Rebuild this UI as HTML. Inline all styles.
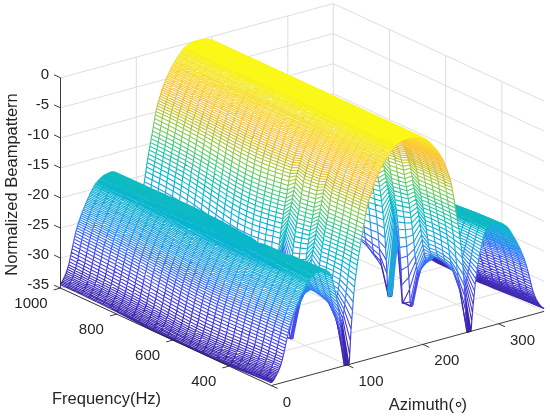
<!DOCTYPE html><html><head><meta charset="utf-8"><style>html,body{margin:0;padding:0;background:#fff;width:550px;height:417px;overflow:hidden}svg{display:block}text{font-family:"Liberation Sans",Arial,Helvetica,sans-serif;fill:#262626}</style></head><body><svg width="550" height="417" viewBox="0 0 550 417"><rect width="550" height="417" fill="#fff"/><path d="M136.3 181.7L136.3 57.1M212.1 40L212.1 36.5M287.8 75.2L287.8 15.9M60.5 288.1L65.1 286.9M544.1 311.4L498 290.1M60.5 258.1L70.6 255.3M544.1 281.4L528.9 274.3M60.5 228L78.1 223.2M544.1 251.3L514.1 237.4M60.5 198L92.4 189.3M130.3 179L145.2 174.9M544.1 221.3L449.7 177.6M60.5 167.9L150.1 143.5M329.9 94.6L333.3 93.7M544.1 191.2L333.3 93.7M60.5 137.9L155.9 111.9M288.9 75.7L333.3 63.7M544.1 161.2L333.3 63.7M60.5 107.8L166 79.1M248.3 56.7L333.3 33.6M544.1 131.1L333.3 33.6M60.5 77.8L195.2 41.1M199.3 40L333.3 3.6M544.1 101.1L333.3 3.6M501.9 223.4L501.9 81.6M284.4 351.1L339.5 336.1M351.1 332.9L461.9 302.8M473.9 299.5L501.9 291.9M445.7 166.1L445.7 55.6M299.7 305.6L324.3 298.9M354.5 290.7L384.9 282.4M393.6 280.1L400.1 278.3M419.9 272.9L444.3 266.3M389.5 122.1L389.5 29.6M116.7 314.1L119.6 313.3M360.1 247.9L367.1 246M333.3 96.1L333.3 3.6M60.5 288.1L65.1 286.9M271.3 385.6L224.8 364.1M224.3 363.9L223.2 363.4M152.4 330.6L151.3 330.1M150.8 329.9L60.5 288.1M343.9 363.5L291 339.1M422.9 344.4L352.3 311.7M324.4 298.8L308 291.3M498.6 323.8L472.5 311.7M462.6 307.1L416.9 286M400.2 278.2L394 275.4M382.5 270L358.4 258.9" stroke="#dadada" stroke-width="0.9" fill="none"/><g fill="none" stroke-width="1.1" stroke-linejoin="round" stroke-linecap="butt"><path stroke="#3e27aa" d="M271.3 382.7l.7 -.6M344.3 365.8l4.8 -1.3 .7 -9.7M467 332.4l4.1 -1.1 .7 -10.2M264.3 379.7l1.4 -1.5M536.4 305.2l.7 .3M257.2 376.8l1.4 -1.5M529.4 302.3l.7 .3M250.2 373.9l2 -2.4M521.7 299l1.4 .8M243.2 371.1l2 -2.5M514.6 296.2l1.4 .8M236.2 368.4l1.4 -1.5 1.3 -2.1M506.9 292.8l1.4 1.1 .6 .3M229.1 365.7l1.4 -1.6 2 -3.2M499.2 289.4l1.4 1.3 1.3 .8M222.1 362.9l.7 -.5 .7 -.9 2 -3.3M492.2 286.7l2 1.9 .7 .1M215.1 359.6l.7 -.2 .7 -.7 2.7 -4.5M290.1 338.2l.7 .8 2 -.5 .4 -3.7M410.8 306.4l1.4 -.4 .6 -1.2 .4 -3.1M413.3 300.9l0 0M484.5 283.1l2 2.2 1 .2M208.1 356.4l1.4 -.4 2.7 -4.6M402.4 303.5l2 -.6M477.5 280.3l2 2.2 .7 -.1M201 353.1l1.4 -.4 .6 -.7 2.1 -3.6M194 349.9l1.4 -.4 .6 -.5 2.1 -3.7M388.4 297l3.4 -.9 .7 -4.8M187 346.6l1.4 -.4 .6 -.4 2.1 -3.8M180 343.4l1.4 -.4 .6 -.6 2.1 -3.7M449.3 267.6l1.4 1.7 .6 .2M172.9 340.1l1.4 -.4 .6 -.8 2.1 -3.9M442.3 264l1.4 1.7 .6 .5 .5 -.1M165.9 336.9l1.4 -.6 2.7 -4.9M435.3 260.3l2 2.5 1 -.1M158.9 333.6l.7 -.2 .7 -.9 2 -3.6M431 259.6l.2 -.1M151.8 330.4l.7 -.6 2 -3.4M144.8 326.7l1.4 -1.9 1.3 -2.4M137.8 322.9l2 -3.1M130.8 319.1l2 -3.1M123.7 315.4l1.4 -2M116.7 311.8l1.4 -2M109.7 308.2l.7 -.9M102.7 304.7l.7 -1M95.6 301.3l.7 -1M88.6 297.9l.7 -1M271.3 382.7l-21.1 -8.8 -28.1 -11.1 -70.3 -32.5 -35.1 -18.5 -14 -7.1 -21.1 -10.2M265 379.1l-14.1 -5.8 -28.1 -10.9 -7 -2.9 -56.2 -26 -28.1 -15.2 -21.1 -11M251.6 372.4l-42.2 -16.5 -35.1 -16.2 -7 -3.4 -42.2 -22.9M238.2 365.9l-28.1 -11 -14.1 -5.9 -7 -3.2 -7 -3.4 -14.1 -7.2 -28.1 -15.4M231.9 362.1l-21.1 -8.3 -14 -6 -7.1 -3.2 -14 -6.9 -21.1 -11.4M218.5 355.4l-14.1 -5.8 -14 -6.3 -14.1 -6.9 -14 -7.5M344.3 365.8l-6.7 -40.9M337.5 324.1l-0 -.2M345 365.6l-1.7 -10.3M343 353.8l0 0M342.7 352.3l0 0M342.5 350.8l0 0M342.2 349.4l0 0M342 347.9l0 0M341.7 346.4l0 0M341.5 344.9l0 0M341.2 343.5l0 0M341 342l-.1 -.5M340.7 340.5l-0 -.2M340.5 339.1l-0 -.2M340.2 337.6l-0 -.2M340 336.1l0 0M345.6 365.4l-2.8 -16.2M346.3 365.2l-4.1 -22.6M342.1 341.8l-.1 -.5M290.1 338.2l-3 -1M347 365l-5.5 -30M341.4 334.3l-.1 -.7M341 332.1l0 0M290.8 339l-3.6 -1.7M347.7 364.8l-7 -38.9M291.5 338.8l-.7 -.3M290.3 338.3l0 0M289.9 338.1l0 0M289.4 337.9l-.5 -.2M288.1 337.3l0 0M287.6 337l0 0M348.4 364.6l-7 -40.1M292.2 338.6l-.7 -.3M349 364.5l-7 -42.4M292.8 338.5l-.7 -.3M280.1 251.8l0 0M402.4 303.5l-5.6 -66.8M396.7 235.7l-.1 -1M388.4 297l-7 -31.5M403.1 303.3l-.3 -3.5M402.7 298.8l-0 -.5M399.7 263.5l-0 -.2M399.5 260.5l0 0M389.1 296.8l-.5 -2.2M385.5 281.5l0 0M385.2 280.5l0 0M384.9 279.3l0 0M384.7 278.4l0 0M384.5 277.4l0 0M384.2 276.2l0 0M384 275.2l0 0M383.7 274.2l0 0M383.6 273.8l0 0M383.5 273l-.1 -.2M383.2 272.1l-.1 -.2M382.9 270.8l-.1 -.2M382.7 269.9l-.1 -.2M382.5 268.9l-.1 -.2M382.2 267.7l-.1 -.2M467 332.4l-7 -41.2M410.8 306.4l-7 -3.2 -.1 -.8M389.7 296.6l-.4 -1.9M467.7 332.2l-1.7 -9.4M465.9 322.1l-.1 -.7M461 294.8l0 0M411.5 306.2l-7 -3.2M390.4 296.4l-.5 -2.2M468.4 332l-2.6 -14.5M412.2 306l-.7 -.3M391.1 296.2l-.5 -2.7M469.1 331.8l-3.6 -19.9M412.9 304.8l-.5 -.1M391.8 296.1l-.5 -2.7M469.8 331.6l-4.5 -25.6M465.1 304.8l-0 -.2M470.4 331.4l-5.7 -33.4M471.1 331.2l-6.9 -42.1M484.5 283.1l-8.8 -3.6M450.9 268.4l-18.7 -9.7M499.2 289.4l-23.6 -9.3M452.2 269.6l0 0M451.8 269.3l-8.8 -4.4 -11.2 -5.9M506.9 292.8l-31.3 -12.3M452.9 270.4l-9.2 -4.6 -12.3 -6.5M521.7 299l-35.1 -13.7 -7.1 -2.8 -3.8 -1.7M453 270.3l-15.6 -7.4 -6.2 -3.3M536.4 305.2l-21.1 -8.6 -21.1 -8.1 -7 -2.9 -5.4 -2.6M481.3 282.9l-.2 -.1M480.6 282.5l0 0M480.2 282.3l0 0M479.7 282.1l-.2 -.1M477.9 281.3l0 0M477.5 281.1l0 0M476.8 280.8l0 0M446 266.5l0 0M445.5 266.3l0 0M444.4 265.8l0 0M443.9 265.6l0 0M443.5 265.4l0 0M441.6 264.5l0 0M441.2 264.3l0 0M440.7 264.1l0 0M440.1 263.8l0 0M439.6 263.6l0 0M439.2 263.4l-1.1 -.5M437.6 262.6l-6.6 -3M544.1 308.5l-14.1 -5.9 -28.1 -11.1 -10.4 -4.4M491.1 286.9l-.7 -.3M489.9 286.3l0 0M489.5 286.1l-.2 -.1M488.1 285.5l0 0"/><path stroke="#3e28ae" d="M272 382.1l1.4 -1.7 2 -3.3M466.4 327.7l.7 4.6M540.7 305.9l2 1.9 1.4 .7M265.6 378.3l2.7 -4.2M533.7 302.9l1.4 1.4 1.3 1M258.6 375.3l2.7 -4.3M526.6 299.9l1.4 1.4 1.3 1M252.3 371.5l2 -3.4M519.6 296.9l2 2M245.2 368.7l2.7 -4.7M511.9 293.3l1.4 1.6 1.3 1.3M238.9 364.8l2 -3.7M504.9 290.5l2 2.4M232.6 360.9l2 -3.9M497.2 286.8l2 2.6M225.5 358.2l2 -3.9M490.1 284l2 2.7M219.2 354.2l1.4 -2.7M410.1 302l.7 4.4M483.1 281.2l1.4 1.9M212.2 351.3l2 -4.2M475.8 278l1.6 2.3M205.1 348.4l2 -4.2M198.1 345.3l2 -4.3M387.7 291.9l.7 5M392.5 291.3l.7 -9.1M191.1 342l2 -4.3M184 338.6l2 -4.4M448 265.6l1.4 2M177 335l2 -4.4M440.3 261l2 3.1M170 331.3l1.4 -2.9M433.9 258.3l1.4 2M162.3 328.9l2 -4.3M154.6 326.3l2 -4.1M147.5 322.4l2 -4.2M139.8 319.8l2 -4M132.8 316l2 -4.1M125.1 313.4l2 -3.9M118.1 309.8l2 -3.9M110.4 307.3l2.7 -5.1M103.3 303.7l2 -3.7M96.3 300.3l2 -3.8M89.3 296.9l2 -3.8M81.6 294.6l2.7 -4.9M74.6 291.2l2.7 -5M67.5 288l2.7 -5M60.5 284.7l2.7 -5.1M81.6 294.6l-21.1 -9.9M272 382.1l-7 -3M110.4 307.3l-21.1 -10.4 -28.1 -13.3M272.7 381.3l-21.1 -8.9M125.1 313.4l-14.1 -7.3 -14 -7 -35.1 -16.8M273.3 380.4l-14.1 -6 -21 -8.5M139.8 319.8l-21.1 -11.3 -14 -7.1 -21.1 -10.4 -21.1 -10M274 379.4l-21.1 -8.9 -21.1 -8.4M154.6 326.3l-28.1 -15.4 -21.1 -10.9M274.7 378.3l-21.1 -9 -35.1 -13.8M162.3 328.9l-35.1 -19.3M247.3 365.2l-35.1 -13.9 -14.1 -6 -7 -3.3 -7 -3.4 -14.1 -7.3 -28.1 -15.5M233.9 358.4l-21.1 -8.4 -14 -6 -7.1 -3.3 -14 -7 -21.1 -11.5M213.5 348.6l-14.1 -6.1 -7 -3.2 -7 -3.5 -14.1 -7.3M387.7 291.9l-7 -30.5M466.4 327.7l-7 -40.1M410.1 302l-7 1.3M392.5 291.3l-.2 -1.2M446.4 264.1l-13 -6.8M497.2 286.8l-21.3 -8.5M448 265.6l-15.1 -7.9M511.9 293.3l-36 -14.3M450 267.3l0 0M449.5 267.1l-17.1 -8.9M540.7 305.9l-21.1 -9 -35.1 -13.8M541.4 306.6l-21.1 -8.9 -21.1 -8.4M542.1 307.3l-14.1 -6 -21 -8.5M542.7 307.8l-21.1 -8.9M543.4 308.2l-7 -3"/><path stroke="#3f2bb4" d="M275.4 377.1l2 -3.9M349.7 354.8l.7 -13.7M538.6 303.3l2 2.6M268.4 374l2 -3.9M531.6 300.2l2 2.6M261.3 371l2 -4M524.6 297.2l2 2.7M254.3 368.1l2 -4M517.6 294.2l2 2.7M248 363.9l2 -4.2M509.9 290.3l2 2.9M240.9 361.1l2 -4.3M502.8 287.5l2 3M234.6 357l1.4 -3M495.8 284.7l1.4 2.1M227.6 354.2l2 -4.6M488.1 280.8l2 3.2M220.5 351.4l2 -4.7M289.4 332l.7 6.2M481.1 277.9l2 3.3M214.2 347.1l1.4 -3.3M207.2 344.1l1.4 -3.3M200.1 341l1.4 -3.3M193.1 337.7l1.4 -3.4M186.1 334.3l1.4 -3.4M179.1 330.6l1.4 -3.5M439.1 258.9l1.1 2M171.4 328.4l2 -5.1M433.4 257.4l.6 .9M164.3 324.6l1.4 -3.3M156.6 322.2l2 -4.8M149.6 318.3l1.4 -3.1M141.9 315.8l2 -4.6M134.9 311.9l1.4 -3M127.2 309.6l2 -4.5M120.1 305.8l1.4 -2.9M113.1 302.2l1.4 -3M105.4 300l2 -4.4M98.4 296.5l2 -4.5M91.3 293.1l1.4 -3M84.3 289.7l1.4 -3M77.3 286.3l1.4 -3M70.3 282.9l1.4 -3M63.2 279.6l1.4 -3.1M105.4 300l-21.1 -10.4 -21.1 -10.1M127.2 309.6l-14.1 -7.4 -14 -7.1 -35.1 -17M275.4 377.1l-14.1 -6.1 -14 -5.8M141.9 315.8l-21.1 -11.4 -28.1 -14.3M276.1 375.8l-21.1 -9 -21.1 -8.5M156.6 322.2l-21.1 -11.7 -14 -7.6M276.8 374.5l-21.1 -9.1 -42.1 -16.9M171.4 328.4l-35.1 -19.5M249.3 361.2l-35.1 -14.1 -14.1 -6.1 -7 -3.3 -7 -3.4 -14.1 -7.4 -21.1 -11.8M228.9 351.2l-21.1 -8.7 -14 -6.5 -14.1 -7.1 -14 -7.6M289.4 332l-1.3 .8M349.7 354.8l-7 -36.1M488.1 280.8l-12 -4.9M509.9 290.3l-33.8 -13.5M444 262l0 0M443.1 261.6l-9.4 -5M538.6 303.3l-21.1 -9.1 -41.7 -16.7M539.3 304.2l-21.1 -9 -21.1 -8.5M540 305.1l-14.1 -6.1 -14 -5.8"/><path stroke="#402dbb" d="M277.4 373.2l1.4 -3M343.6 356l.7 9.8M471.8 321.1l.7 -8.8M537.3 301.3l1.4 2.1M270.4 370.1l1.4 -3M530.3 298.1l1.4 2.1M263.4 367l2 -4.7M522.5 293.9l2 3.3M256.4 364.1l2 -4.8M515.5 290.9l2 3.4M250 359.7l1.4 -3.3M508.5 288l1.4 2.4M243 356.9l1.4 -3.4M501.5 285.1l1.4 2.4M236 354l1.4 -3.4M494.4 282.3l1.4 2.4M229.6 349.6l1.4 -3.7M486.7 278l1.4 2.7M222.6 346.7l1.4 -3.8M479.7 275.2l1.4 2.7M215.6 343.8l1.4 -3.8M208.5 340.8l1.4 -3.9M201.5 337.6l1.4 -3.9M194.5 334.3l1.4 -4M187.5 330.8l1.4 -4M180.4 327.2l1.4 -4M173.4 323.4l.7 -2M165.7 321.3l1.4 -3.8M158.7 317.4l1.4 -3.9M151 315.1l1.4 -3.6M143.9 311.2l1.4 -3.7M136.2 308.9l1.4 -3.4M129.2 305.1l1.4 -3.5M121.5 302.9l2 -5.1M114.5 299.2l1.4 -3.3M107.4 295.6l1.4 -3.3M100.4 292.1l1.4 -3.4M92.7 290.1l2 -5M85.7 286.7l2 -5M78.6 283.3l2 -5.1M71.6 279.9l1.4 -3.3M64.6 276.5l1.4 -3.4M92.7 290.1l-28.1 -13.6M121.5 302.9l-21.1 -10.8 -35.1 -17.2M136.2 308.9l-14.1 -7.6 -14 -7.3 -35.1 -17.4M277.4 373.2l-14.1 -6.1 -14 -5.9M151 315.1l-21.1 -11.7 -14 -7.5M278.1 371.7l-21.1 -9.1 -28.1 -11.4M165.7 321.3l-28.1 -15.8M264.7 364l-14.1 -5.9 -35.1 -14.3 -14 -6.2 -7.1 -3.3 -14 -7.1 -28.1 -15.7M230.3 347.8l-14.1 -5.8 -14 -6.2 -14.1 -6.9 -14 -7.5M343.6 356l-7 -35M471.8 321.1l-7 -35M486.7 278l-10.4 -4.3M522.5 293.9l-14.1 -5.9 -32.1 -13.1M537.3 301.3l-21.1 -9.1 -28.1 -11.4M538 302.3l-14.1 -6.1 -14 -5.9"/><path stroke="#4130c3" d="M278.8 370.2l1.4 -3.5M535.9 298.8l1.4 2.5M271.8 367.1l2 -5.5M528.2 294.2l2 3.9M265.4 362.3l1.4 -3.8M521.2 291.1l1.4 2.8M258.4 359.3l1.4 -3.9M514.2 288.1l1.4 2.8M251.4 356.4l1.4 -3.9M507.1 285.1l1.4 2.9M244.4 353.5l1.4 -4M500.1 282.2l1.4 2.9M237.3 350.6l1.4 -4M493.1 279.3l1.4 3M231 345.8l.7 -2.1M486 276.5l.7 1.6M224 343l1.4 -4.7M289 328.6l.4 3.4M478.3 271.8l1.4 3.4M216.9 340l1.4 -4.8M209.9 336.9l1.4 -4.8M202.9 333.7l1.4 -4.9M393.3 280.7l.1 -1M393.5 277.7l0 -.5M195.8 330.4l1.4 -5M188.8 326.8l1.4 -5.1M181.8 323.1l.7 -2.4M174.1 321.4l1.4 -4.6M167.1 317.5l1.4 -4.7M160 313.5l.7 -2.2M152.3 311.5l1.4 -4.3M145.3 307.5l1.4 -4.4M137.6 305.5l1.4 -4M130.6 301.6l1.4 -4.1M123.5 297.8l1.4 -4.1M115.8 295.9l1.4 -3.8M108.8 292.3l1.4 -3.9M101.8 288.7l1.4 -3.9M94.7 285.1l1.4 -4M87.7 281.6l1.4 -4M80.7 278.2l.7 -2M73 276.6l1.4 -3.8M66 273.1l1.4 -3.9M73 276.6l-7 -3.4M115.8 295.9l-21.1 -10.8 -28.1 -13.8M137.6 305.5l-14.1 -7.7 -14 -7.4 -28.1 -14.2M278.8 370.2l-14.1 -6.2M152.3 311.5l-21.1 -11.8 -14 -7.6M279.5 368.5l-21.1 -9.2 -28.1 -11.6M174.1 321.4l-35.1 -19.9M273.1 363.6l-21.1 -9.1 -35.1 -14.5 -14.1 -6.2 -7 -3.4 -14 -7.2 -21.1 -11.9M224.6 340.8l-14.1 -6.1 -7 -3.2 -7 -3.5 -14.1 -7.3M478.3 271.8l-1.6 -.7M528.2 294.2l-21.1 -9.1 -30.6 -12.6M535.9 298.8l-21.1 -9.2 -28.1 -11.6M536.6 300.1l-14.1 -6.2"/><path stroke="#4233cb" d="M280.2 366.7l1.4 -4.1M342.9 347.6l.7 8.4M472.5 312.3l.7 -7.7M534.6 295.8l1.4 3M273.8 361.6l.7 -2.2M527.5 292.6l.7 1.6M266.8 358.5l.7 -2.3M520.5 289.5l.7 1.6M259.8 355.4l.7 -2.3M513.5 286.4l.7 1.6M252.7 352.4l1.4 -5M505.8 281.5l1.4 3.6M245.7 349.5l1.4 -5.1M498.7 278.5l1.4 3.7M238.7 346.6l1.4 -5.1M491.7 275.6l1.4 3.8M231.7 343.7l1.4 -5.2M484.7 272.6l1.4 3.9M225.3 338.3l.7 -2.8M409.5 289.5l.7 12.5M477.7 269.7l.7 2.1M218.3 335.3l.7 -2.8M401.7 285l.7 18.5M211.3 332.1l.7 -2.9M204.2 328.8l.7 -2.9M197.2 325.4l.7 -2.9M190.2 321.8l.7 -2.9M182.5 320.7l1.4 -5.7M175.4 316.8l.7 -2.8M168.4 312.8l.7 -2.8M160.7 311.3l1.4 -5.4M153.7 307.2l.7 -2.6M146.7 303.2l.7 -2.6M139 301.5l1.4 -5M131.9 297.5l.7 -2.4M124.9 293.7l.7 -2.4M117.2 292.1l1.4 -4.6M110.2 288.4l1.4 -4.7M103.1 284.7l1.4 -4.8M96.1 281.2l.7 -2.3M89.1 277.6l.7 -2.3M81.4 276.2l1.4 -4.5M74.3 272.7l1.4 -4.5M67.3 269.3l1.4 -4.6M81.4 276.2l-14.1 -6.9M117.2 292.1l-21.1 -10.9 -28.1 -14.1M139 301.5l-21.1 -11.6 -21.1 -11M280.2 366.7l-7 -3.2M160.7 311.3l-28.1 -16.1M280.8 364.8l-21.1 -9.4 -35.1 -14.6M182.5 320.7l-14.1 -7.9 -14 -8.2M253.4 350.1l-28.1 -11.8 -14.1 -6.2 -14 -6.7 -7 -3.6 -14.1 -7.8M342.9 347.6l-7 -28.6M281 252.9l-.2 -2M401.7 285l-6.1 -57.9M395.5 225.9l-0 -.2M409.5 289.5l-7 14M472.5 312.3l-7 -28.6M505.8 281.5l-28.6 -12M534.6 295.8l-21.1 -9.4 -35.1 -14.6M535.2 297.4l-7 -3.2"/><path stroke="#4336d4" d="M281.5 362.6l1.4 -5.3M465.7 310.5l.7 17.2M533.2 291.9l1.4 3.9M274.5 359.4l1.4 -5.3M526.2 288.6l1.4 4M267.5 356.2l1.4 -5.4M519.1 285.4l1.4 4.1M260.5 353.1l1.4 -5.5M512.1 282.3l1.4 4.2M254.1 347.4l.7 -2.9M505.1 279.2l.7 2.3M247.1 344.4l.7 -2.9M498.1 276.2l.7 2.3M240.1 341.5l.7 -2.9M491 273.2l.7 2.3M233 338.5l.7 -3M484 270.2l.7 2.4M226 335.5l.7 -3M477.2 267.9l.5 1.8M219 332.4l.7 -3M211.9 329.3l.7 -3M204.9 325.9l.7 -3.1M197.9 322.5l.7 -3.1M190.9 318.8l.7 -3.1M183.8 315l.7 -3.1M176.1 314l1.4 -6.2M169.1 310l.7 -3M162.1 305.9l.7 -3.1M154.4 304.6l1.4 -6M147.3 300.5l.7 -2.9M140.3 296.4l.7 -3M132.6 295.2l1.4 -5.7M125.6 291.3l.7 -2.8M118.6 287.4l.7 -2.8M111.5 283.6l.7 -2.9M104.5 279.9l.7 -2.9M96.8 278.9l1.4 -5.6M89.8 275.3l1.4 -5.6M82.7 271.7l.7 -2.7M75.7 268.2l.7 -2.8M68.7 264.6l.7 -2.8M96.8 278.9l-28.1 -14.2M132.6 295.2l-21.1 -11.5 -28.1 -14.6M154.4 304.6l-28.1 -16.1M281.5 362.6l-14.1 -6.4 -14 -6.1M176.1 314l-28.1 -16.4M282.2 360.1l-21.1 -9.6 -42.1 -18.1 -14.1 -6.5 -14 -7.1 -21.1 -11.9M465.7 310.5l-7 -27.6M533.2 291.9l-21.1 -9.6 -34.7 -14.8M533.9 294l-14.1 -6.4 -14 -6.1"/><path stroke="#443add" d="M282.9 357.4l.7 -3M342.2 340.2l.7 7.3M350.4 341l.7 -11.5M473.2 304.6l.7 -7M532.5 289.5l.7 2.4M275.9 354.1l.7 -3M525.5 286.2l.7 2.4M268.8 350.8l.7 -3M518.5 282.9l.7 2.5M261.8 347.7l.7 -3M511.4 279.8l.7 2.5M254.8 344.6l.7 -3M504.4 276.7l.7 2.5M247.8 341.5l.7 -3.1M497.4 273.6l.7 2.5M240.7 338.5l.7 -3.1M490.3 270.6l.7 2.6M233.7 335.5l.7 -3.1M483.3 267.6l.7 2.6M226.7 332.5l.7 -3.1M219.7 329.4l.7 -3.1M212.6 326.2l.7 -3.2M205.6 322.9l.7 -3.2M387 274.1l.7 17.8M198.6 319.4l.7 -3.2M191.5 315.7l.7 -3.2M184.5 311.9l.7 -3.2M177.5 307.9l.7 -3.2M169.8 307l.7 -3.2M162.8 302.8l.7 -3.2M155.7 298.6l.7 -3.2M148 297.6l.7 -3.1M141 293.5l.7 -3.1M134 289.4l.7 -3.2M126.3 288.5l1.4 -6.2M119.2 284.6l.7 -3.1M112.2 280.8l.7 -3.1M105.2 277l.7 -3.1M98.2 273.3l.7 -3.1M91.1 269.7l.7 -3.2M83.4 269l1.4 -6.2M76.4 265.4l.7 -3M69.4 261.8l.7 -3.1M83.4 269l-14.1 -7.2M126.3 288.5l-21.1 -11.4 -28.1 -14.7M148 297.6l-28.1 -16M169.8 307l-21.1 -12.5M282.9 357.4l-21.1 -9.7 -42.1 -18.2 -14.1 -6.6 -14 -7.2 -21.1 -11.9M342.2 340.2l-7 -23.4M350.4 341l-7 -26.6M387 274.1l-7 -18.7M473.2 304.6l-7 -23.4M532.5 289.5l-21.1 -9.7 -33.8 -14.6"/><path stroke="#453ee3" d="M283.6 354.4l.7 -3.1M531.8 286.9l.7 2.6M276.5 351.1l.7 -3.1M524.8 283.5l.7 2.6M269.5 347.8l.7 -3.1M517.8 280.3l.7 2.6M262.5 344.6l.7 -3.1M510.7 277.1l.7 2.7M255.5 341.5l.7 -3.1M503.7 274l.7 2.7M248.4 338.5l.7 -3.2M496.7 270.9l.7 2.7M241.4 335.4l.7 -3.2M489.7 267.9l.7 2.7M234.4 332.4l.7 -3.2M482.6 264.9l.7 2.7M227.4 329.4l.7 -3.2M220.3 326.3l.7 -3.2M213.3 323.1l.7 -3.2M206.3 319.7l.7 -3.2M199.3 316.2l.7 -3.2M381.4 265.5l.6 1.3M192.2 312.5l.7 -3.2M185.2 308.6l.7 -3.2M178.2 304.6l.7 -3.3M170.5 303.8l.7 -3.2M163.4 299.6l.7 -3.3M156.4 295.4l.7 -3.3M148.7 294.5l1.4 -6.5M141.7 290.4l.7 -3.2M134.7 286.3l.7 -3.3M127.6 282.3l.7 -3.3M119.9 281.6l1.4 -6.5M112.9 277.7l.7 -3.2M105.9 273.9l.7 -3.2M98.8 270.2l.7 -3.3M91.8 266.5l.7 -3.3M84.8 262.8l.7 -3.3M77.1 262.4l1.4 -6.5M70 258.8l.7 -3.2M77.1 262.4l-7 -3.6M119.9 281.6l-21.1 -11.4 -28.1 -14.6M148.7 294.5l-21.1 -12.2 -14 -7.8M170.5 303.8l-28.1 -16.7M283.6 354.4l-21.1 -9.8 -42.1 -18.3 -14.1 -6.6 -14 -7.2 -21.1 -11.9M282.1 254l-.6 -4.5M381.4 265.5l-7 -9.8M381.9 266.8l-6.8 -10.7M531.8 286.9l-21.1 -9.8 -32.6 -14.1"/><path stroke="#4642e7" d="M284.3 351.3l.7 -3.2M531.1 284.1l.7 2.7M277.2 348l.7 -3.2M524.1 280.8l.7 2.7M270.2 344.7l.7 -3.2M517.1 277.5l.7 2.8M263.2 341.5l.7 -3.2M510.1 274.3l.7 2.8M256.2 338.4l.7 -3.2M503 271.2l.7 2.8M249.1 335.3l.7 -3.2M496 268.1l.7 2.8M242.1 332.3l.7 -3.2M489 265.1l.7 2.8M235.1 329.2l.7 -3.2M482 262.1l.7 2.8M228 326.2l.7 -3.2M408.8 277.3l.7 12.2M221 323.1l1.4 -6.4M214 319.8l1.4 -6.4M207 316.5l.7 -3.2M199.9 313l.7 -3.2M380.7 261.4l.7 4.1M192.9 309.3l.7 -3.2M185.9 305.4l.7 -3.2M178.9 301.4l.7 -3.2M171.1 300.5l1.4 -6.5M164.1 296.4l.7 -3.3M157.1 292.2l.7 -3.3M150.1 288l.7 -3.3M142.4 287.1l.7 -3.3M135.3 283l.7 -3.3M128.3 279l.7 -3.3M121.3 275.1l.7 -3.3M113.6 274.5l.7 -3.3M106.5 270.7l.7 -3.3M99.5 266.9l.7 -3.3M92.5 263.2l.7 -3.3M85.5 259.5l.7 -3.3M78.4 255.8l.7 -3.3M70.7 255.5l.7 -3.3M113.6 274.5l-42.2 -22.3M142.4 287.1l-14.1 -8.1 -14 -7.8M171.1 300.5l-28.1 -16.7M284.3 351.3l-21.1 -9.8 -42.1 -18.4 -14.1 -6.6 -7 -3.5 -14.1 -7.6 -21.1 -12.3M221.7 319.9l-14.1 -6.6M408.8 277.3l-7 7.7M380.7 261.4l-7 -7.9M531.1 284.1l-21.1 -9.8 -31.7 -13.8"/><path stroke="#4647eb" d="M284.9 348.1l.7 -3.2M341.5 333.6l.7 6.7M351.1 329.5l.7 -10M465 297l.7 13.6M473.9 297.6l.7 -6.6M530.5 281.4l.7 2.8M277.9 344.8l.7 -3.2M340.7 325.9l.7 -1.4M523.4 278l.7 2.8M270.9 341.5l.7 -3.2M516.4 274.7l.7 2.8M263.9 338.3l.7 -3.2M509.4 271.5l.7 2.8M256.8 335.2l.7 -3.2M502.4 268.4l.7 2.8M249.8 332.1l.7 -3.2M495.3 265.3l.7 2.8M242.8 329.1l.7 -3.2M488.3 262.3l.7 2.8M235.8 326l1.4 -6.3M480.6 256.4l1.4 5.7M228.7 323l1.4 -6.3M222.4 316.7l.7 -3.1M401.1 270.4l.7 14.6M215.4 313.4l.7 -3.1M207.6 313.3l1.4 -6.3M200.6 309.7l.7 -3.2M193.6 306l.7 -3.2M374.3 255.7l.5 .1M186.6 302.2l.7 -3.2M179.5 298.2l.7 -3.2M172.5 294.1l.7 -3.2M164.8 293.1l.7 -3.2M157.8 288.9l.7 -3.2M150.8 284.7l.7 -3.2M143 283.8l.7 -3.3M136 279.7l.7 -3.3M129 275.7l.7 -3.3M122 271.8l.7 -3.3M114.3 271.2l.7 -3.3M107.2 267.4l.7 -3.3M100.2 263.6l.7 -3.3M93.2 259.9l.7 -3.3M86.1 256.2l.7 -3.3M79.1 252.5l.7 -3.3M71.4 252.2l1.4 -6.7M114.3 271.2l-42.2 -22.4M143 283.8l-14.1 -8.1 -14 -7.8M164.8 293.1l-21.1 -12.5M284.9 348.1l-21.1 -9.8 -42.1 -18.5M207.6 313.3l-7 -3.5 -14.1 -7.6 -21.1 -12.3M236.4 322.8l-21.1 -9.4 -14 -6.9M341.5 333.6l-7 -19.2M340.7 325.9l-.4 -1.2M351.1 329.5l-7 -19.9M401.1 270.4l-6.8 -51.3M394.2 218.5l-.1 -.7M465 297l-7 -19.7M374.3 255.7l-7 -9.6M374.9 255.6l-.1 -.2M374.4 255l0 0M374.2 254.6l0 0M373.7 254l-.3 -.4M372.5 252.1l0 0M371.2 250.3l0 0M460.5 292.3l-.1 -.2M460.2 291.6l-3.4 -10.4M456.7 280.7l-1.1 -3.3M455.4 277l-.1 -.2M455.2 276.3l-.5 -1.7M454.4 273.9l0 0M453.7 271.8l0 0M473.9 297.6l-7 -19.2M480.6 256.4l-1.4 -.6M530.5 281.4l-21.1 -9.8 -30.6 -13.4"/><path stroke="#474cef" d="M285.6 345l.7 -3.2M340.9 327.4l.7 6.2M474.5 291l.7 -6.2M529.8 278.5l.7 2.8M278.6 341.6l.7 -3.2M341.3 324.5l1.4 -5.8M460 291.1l.2 .6M460.4 292.2l.1 .2M522.8 275.2l.7 2.8M271.6 338.3l.7 -3.2M515.7 271.9l.7 2.8M264.5 335.1l.7 -3.2M508.7 268.7l.7 2.8M257.5 332l.7 -3.1M501.7 265.6l.7 2.8M250.5 328.9l.7 -3.1M494.6 262.5l.7 2.8M243.5 325.9l1.4 -6.2M486.9 256.7l1.4 5.6M237.1 319.7l.7 -3M297.3 304.6l.5 .6 .7 .4 .7 -.4 .7 -1.4 .5 -2M300.5 301.3l0 0M417.8 272.3l.7 .6 .7 -.6 1.4 -2.9M421 268.5l0 0M479.9 253.7l.7 2.8M230.1 316.7l.7 -3M223.1 313.5l.7 -3M216 310.3l.7 -3M209 307l.7 -3M386.3 260.1l.7 14M201.3 306.5l1.4 -6.1M380 255.4l.7 6M194.3 302.9l.7 -3.1M373.6 253.5l.7 2.2M187.2 299l.7 -3.1M180.2 295l.7 -3.1M173.2 290.9l.7 -3.1M165.5 289.9l.7 -3.2M158.5 285.7l.7 -3.1M151.4 281.5l.7 -3.1M143.7 280.6l.7 -3.2M136.7 276.5l.7 -3.2M129.7 272.4l.7 -3.2M122.6 268.5l.7 -3.2M114.9 267.9l.7 -3.3M107.9 264.1l.7 -3.3M100.9 260.3l.7 -3.3M93.9 256.6l.7 -3.3M86.8 252.9l.7 -3.3M79.8 249.2l.7 -3.3M72.8 245.5l.7 -3.2M114.9 267.9l-42.2 -22.4M143.7 280.6l-14.1 -8.1 -14 -7.8M165.5 289.9l-21.1 -12.5M285.6 345l-21.1 -9.8 -28.1 -12.3M201.3 306.5l-14.1 -7.6 -21 -12.2M244.1 322.7l-14.1 -6.1 -14 -6.3 -14.1 -6.9 -7 -3.7M340.9 327.4l-7 -15.7M336.4 319.8l0 0M336.2 319.1l0 0M335.9 318.4l0 0M335.4 317l0 0M294.6 311l-.1 .2M294.4 311.8l-.1 .5M294.1 312.7l-4.7 19.3M297.1 304.7l-7 33.5M297.8 305.2l-7 33.8M298.5 305.6l-7 33.2M341.3 324.5l-1.6 -4.7M339.6 319.4l-.1 -.2M299.2 305.2l-7 33.5M342 322.1l-3.3 -9.1M299.9 303.8l-7 34.7M386.3 260.1l-7 -11.9M380 255.4l-7 -6M373.6 253.5l-7 -8.4M460 291.1l-7 -20.3M417.8 272.3l-7 34.1M418.5 272.9l-7 33.3M419.2 272.2l-7 33.8M419.9 271.1l-7 33.7M420.6 269.6l-3.8 15.4M416.7 285.5l-.2 .7M416.4 286.7l-.1 .5M416.1 287.9l-.1 .2M415.8 289.1l0 0M415.6 290.1l0 0M415.3 291.3l0 0M474.5 291l-7 -15.7M486.9 256.7l-7.3 -3.1M529.8 278.5l-21.1 -9.8 -28.1 -12.3"/><path stroke="#4751f3" d="M286.3 341.8l1.4 -6.1M528.4 273l1.4 5.5M279.3 338.4l.7 -3.1M336.6 320.9l.2 .4M336.9 321.8l.1 .2M342.7 318.7l.7 -4.2M459.3 287.7l.7 3.5M464.3 287.7l1.2 -3.9M522.1 272.4l.7 2.8M272.3 335.2l.7 -3.1M515 269.1l.7 2.8M265.2 332l1.4 -6.1M507.3 263.2l1.4 5.5M258.2 328.8l1.4 -6M500.3 260.1l1.4 5.5M251.2 325.8l1.4 -6M493.3 257l1.4 5.5M244.8 319.7l.7 -2.9M486.3 254l.7 2.7M237.8 316.7l.7 -2.9M300.5 301.3l0 0M417.2 270l.7 2.3M479.8 253.2l.1 .4M230.8 313.6l.7 -2.9M408.1 266.1l.7 11.1M223.7 310.5l.7 -2.9M216.7 307.3l.7 -2.9M209.7 304l.7 -2.9M202.7 300.5l.7 -2.9M195 299.8l1.4 -5.8M373 249.4l.7 4.1M187.9 295.9l.7 -3M366.6 245.1l.7 1 .3 -.3M180.9 291.9l.7 -3M173.9 287.8l.7 -2.9M166.2 286.7l1.4 -6M159.1 282.5l.7 -3M152.1 278.4l.7 -3M144.4 277.3l1.4 -6.1M137.4 273.3l.7 -3.1M130.4 269.2l.7 -3.1M123.3 265.3l.7 -3.1M115.6 264.6l1.4 -6.3M108.6 260.8l.7 -3.2M101.6 257l.7 -3.2M94.5 253.3l.7 -3.2M87.5 249.6l.7 -3.2M80.5 245.9l.7 -3.2M73.5 242.3l.7 -3.1M115.6 264.6l-21.1 -11.3 -21.1 -11.1M144.4 277.3l-14.1 -8.1 -21 -11.6M166.2 286.7l-28.1 -16.6M286.3 341.8l-21.1 -9.8 -21.1 -9.3M195 299.8l-14.1 -7.8 -21 -12.5M287 338.7l-7 -3.3M265.9 328.9l-35.1 -15.3 -14.1 -6.3 -14 -6.8 -14.1 -7.5M336.6 320.9l-4.7 -11.8M331.7 308.7l0 0M331.5 308.2l0 0M337 321.9l0 0M336.7 321.2l-2.3 -6.3M334.2 314.5l0 0M334 313.8l-.1 -.2M333.7 313.1l0 0M342.7 318.7l-4.9 -12.4M300.5 301.3l0 0M300.4 301.8l-2.6 11.2M297.7 313.5l-.1 .5M297.4 314.7l-.1 .5M297.1 315.9l-.1 .2M296.8 317.1l0 0M296.5 318.3l0 0M283.2 254.4l-1 -6.6M408.1 266.1l-7 4.2M373 249.4l-7 -7M366.6 245.1l-5.5 -4.5M367.3 246.1l-6.3 -5.6M459.3 287.7l-7 -18.4M417.2 270l-7 32M421 268.6l0 0M420.9 269.1l-2.6 8.8M418.2 278.4l-.1 .5M417.9 279.4l-.1 .2M417.5 280.5l0 0M421 268.6l0 0M420.9 269l-1.3 3.7M419.3 273.5l0 0M464.8 286.1l-.7 -1.9M528.4 273l-7 -3.3M507.3 263.2l-27.2 -11.8M529.1 275.8l-21.1 -9.8 -21.1 -9.3"/><path stroke="#4557f5" d="M287.7 335.7l.7 -2.9M340.2 321.6l.7 5.8M351.8 319.6l.7 -9.2M475.2 284.8l.7 -5.8M527.7 270.4l.7 2.6M280 335.4l1.4 -5.9M335.9 319l.7 1.9M465.5 283.8l.7 -2.5M520.7 267.1l1.4 5.4M272.9 332.1l1.4 -5.9M513.7 263.8l1.4 5.3M266.6 325.9l.7 -2.9M506.7 260.6l.7 2.6M259.6 322.8l.7 -2.8M499.6 257.5l.7 2.6M252.5 319.7l.7 -2.8M492.6 254.4l.7 2.6M245.5 316.7l.7 -2.8M485.6 251.4l.7 2.6M238.5 313.7l.7 -2.8M416.5 266.2l.7 3.8M231.5 310.7l.7 -2.8M224.4 307.6l.7 -2.8M400.4 258.3l.7 12.1M217.4 304.4l.7 -2.8M210.4 301.1l.7 -2.7M203.3 297.6l.7 -2.7M196.3 293.9l.7 -2.7M188.6 292.9l1.4 -5.5M365.9 242.4l.7 2.7M181.6 289l.7 -2.8M174.6 284.9l.7 -2.8M167.5 280.8l.7 -2.8M159.8 279.5l.7 -2.9M152.8 275.3l.7 -2.9M145.8 271.2l.7 -2.9M138.1 270.1l.7 -3M131 266.1l.7 -3M124 262.2l.7 -3M117 258.3l.7 -3M109.3 257.6l1.4 -6M102.2 253.8l.7 -3.1M95.2 250.1l.7 -3.1M88.2 246.4l.7 -3M81.2 242.8l.7 -3M74.1 239.1l.7 -3M109.3 257.6l-35.1 -18.5M138.1 270.1l-14.1 -7.9 -21 -11.5M159.8 279.5l-21.1 -12.4M280 335.4l-14.1 -6.5M188.6 292.9l-28.1 -16.4M287.7 335.7l-21.1 -9.8 -35.1 -15.2 -14.1 -6.3 -14 -6.8 -7 -3.6 -14.1 -7.8M340.2 321.6l-7 -12.9M335.9 319l-6.5 -15.1M351.8 319.6l-7 -15.2M400.4 258.3l-7 -43.5M365.9 242.4l-4.6 -3.3M416.5 266.2l-7 23.3M465.5 283.8l-1.7 -3.9M475.2 284.8l-7 -12.9M527.7 270.4l-21.1 -9.8 -26 -11.3M521.4 269.7l-14.1 -6.5"/><path stroke="#425ef7" d="M288.4 332.8l.7 -2.8M464.3 285.5l.7 11.4M527 267.8l.7 2.5M281.3 329.5l.7 -2.8M334.5 314.4l1.4 4.6M343.4 314.5l.7 -4.8M458.6 282.9l.7 4.8M466.1 281.3l1.4 -6M520 264.5l.7 2.5M274.3 326.2l.7 -2.7M513 261.3l.7 2.5M267.3 323l.7 -2.7M506 258.1l.7 2.5M260.2 319.9l.7 -2.7M498.9 255l.7 2.5M253.2 316.9l.7 -2.7M491.9 252l.7 2.5M246.2 313.9l.7 -2.7M484.9 249l.7 2.4M239.2 310.9l.7 -2.7M415.8 261.1l.7 5M232.1 307.9l.7 -2.6M225.1 304.8l.7 -2.6M218.1 301.7l1.4 -5M211.1 298.3l1.4 -5M204 294.9l.7 -2.6M379.3 248.2l.7 7.2M197 291.2l.7 -2.5M372.3 243.7l.7 5.6M190 287.4l.7 -2.5M182.3 286.2l1.4 -5.2M175.2 282.1l.7 -2.6M168.2 278l.7 -2.6M160.5 276.6l1.4 -5.4M153.5 272.4l.7 -2.7M146.5 268.3l.7 -2.7M138.7 267.1l1.4 -5.6M131.7 263.1l.7 -2.8M124.7 259.2l.7 -2.8M117.7 255.4l.7 -2.8M110.6 251.6l.7 -2.8M102.9 250.8l1.4 -5.7M95.9 247.1l.7 -2.9M88.9 243.4l.7 -2.9M81.8 239.7l.7 -2.9M74.8 236.1l.7 -2.9M102.9 250.8l-28.1 -14.7M138.7 267.1l-21.1 -11.8 -21.1 -11.2M160.5 276.6l-28.1 -16.3M182.3 286.2l-28.1 -16.5M288.4 332.8l-21.1 -9.7 -42.1 -18.2 -14.1 -6.5 -14 -7.1 -21.1 -11.8M218.8 299.1l-14.1 -6.8M334.5 314.4l-7 -13.4M335.2 316.9l-7 -14.9M343.4 314.5l-6.8 -15.3M379.3 248.2l-7 -4.5 -7.1 -5.5M464.3 285.5l-7 -14.5M415.8 261.1l-7 16.1M458.6 282.9l-7 -16M466.1 281.3l-2.6 -5.4M463.4 275.4l-.1 -.2M466.8 278.4l-3.8 -7.3M527 267.8l-21.1 -9.7 -24.9 -10.8"/><path stroke="#3e65f9" d="M289 330l.7 -2.6M339.5 316.2l.7 5.4M475.9 279.1l.7 -5.3M526.4 265.4l.7 2.4M282 326.7l.7 -2.6M333.8 311.7l.7 2.8M344.1 309.6l.7 -5.3M458 277.3l.7 5.6M467.5 275.3l.7 -3.4M519.3 262.1l.7 2.4M275 323.5l.7 -2.6M512.3 258.9l.7 2.4M268 320.3l.7 -2.6M505.3 255.8l.7 2.4M260.9 317.2l.7 -2.6M498.3 252.7l.7 2.3M253.9 314.2l.7 -2.5M491.2 249.7l.7 2.3M246.9 311.2l1.4 -4.9M300.8 295.6l2 -.6 .7 -.5 1.1 -1.4M426.9 260.4l1.4 .5 2 -.5 1.4 -1 1.3 -1.9M483.5 244.5l1.4 4.4M239.8 308.3l1.4 -4.8M232.8 305.3l1.4 -4.8M407.4 256l.7 10.2M225.8 302.2l1.4 -4.7M219.4 296.6l.7 -2.3M212.4 293.3l.7 -2.2M385.6 248.3l.7 11.8M204.7 292.3l1.4 -4.6M197.7 288.7l1.4 -4.6M190.7 284.9l1.4 -4.5M365.3 238.2l.7 4.2M183.6 281l.7 -2.3M175.9 279.5l1.4 -4.8M168.9 275.3l.7 -2.5M161.9 271.2l.7 -2.4M154.2 269.7l1.4 -5M147.1 265.6l.7 -2.6M140.1 261.6l.7 -2.5M132.4 260.3l1.4 -5.2M125.4 256.4l.7 -2.7M118.3 252.6l.7 -2.7M111.3 248.8l.7 -2.6M104.3 245.1l.7 -2.6M96.6 244.2l1.4 -5.4M89.6 240.5l1.4 -5.3M82.5 236.9l.7 -2.7M75.5 233.2l.7 -2.7M96.6 244.2l-21.1 -10.9M132.4 260.3l-21.1 -11.5 -28.1 -14.7M154.2 269.7l-14.1 -8.1 -14 -7.9M175.9 279.5l-28.1 -16.4M289 330l-21.1 -9.7 -35.1 -15 -14.1 -6.2M204.7 292.3l-14.1 -7.4 -21 -12M247.6 308.7l-21.1 -9 -14 -6.4 -14.1 -7 -14 -7.6M339.5 316.2l-7 -10.7M333.8 311.7l-7 -12M300.8 295.6l0 0M301.4 295.5l-.7 .3M302.1 295.3l-1.6 1.2M302.8 295l-3 3M303.5 294.5l-4.6 5.8M304.2 293.8l-6.9 10.5M344.1 309.6l-7 -13.6M284.6 254.8l-1.7 -9.3M385.6 248.3l-7 -7.8M407.4 256l-7 2.3M365.3 238.2l-3.3 -2M458 277.3l-7 -13.5M426.9 260.4l-7 10.7M427.6 260.8l-7 8.8M428.3 260.9l-5.4 5.4M422.3 266.8l-.2 .2M429 260.8l-4 3M424.5 264.1l0 0M429.6 260.7l-2.9 1.3M430.3 260.4l-1.2 .2M431 260l-.5 -.1M431.7 259.4l-.2 -.1M467.5 275.3l-4.6 -7.9M432.4 258.6l-.2 -.2M475.9 279.1l-7 -10.7M483.5 244.5l-1.8 -.8M526.4 265.4l-21.1 -9.7 -24 -10.3"/><path stroke="#3b6cfb" d="M289.7 327.4l1.4 -4.8M352.5 310.4l.7 -8.5M525 261.1l1.4 4.4M282.7 324.1l1.4 -4.7M333.2 308.6l.7 3M468.2 271.9l.7 -3.6M518 257.8l1.4 4.3M275.7 320.9l1.4 -4.7M453 270.8l.2 .2M453.5 271.3l0 0M511 254.6l1.4 4.3M268.6 317.7l1.4 -4.6M503.9 251.5l1.4 4.2M261.6 314.7l1.4 -4.6M496.9 248.5l1.4 4.2M254.6 311.7l1.4 -4.6M489.9 245.5l1.4 4.2M248.2 306.4l.7 -2.2M425.6 258.1l.7 1.7 .7 .6M433.1 257.5l.2 -.4M482.8 242.6l.7 2M241.2 303.4l.7 -2.2M415.1 255.3l.7 5.8M234.2 300.5l1.4 -4.2M227.2 297.5l1.4 -4.2M220.1 294.4l1.4 -4.2M213.1 291.1l1.4 -4.2M206.1 287.7l1.4 -4.1M378.6 240.5l.7 7.7M199 284.1l.7 -2.1M371.6 237.2l.7 6.5M192 280.4l.7 -2.1M364.6 232.8l.7 5.4M184.3 278.7l1.4 -4.2M177.3 274.7l1.4 -4.2M169.6 272.9l1.4 -4.4M162.6 268.8l1.4 -4.4M155.5 264.7l.7 -2.2M147.8 263l1.4 -4.6M140.8 259l.7 -2.4M133.8 255.1l.7 -2.3M126.1 253.7l1.4 -4.8M119 249.9l1.4 -4.8M112 246.2l.7 -2.5M105 242.5l.7 -2.4M97.9 238.8l.7 -2.4M90.9 235.2l.7 -2.4M83.2 234.1l1.4 -4.9M76.2 230.5l1.4 -4.9M83.2 234.1l-7 -3.6M126.1 253.7l-21.1 -11.3 -28.1 -14.4M147.8 263l-14.1 -7.9 -21 -11.4M169.6 272.9l-28.1 -16.2M289.7 327.4l-21.1 -9.6 -21.1 -9.1M184.3 278.7l-28.1 -16.2M290.4 324.9l-21.1 -9.6 -42.1 -17.8 -14.1 -6.4 -7 -3.4 -14.1 -7.3 -21.1 -11.9M234.9 298.4l-21.1 -9.3 -14 -7M333.2 308.6l-7 -10.6M328.4 302.1l-.2 -.2M327.9 301.5l-.2 -.2M327.3 301l-1.3 -1.2M325 298.8l0 0M324.5 298.3l0 0M323.9 297.8l0 0M304.6 293.2l-6.8 12.1M304.6 293.1l-6.1 12.5M352.5 310.4l-7 -11.8M378.6 240.5l-7 -3.4 -7.1 -4.4 -1.9 -1M415.1 255.3l-7 10.8M453 270.8l-7 -6.8M453.5 271.3l0 0M453.1 271l-6.5 -6.4M425.6 258.1l-7 14.8M426.2 259.7l-7 12.5M468.2 271.9l-5.6 -8.5M433.1 257.5l0 0M525 261.1l-21.1 -9.6 -21.7 -9.2M525.7 263.2l-21.1 -9.6 -21.1 -9.1"/><path stroke="#3774fa" d="M291.1 322.6l.7 -2.1M338.8 311.2l.7 5M463.6 275.1l.7 10.4M476.6 273.7l.7 -4.9M524.3 259.2l.7 1.9M284.1 319.4l.7 -2.1M332.5 305.4l.7 3.2M344.7 304.4l.7 -5.7M457.3 271.1l.7 6.2M468.9 268.3l.7 -3.6M517.3 255.9l.7 1.9M277 316.2l.7 -2.1M327.5 301l1 1.3M328.7 302.6l0 0M336.5 298.1l.5 -2.1M452.3 269.3l.7 1.5M510.3 252.7l.7 1.9M270 313.1l.7 -2.1M446 264.1l.7 .5 .2 -0M503.2 249.7l.7 1.9M263 310.1l1.4 -4.2M495.5 244.9l1.4 3.6M255.9 307.1l1.4 -4.1M488.5 241.9l1.4 3.5M248.9 304.2l1.4 -4.1M424.9 255.7l.7 2.3M482.3 241.2l.5 1.4M241.9 301.3l1.4 -4.1M235.5 296.3l.7 -2M228.5 293.3l.7 -2M399.7 247.4l.7 10.8M221.5 290.2l.7 -2M214.5 287l1.4 -4M207.4 283.6l.7 -2M199.7 282l1.4 -4M192.7 278.3l1.4 -4M185.7 274.4l1.4 -4M178.7 270.5l.7 -2M170.9 268.5l1.4 -4.1M163.9 264.4l.7 -2.1M156.2 262.5l1.4 -4.2M149.2 258.4l1.4 -4.1M141.5 256.6l1.4 -4.3M134.4 252.7l1.4 -4.3M127.4 248.9l1.4 -4.2M120.4 245.1l.7 -2.1M112.7 243.7l1.4 -4.4M105.7 240l1.4 -4.4M98.6 236.4l1.4 -4.3M91.6 232.8l.7 -2.2M84.6 229.2l.7 -2.2M77.6 225.7l.7 -2.2M112.7 243.7l-35.1 -18M141.5 256.6l-21.1 -11.5 -28.1 -14.5M156.2 262.5l-21.1 -11.9 -14 -7.6M170.9 268.5l-28.1 -16.1M291.1 322.6l-21.1 -9.5 -35.1 -14.7M199.7 282l-14.1 -7.6 -21 -12.1M263.7 308l-35.1 -14.7 -14.1 -6.3 -14 -7 -21.1 -11.5M215.1 284.9l-7 -3.4M338.8 311.2l-7 -9M332.5 305.4l-7 -9.3M327.5 301l-7 -5.7M328.2 302l-7 -6M328.7 302.6l-6.8 -6.1M328.5 302.3l-5.9 -5.5M322.4 296.5l-.2 -.1M321.4 295.8l-.4 -.3M320.5 295.1l0 0M320.1 294.8l0 0M319.5 294.3l0 0M318.7 293.8l0 0M317.7 293l0 0M304.4 293.3l-5.2 11.9M304 293.6l0 0M303.8 294.1l-.6 1.4M303.1 295.9l0 0M302.9 296.4l-3 7.4M344.7 304.4l-7 -11.6M286.2 255.2l-2.7 -12.4M399.7 247.4l-7 -35.5M463.6 275.1l-7 -10.8M457.3 271.1l-7 -11.3M452.3 269.3l-7 -6.4M446 264.1l-7 -5.2M424.9 255.7l-7 16.5M446.6 264.6l-7 -5.3M468.9 268.3l-6.6 -8.7M476.6 273.7l-7 -9M495.5 244.9l-12.9 -5.4M524.3 259.2l-21.1 -9.5 -20.8 -8.8"/><path stroke="#337ef6" d="M291.8 320.5l1.4 -4.1M338.1 306.6l.7 4.6M353.1 301.9l.7 -7.8M477.3 268.8l.7 -4.5M523 255.7l1.4 3.5M284.7 317.2l1.4 -4.1M331.8 302.2l.7 3.2M345.4 298.6l.7 -6M469.6 264.7l.7 -3.6M515.9 252.5l1.4 3.5M277.7 314.1l1.4 -4.1M326.1 298.1l1.4 3M337 296l.7 -3.3M451.6 266.9l.7 2.4M508.9 249.3l1.4 3.4M270.7 311l1.4 -4.1M320.5 295.3l1.4 1.2 1.1 .6M444.6 260.9l.7 2 .7 1.2M501.9 246.2l1.4 3.4M264.3 305.9l.7 -2M314.1 291.1l1.4 .6M315.9 291.8l0 0M438.2 257.9l.7 1 .7 .4M494.9 243.2l.7 1.7M257.3 303l1.4 -3.9M307.1 287.6l1.4 .7 1.1 .2M431.2 254.8l.7 .9 .7 .3 .2 -.1M487.1 238.6l1.4 3.3M250.3 300.1l1.4 -3.9M424.2 252.7l.7 3.1M243.3 297.2l1.4 -3.9M414.4 248.9l.7 6.5M236.2 294.3l1.4 -3.9M406.7 246.3l.7 9.6M229.2 291.3l1.4 -3.9M222.2 288.2l1.4 -3.9M215.8 283l.7 -1.9M385 237.7l.7 10.7M208.1 281.6l1.4 -3.8M377.9 232.4l.7 8.1M201.1 278l1.4 -3.8M370.9 230l.7 7.2M194.1 274.3l1.4 -3.8M363.9 226.5l.7 6.3M187 270.4l1.4 -3.8M179.3 268.4l1.4 -3.9M172.3 264.4l1.4 -3.9M164.6 262.4l1.4 -4M157.6 258.3l1.4 -3.9M150.5 254.3l.7 -2M142.8 252.4l1.4 -4M135.8 248.5l1.4 -4M128.8 244.7l.7 -2M121.1 243l1.4 -4.1M114 239.3l1.4 -4.1M107 235.7l1.4 -4.1M100 232.1l.7 -2M92.3 230.6l1.4 -4.1M85.3 227l1.4 -4.1M78.2 223.5l1.4 -4.1M92.3 230.6l-14.1 -7.1M121.1 243l-21.1 -10.9 -21.1 -10.7M142.8 252.4l-21.1 -11.4 -21.1 -10.9M164.6 262.4l-21.1 -12 -14 -7.7M291.8 320.5l-14.1 -6.4 -14 -6.1M179.3 268.4l-28.1 -16.1M292.4 318.4l-21.1 -9.5 -42.1 -17.6 -14.1 -6.3M208.1 281.6l-7 -3.6 -14.1 -7.5 -21.1 -12.1M258 301l-28.1 -11.7 -14.1 -6.3 -14 -6.9 -21.1 -11.5M338.1 306.6l-7 -7.7M331.8 302.2l-7 -8.2M326.1 298.1l-7 -5.2M326.8 299.7l-7 -5.5M320.5 295.3l-7 -4.8M321.1 296l-7 -4.9 -7.1 -3.5 -5.2 5.9M321.8 296.5l-7 -5.1 -7.1 -3.4 -6.6 7.3M300.8 295.6l0 0M322.5 296.9l-7 -5.2 -7.1 -3.4 -7 7.3M315.1 291.3l0 0M314.6 291.1l-.7 -.3M313.5 290.6l0 0M313.1 290.4l-1.1 -.5M311.6 289.6l-2.4 -1.2 -7 6.9M314.4 290.8l0 0M312.2 289.8l0 0M310.7 289l0 0M309.6 288.8l-6.8 6.2M310.1 289l-6.6 5.5M310.6 289.2l-6.4 4.6M311 289.3l-4.9 2.7M305.7 292.3l0 0M305.3 292.5l0 0M310.9 289.3l-.9 .3M309.5 289.8l-.2 .1M308.8 290l0 0M301 300.2l0 0M300.8 300.6l0 0M300.5 301.3l0 0M337 296l-1.2 -.9M345.4 298.6l-7 -9.8M353.1 301.9l-7 -9.3M385 237.7l-7 -5.2 -7.1 -2.5 -7.2 -3.6M406.7 246.3l-7 1.1M414.4 248.9l-7 7.1M451.6 266.9l-7 -6 -7.1 -4.8M445.3 262.9l-7 -5 -7.1 -3 -7 -2.2 -7 17.3M438.9 258.9l-7 -3.1 -7.1 -0M439.6 259.2l-7 -3.2 -7.1 2M437.4 257.8l0 0M437 257.5l0 0M432.8 256l-6.6 3.7M432.9 256.1l-6 4.3M433.3 256.1l-5.7 4.7M433.3 256.3l-5 4.6M433.5 256.4l-4.6 4.5M433.8 256.4l-4.1 4.2M434 256.4l-3.7 4M434.1 256.4l-3.1 3.5M469.6 264.7l-7 -8.2M477.3 268.8l-7 -7.7M487.1 238.6l-3.9 -1.6M523 255.7l-21.1 -9.5 -18.8 -7.9M523.6 257.4l-14.1 -6.4 -14 -6.1"/><path stroke="#2e87f2" d="M293.1 316.4l1.4 -3.9M337.5 302.5l.7 4.2M477.9 264.3l.7 -4.2M521.6 252.4l1.4 3.3M286.1 313.1l1.4 -3.9M331.1 299l.7 3.2M470.2 261.1l.7 -3.5M514.6 249.2l1.4 3.3M279.1 310l1.4 -3.9M325.4 296.1l.7 1.9M337.7 292.7l.7 -3.9M450.9 263.7l.7 3.2M462 258.4l.5 -1.8M507.5 246.1l1.4 3.2M272 306.9l1.4 -3.9M319.1 292.9l1.4 2.4M443.9 258.1l.7 2.7M500.5 243l1.4 3.2M265 303.9l1.4 -3.9M312.1 288.4l.7 1.2 1.3 1.5M437.6 256.1l.7 1.7M493.5 240l1.4 3.2M258.7 299l.7 -1.9M305.7 286.1l1.4 1.6M430.5 253.2l.7 1.6M486.5 237.1l.7 1.6M251.6 296.1l1.4 -3.7M423.5 248.9l.7 3.7M244.6 293.3l1.4 -3.7M237.6 290.4l1.4 -3.7M230.6 287.4l1.4 -3.7M223.5 284.3l1.4 -3.7M216.5 281.1l1.4 -3.7M209.5 277.7l1.4 -3.7M202.5 274.2l1.4 -3.6M195.4 270.5l1.4 -3.6M188.4 266.6l.7 -1.8M180.7 264.6l1.4 -3.7M173.7 260.5l1.4 -3.7M166 258.4l1.4 -3.8M158.9 254.4l1.4 -3.7M151.2 252.3l1.4 -3.8M144.2 248.4l1.4 -3.8M137.2 244.5l.7 -1.9M129.5 242.6l1.4 -3.9M122.4 238.9l1.4 -3.9M115.4 235.2l1.4 -3.9M108.4 231.6l.7 -1.9M100.7 230l1.4 -3.9M93.6 226.5l1.4 -3.9M86.6 222.9l1.4 -3.9M79.6 219.4l1.4 -3.9M100.7 230l-21.1 -10.6M129.5 242.6l-21.1 -11 -28.1 -14.2M151.2 252.3l-21.1 -11.6 -21.1 -11M166 258.4l-28.1 -15.8M293.1 316.4l-14.1 -6.4 -21 -9M180.7 264.6l-28.1 -16.1M293.8 314.4l-21.1 -9.4 -42.1 -17.6 -14.1 -6.3 -7 -3.4 -14.1 -7.2 -28.1 -15.8M252.3 294.2l-21.1 -8.7 -14 -6.3 -14.1 -6.9 -14 -7.5M337.5 302.5l-7 -6.6M331.1 299l-7 -7.2M325.4 296.1l-7 -4.9M319.1 292.9l-7 -4.5 -6.2 -3.1M319.8 294.2l-7 -4.7 -7.1 -3.5 -1.3 1.8M313.4 290.5l-7 -3.5 -3.5 4.2M337.7 292.7l-2.8 -2.1M450.9 263.7l-7 -5.6 -7.1 -4.4M437.6 256.1l-7 -2.9 -7.1 -4.3 -7 17.2M434.1 256.5l-2.4 2.9M433.9 256.6l-1.5 1.9M470.2 261.1l-7 -7.2M477.9 264.3l-7 -6.6M521.6 252.4l-21.1 -9.4 -17 -7.2M522.3 254l-14.1 -6.4 -21 -9"/><path stroke="#2a90ee" d="M294.5 312.4l1.4 -3.7M462.9 265.9l.7 9.3M520.2 249.3l1.4 3.1M287.5 309.2l1.4 -3.7M330.4 295.8l.7 3.1M346.1 292.6l.7 -6M456.6 264.3l.7 6.8M470.9 257.6l.7 -3.4M513.2 246.1l1.4 3.1M280.4 306.1l1.4 -3.7M324.8 294l.7 2.1M338.4 288.8l.7 -4.5M450.3 259.8l.7 3.9M462.5 256.6l.7 -2.6M506.2 243l1.4 3.1M273.4 303l1.4 -3.7M317.7 289.4l1.4 3.5M443.2 254.7l.7 3.5M499.2 240l1.4 3M266.4 300l1.4 -3.7M310.7 285.2l1.4 3.1M436.9 253.7l.7 2.5M492.1 237l1.4 3M259.4 297.1l1.4 -3.7M305.5 285.7l.2 .4M429.9 250.8l.7 2.4M485.1 234.1l1.4 3M253 292.4l1.4 -3.6M422.8 244.6l.7 4.4M246 289.5l1.4 -3.5M413.8 241.9l.7 6.9M239 286.6l1.4 -3.5M231.9 283.7l1.4 -3.5M399 237.8l.7 9.7M224.9 280.6l1.4 -3.5M217.9 277.4l1.4 -3.5M210.9 274.1l1.4 -3.5M203.8 270.5l1.4 -3.5M196.8 266.8l1.4 -3.4M363.7 225.1l.1 1.4M189.1 264.8l2 -5.2M182.1 260.9l1.4 -3.5M175 256.9l1.4 -3.5M167.3 254.6l1.4 -3.6M160.3 250.6l1.4 -3.6M152.6 248.5l1.4 -3.6M145.6 244.5l1.4 -3.6M137.9 242.6l1.4 -3.7M130.8 238.8l1.4 -3.7M123.8 235l1.4 -3.7M116.8 231.4l1.4 -3.7M109.1 229.7l1.4 -3.7M102 226.1l1.4 -3.7M95 222.6l1.4 -3.7M88 219l1.4 -3.7M81 215.5l1.4 -3.7M109.1 229.7l-28.1 -14.1M137.9 242.6l-21.1 -11.2 -35.1 -17.7M152.6 248.5l-21.1 -11.6 -21.1 -10.9M167.3 254.6l-28.1 -15.8M294.5 312.4l-21.1 -9.4 -21.1 -8.8M189.1 264.8l-35.1 -20M295.2 310.5l-21.1 -9.4 -42.1 -17.5 -14.1 -6.2 -7 -3.4 -14.1 -7.2 -28.1 -15.8M253.7 290.6l-21.1 -8.7 -14 -6.2 -14.1 -6.9 -21.1 -11.4M330.4 295.8l-7 -6.4M324.8 294l-7 -4.6 -7.1 -4.2 -3.9 -2M318.4 291.3l-7 -4.3 -5.3 -2.7M338.4 288.8l-4.8 -3.2M346.1 292.6l-7 -8.3M288.3 255.5l-4 -15.7M399 237.8l-7 -29M462.9 265.9l-7 -8.4M413.8 241.9l-7 4.4M456.6 264.3l-7 -9.3M450.3 259.8l-7 -5.1 -7.1 -4.2M436.9 253.7l-7 -2.8 -7.1 -6.3 -7 16.6M433.7 256.7l-.6 .8M462.5 256.6l-.6 -.4M470.9 257.6l-7 -6.4M520.2 249.3l-21.1 -9.4 -14.7 -6.1M520.9 250.8l-21.1 -9.4 -15.8 -6.7"/><path stroke="#2698ea" d="M295.9 308.7l1.4 -3.6M336.8 298.7l.7 3.8M353.8 294.1l.7 -7M478.6 260.1l.7 -3.8M518.9 246.4l1.4 2.9M288.8 305.5l1.4 -3.5M329.7 292.8l.7 3M471.6 254.2l.7 -3.2M511.8 243.2l1.4 2.9M281.8 302.4l1.4 -3.5M323.4 289.4l1.4 4.6M449.6 255l.7 4.8M463.2 253.9l1.4 -5.4M504.8 240.1l1.4 2.9M274.8 299.3l1.4 -3.5M317.1 287.4l.7 2M332 280.2l0 -.2M497.8 237.1l1.4 2.9M267.7 296.4l1.4 -3.5M310 283.4l.7 1.9M436.2 250.5l.7 3.2M490.8 234.1l1.4 2.8M260.7 293.5l1.4 -3.5M429.2 247.8l.7 3.1M484.5 232.8l.6 1.2M254.4 288.8l1.4 -3.4M247.3 286l1.4 -3.4M240.3 283.1l1.4 -3.4M406 237.5l.7 8.8M233.3 280.2l2 -5M226.3 277.1l2 -4.9M219.2 273.9l2 -4.9M384.3 228.2l.7 9.4M212.2 270.6l2 -4.9M377.3 224.4l.7 8M205.2 267.1l1.4 -3.3M370.2 222.4l.7 7.6M198.2 263.4l1.4 -3.3M191.1 259.6l1.4 -3.3M250.9 238.1l.3 -2.5M183.4 257.4l1.4 -3.3M243.9 234.3l.2 -1.9M176.4 253.4l1.4 -3.3M168.7 251.1l1.4 -3.4M161.7 247.1l1.4 -3.4M154 244.8l1.4 -3.4M146.9 240.9l1.4 -3.4M139.2 238.9l2 -5.2M132.2 235.1l1.4 -3.5M125.2 231.4l1.4 -3.5M118.1 227.7l1.4 -3.5M110.4 225.9l1.4 -3.5M103.4 222.4l1.4 -3.5M96.4 218.9l1.4 -3.5M89.4 215.3l1.4 -3.5M82.3 211.9l1.4 -3.5M110.4 225.9l-28.1 -14.1M139.2 238.9l-21.1 -11.1 -35.1 -17.7M154 244.8l-21.1 -11.5 -21.1 -10.9M168.7 251.1l-21.1 -11.9 -14 -7.6M295.9 308.7l-21.1 -9.4 -21.1 -8.7M183.4 257.4l-28.1 -16M296.5 306.9l-21.1 -9.3 -42.1 -17.4 -14.1 -6.3 -7 -3.3 -14.1 -7.2 -28.1 -15.7M255.1 287.1l-21.1 -8.6 -14 -6.3 -14.1 -6.8 -21.1 -11.4M234.7 276.8l-14.1 -6.2 -14 -6.8M336.8 298.7l-14.1 -11.6M323.4 289.4l-7 -4.1M324.1 291.8l-7 -4.4 -7.1 -4 -2.6 -1.3M353.8 294.1l-7 -7.5M384.3 228.2l-7 -3.8 -7.1 -2.1 -5.6 -2.2M406 237.5l-7 .2M449.6 255l-7 -4.6M436.2 250.5l-7 -2.8 -7.1 -8.1M463.2 253.9l-1.7 -1M463.9 251.2l-2.6 -1.5M478.6 260.1l-14.1 -11.6M518.9 246.4l-14.1 -6.3 -19.7 -8.3M519.5 247.9l-14.1 -6.3 -20.8 -8.8"/><path stroke="#229de6" d="M297.2 305.1l1.4 -3.4M336.1 295.2l.7 3.4M479.3 256.3l.7 -3.5M517.5 243.7l1.4 2.7M290.2 302l1.4 -3.4M329.1 290l.7 2.8M346.8 286.5l.7 -5.8M455.9 257.4l.7 6.9M472.3 251l.7 -3M510.5 240.5l1.4 2.7M283.2 298.9l1.4 -3.4M322.7 287.1l.7 2.3M339.1 284.3l.7 -4.8M464.6 248.5l.7 -2.7M503.4 237.4l1.4 2.7M276.1 295.8l1.4 -3.3M315.7 283.1l1.4 4.3M332.1 279.9l.7 -4.5M442.5 250.4l.7 4.3M496.4 234.4l1.4 2.7M269.1 292.9l1.4 -3.3M308.8 279.8l1.2 3.5M435.5 246.5l.7 4M489.4 231.4l1.4 2.7M262.1 290l2 -4.9M428.5 243.8l.7 3.9M255.7 285.4l1.4 -3.2M422.1 239.6l.7 5M248.7 282.6l1.4 -3.2M305.7 261.9l.3 -2.7M241.7 279.7l2 -4.7M235.3 275.2l1.4 -3.1M292.3 256.4l.4 -3.6M398.3 229.3l.7 8.5M228.3 272.2l1.4 -3.1M221.3 269l1.4 -3.1M214.3 265.7l1.4 -3.1M271.6 248l.6 -5.9M206.6 263.8l2 -4.6M264.7 244.8l.5 -4.4M199.5 260.1l2 -4.6M257.6 243.2l.6 -5.1M192.5 256.3l1.4 -3.1M184.8 254l2 -4.7M177.8 250.1l1.4 -3.2M236.9 230.6l.2 -1.9M170.1 247.7l2 -4.8M229.8 226.6l.3 -2.2M163 243.7l1.4 -3.2M222.7 222.7l.3 -3M155.3 241.4l2 -4.8M148.3 237.5l1.4 -3.3M208.3 215.2l0 0M141.3 233.7l1.4 -3.2M201.1 211.4l.2 -1.5M133.6 231.6l1.4 -3.3M126.5 227.9l1.4 -3.3M119.5 224.3l1.4 -3.3M179.5 201.2l0 -.2M111.8 222.4l2 -5M104.8 218.9l1.4 -3.3M97.7 215.3l1.4 -3.3M90.7 211.8l1.4 -3.3M83.7 208.4l1.4 -3.3M111.8 222.4l-28.1 -14M133.6 231.6l-21.1 -10.9 -28.1 -14M155.3 241.4l-21.1 -11.5 -28.1 -14.4M170.1 247.7l-21.1 -11.8 -14 -7.6M297.2 305.1l-21.1 -9.3 -21.1 -8.7M184.8 254l-35.1 -19.8M297.9 303.4l-21.1 -9.3 -42.1 -17.3M206.6 263.8l-14.1 -7.5 -28.1 -15.8M263.4 286.7l-28.1 -11.4 -14.1 -6.2 -7 -3.4 -14 -7.1 -21.1 -11.7M243 276.5l-14.1 -5.9 -14 -6.5 -7 -3.5 -14.1 -7.4M336.1 295.2l-14.1 -10.4M322.7 287.1l-13.6 -7.5M316.4 285.3l-8.1 -4.4M339.1 284.3l-7 -4.4M311.7 264.3l-.7 -1M346.8 286.5l-7 -7M290.8 255.8l-5.9 -19.2M398.3 229.3l-7 -23.8M455.9 257.4l-7 -7.7M442.5 250.4l-7 -3.9 -7.1 -2.7 -7 -9.4M422.1 239.6l-7 15.7M464.6 248.5l-3.6 -2M479.3 256.3l-14.1 -10.4M517.5 243.7l-14.1 -6.3 -17.6 -7.4M518.2 245l-14.1 -6.3 -18.8 -7.9"/><path stroke="#1fa1e2" d="M298.6 301.7l1.4 -3.2M335.4 292.1l.7 3.1M354.5 287l.7 -6.3M462.3 257.7l.7 8.1M480 252.8l.7 -3.2M516.1 241.1l1.4 2.6M291.6 298.6l1.4 -3.2M328.4 287.4l.7 2.6M473 248l.7 -2.8M509.1 238l1.4 2.6M284.5 295.5l1.4 -3.2M322 284.8l.7 2.3M339.8 279.5l.7 -4.9M448.9 249.8l.7 5.3M465.3 245.9l.7 -2.6M502.1 234.9l1.4 2.5M277.5 292.5l2 -4.7M315 281l.7 2.1M332.7 275.4l.7 -4.6M441.9 245.5l.7 4.9M494.4 230.7l2 3.7M270.5 289.5l2 -4.7M325.9 270.7l.5 -3.3M434.8 241.9l.7 4.6M487.3 227.7l2 3.7M264.1 285.1l1.4 -3.1M319 267.4l.4 -2.6M427.8 239.2l.7 4.6M257.1 282.2l1.4 -3.1M310.9 264l.1 -.7M250.1 279.4l2 -4.6M413.1 235.1l.7 6.8M243.7 275l1.4 -3M299.1 259.1l.6 -5.3M405.4 229.7l.7 7.8M236.7 272.1l1.4 -3M229.7 269.1l2 -4.5M222.7 265.9l2 -4.5M278.6 251l.7 -6.4M383.6 220l.7 8.2M215.6 262.6l2 -4.5M376.6 216.9l.7 7.5M208.6 259.1l1.4 -3M369.5 215l.7 7.3M201.6 255.5l1.4 -3M258.2 238.1l.7 -5.9M193.9 253.2l2 -4.5M251.2 235.6l.7 -5.9M186.8 249.3l1.4 -3M244.1 232.3l.7 -5.8M179.1 246.9l2 -4.5M237.1 228.7l.7 -5.8M172.1 242.9l1.4 -3M164.4 240.5l2 -4.5M157.4 236.5l1.4 -3M215.5 218.8l.5 -4.1M149.7 234.2l2 -4.6M142.6 230.4l1.4 -3.1M134.9 228.3l2 -4.7M193.9 208l.4 -3.1M127.9 224.6l1.4 -3.1M120.9 221l1.4 -3.1M113.8 217.4l1.4 -3.1M172.3 198.1l.2 -1.5M106.1 215.5l2 -4.7M165.2 195l.3 -2.4M99.1 212l2 -4.7M158.1 191.9l.4 -3.1M92.1 208.5l1.4 -3.1M151 188.7l.4 -3.5M85.1 205.1l1.4 -3.1M143.9 185.5l.4 -3.7M106.1 215.5l-21.1 -10.4M134.9 228.3l-21.1 -10.8 -28.1 -14M149.7 234.2l-14.1 -7.6 -14 -7.2 -28.1 -14M164.4 240.5l-21.1 -11.6 -14 -7.4M298.6 301.7l-14.1 -6.3 -21 -8.8M179.1 246.9l-21.1 -11.9 -14 -7.7M299.3 300.1l-21.1 -9.2 -35.1 -14.4M193.9 253.2l-35.1 -19.7M278.9 289.3l-42.2 -17.2 -14 -6.2 -7 -3.3 -14.1 -7.1 -28.1 -15.6M251.4 276.3l-21.1 -8.8 -14 -6.4 -14.1 -7.1 -14 -7.7M231 266.1l-14.1 -6.5 -7 -3.4M335.4 292.1l-14.1 -9.5M322 284.8l-11.9 -6.3M339.8 279.5l-7 -4.1 -2.7 -1.3M316.9 266.6l-5.2 -7.9M354.5 287l-7 -6.3M208.3 215.2l0 0M258.2 238.1l-7 -2.5 -7.1 -3.3 -7 -3.6 -7 -4.4M383.6 220l-7 -3.1 -7.1 -1.9 -3.9 -1.4M405.4 229.7l-7 -.5M462.3 257.7l-7 -6.9M413.1 235.1l-7 2.4M448.9 249.8l-7 -4.2 -7.1 -3.7 -7 -2.7 -7 -10M396.3 233l-5.9 63.5M396.7 235.9l-5.6 60.4M397.1 238.8l-5.4 57.2M397.5 241.2l-5 50.1M397.6 243.5l-3.8 33.2M393.7 277.2l-.2 1.5M393.4 279.7l-.1 1.2M397.7 244.6l-3.2 24M394.4 269.5l-.1 1M394.1 272l-0 .2M397.7 245.8l-2.2 14.1M395.4 260.4l-.2 1M395.1 262.4l-.1 .7M394.8 264.6l0 0M397.6 246.4l-1.3 7.1M396.1 254.7l-0 .2M397.4 246.3l-.1 .5M397 247.8l0 0M465.3 245.9l-4.6 -2.5M480 252.8l-14.1 -9.5M494.4 230.7l-7 -2.9M516.1 241.1l-14.1 -6.2 -15.1 -6.5M516.8 242.4l-14.1 -6.3 -16.3 -6.8"/><path stroke="#1ba6de" d="M299.9 298.5l2 -4.6M334 286.5l1.4 5.6M355.2 280.7l.7 -5.6M480.7 249.6l1.4 -6.3M514.1 237.6l2 3.6M292.9 295.4l2 -4.6M327.7 284.9l.7 2.4M347.5 280.7l.7 -5.5M455.2 250.9l.7 6.6M473.6 245.2l.7 -2.9M507.1 234.4l2 3.5M285.9 292.3l2 -4.6M320.7 280.5l1.4 4.3M340.5 274.6l.7 -4.7M465.9 243.3l1.4 -5.1M500 231.4l2 3.5M279.5 287.8l1.4 -3.1M313.6 277l1.4 4M459.8 236.6l.5 -1.8M493 228.4l1.4 2.3M272.5 284.8l1.4 -3.1M487.3 227.7l0 0M265.5 282l2 -4.6M319.4 264.8l.7 -4.5M258.5 279.2l2 -4.6M311 263.3l.7 -4.6M421.5 234.4l.7 5.2M252.1 274.8l1.4 -3M306 259.2l.7 -5.4M245.1 272l2 -4.5M238.1 269.1l2 -4.5M292.6 252.8l.7 -6M231.7 264.6l1.4 -3M280.1 251.8l1.4 -2.3 .6 -1.8M224.7 261.4l1.4 -3M279.3 244.6l.7 -5.9M217.7 258.1l1.4 -3M272.2 242.1l.7 -5.8M210 256.1l2 -4.5M265.2 240.4l.7 -5.9M202.9 252.5l2 -4.4M195.9 248.7l1.4 -3M188.2 246.4l2 -4.5M181.2 242.4l1.4 -3M173.5 239.9l2 -4.5M230.1 224.4l.7 -5.7M166.4 236l1.4 -3M223 219.7l.7 -5.6M158.7 233.5l2 -4.5M151.7 229.7l1.4 -3M208.3 215.2l.7 -5.7M144 227.3l2 -4.4M201.3 210l.7 -5.5M137 223.6l1.4 -2.9M129.3 221.5l2 -4.4M186.7 204.7l.6 -4.6M122.2 217.9l2 -4.4M179.5 201l.7 -5.5M115.2 214.3l2 -4.4M172.5 196.6l.7 -5.4M108.2 210.8l1.4 -2.9M101.2 207.3l1.4 -2.9M93.4 205.4l2 -4.4M86.4 202l2 -4.4M93.4 205.4l-7 -3.4M129.3 221.5l-21.1 -10.7 -21.1 -10.3M144 227.3l-21.1 -11 -35.1 -17.4M158.7 233.5l-21.1 -11.4 -28.1 -14.2M299.9 298.5l-21.1 -9.2M173.5 239.9l-21.1 -11.8 -14 -7.5M300.6 297l-21.1 -9.2 -28.1 -11.4M188.2 246.4l-35.1 -19.7M301.3 295.4l-21.1 -9.2 -35.1 -14.3 -14.1 -5.9M210 256.1l-14.1 -7.4 -28.1 -15.8M266.9 278.9l-28.1 -11.4 -14.1 -6.1 -7 -3.3 -14 -7.1 -21.1 -11.6M246.5 268.9l-14.1 -5.9 -14 -6.4 -7 -3.5 -14.1 -7.4M334 286.5l-7 -4.1M334.7 289.3l-14.1 -8.8 -8.7 -4.4M321.4 282.6l-10.3 -5.3M280.1 251.8l0 0M280.8 250.9l-.1 1.2M281.5 249.6l-.3 3M311 263.3l-.3 .7M347.5 280.7l-7 -6.1 -7.1 -3.8M319.4 264.8l-7 -10.5M355.2 280.7l-7 -5.5M306 259.2l-5.3 .6M181.8 202.5l0 0M181.4 202.2l-8.9 -5.6 -7 -4M292.6 252.8l-7 -19.4M208.3 215.2l0 0M207.9 214.9l0 0M207.5 214.6l-13.3 -9.8M279.3 244.6l-7 -2.5 -7.1 -1.7 -7 -2.2M230.1 224.4l-7 -4.6 -7.1 -5M455.2 250.9l-7 -6.5M421.5 234.4l-7 14.5M394.5 220.9l-6.8 71M395 224l-6.6 73M395.5 227l-6.4 69.8M396 229.3l-6.2 67.3M465.9 243.3l-5.9 -3.1M480.7 249.6l-14.1 -8.8 -6.8 -3.4M481.4 246.4l-7 -4.1M514.1 237.6l-25.4 -11M514.8 238.7l-14.1 -6.2 -12.9 -5.5M515.5 239.9l-21.1 -9.2"/><path stroke="#17aadb" d="M302 293.9l1.4 -3.1M333.4 283.8l.7 2.7M461.6 250.7l.7 7.1M482 243.3l.7 -3M512.7 235.2l1.4 2.3M295 290.8l1.4 -3.1M327 282.4l.7 2.5M348.2 275.2l.7 -5.1M474.3 242.3l.7 -2.9M505.7 232.1l1.4 2.3M287.9 287.7l1.4 -3.1M320 278.3l.7 2.2M448.2 244.4l.7 5.4M467.3 238.2l.7 -2.7M498.7 229l1.4 2.3M280.9 284.7l1.4 -3.1M313 275l.6 1.9M333.4 270.8l.7 -4.6M441.2 240.4l.7 5.1M460.3 234.8l.7 -2.6M491.6 226l1.4 2.3M273.9 281.8l2 -4.5M326.4 267.4l.7 -4.5M434.2 237l.7 4.9M267.5 277.4l1.4 -3M427.1 234.3l.7 4.9M260.5 274.6l1.4 -3M311.7 258.7l.7 -4.4M420.8 229.2l.7 5.2M253.5 271.8l2 -4.4M412.4 228.7l.7 6.4M247.1 267.4l1.4 -2.9M299.7 253.8l.7 -5.6M404.7 222.9l.7 6.8M240.1 264.6l1.4 -2.9M397.7 221.9l.7 7.3M233.1 261.6l2 -4.2M282.2 247.8l1.4 -5M226.1 258.4l2 -4.2M219 255.1l2 -4.1M375.9 210.2l.7 6.7M212 251.7l2 -4.1M368.9 208.3l.7 6.7M205 248.1l1.4 -2.8M258.9 232.3l.7 -5.4M197.3 245.8l2 -4.2M251.8 229.7l.7 -5.4M190.2 241.9l1.4 -2.8M244.8 226.5l.7 -5.4M182.5 239.4l2 -4.3M237.8 222.9l.7 -5.4M175.5 235.5l1.4 -2.9M230.8 218.7l.7 -5.3M167.8 233l2 -4.4M160.8 229.1l1.4 -2.9M216 214.7l.7 -5.4M153.1 226.7l2 -4.4M209 209.6l.7 -5.2M146 222.9l1.4 -2.9M138.3 220.7l2 -4.4M194.3 204.9l.7 -5.3M131.3 217l2 -4.4M187.2 200.1l.7 -5.2M124.3 213.4l1.4 -2.9M117.3 209.9l1.4 -2.9M109.5 207.9l2 -4.4M165.5 192.6l.7 -5.3M102.5 204.4l2 -4.4M158.4 188.8l.7 -5.2M95.5 201l2 -4.4M151.4 185.2l.7 -5.2M88.5 197.5l1.4 -2.9M144.4 181.8l.7 -5.2M109.5 207.9l-21.1 -10.3M138.3 220.7l-21.1 -10.8 -28.1 -13.8M153.1 226.7l-14.1 -7.5 -14 -7.2 -35.1 -17.4M167.8 233l-21.1 -11.6 -21.1 -10.9M302 293.9l-14.1 -6.2 -21 -8.8M182.5 239.4l-21.1 -11.8 -14 -7.7M302.7 292.4l-21.1 -9.2 -35.1 -14.2M197.3 245.8l-35.1 -19.6M275.2 278.7l-35.1 -14.2 -14.1 -6.1 -7 -3.3 -7 -3.4 -14.1 -7.4 -21.1 -11.8M254.8 268.8l-21.1 -8.7 -14 -6.4 -14.1 -7.1 -14 -7.6M234.5 258.7l-14.1 -6.4 -14 -7M282.5 254.4l-1 -1.7M282.4 254.3l-.2 -.4M255.8 242l-.4 -.6M333.4 283.8l-7 -3.9M327 282.4l-7 -4.1 -6.8 -3.4M282.2 247.8l-.4 3M282.9 245.4l-.5 2.9M311.7 258.7l-2.5 4.5M333.4 270.8l-7 -3.4 -7.1 -2.6M348.2 275.2l-7 -5.3M165.5 192.6l-7 -3.8 -14.1 -7M299.7 253.8l-7 -.9M194.3 204.9l-14.1 -9.4M216 214.7l-14.1 -10.2M258.9 232.3l-7 -2.5 -7.1 -3.2 -7 -3.6 -7 -4.3 -7 -4.5M375.9 210.2l-9.1 -2.7M404.7 222.9l-7 -1 -7.1 -19.9M461.6 250.7l-7 -5.8M412.4 228.7l-7 1.1M448.2 244.4l-7 -4 -7.1 -3.4 -7 -2.7 -7 -10M420.8 229.2l-7 12.8M394 217.5l-7 56.6M474.3 242.3l-7 -4.1 -7.9 -3.9M482 243.3l-7 -3.9M512.7 235.2l-22.9 -9.9M513.4 236.4l-24.3 -10.5"/><path stroke="#12aed7" d="M303.4 290.8l2 -4.4M332.7 281.2l.7 2.6M355.9 275.1l.7 -5.2M482.7 240.3l.7 -2.8M510.7 231.8l2 3.4M296.3 287.7l2 -4.4M325.7 277.5l1.4 4.9M454.6 244.8l.7 6M475 239.5l1.4 -5.4M503.7 228.7l2 3.4M289.3 284.6l2 -4.4M318.6 273.8l1.4 4.5M341.1 269.9l.7 -4.5M447.5 239.2l.7 5.2M468 235.6l1.4 -5.1M496.6 225.6l2 3.4M282.3 281.6l2 -4.3M334.1 266.2l.7 -4.4M440.5 235.5l.7 4.9M461 232.2l1.4 -4.9M490.7 224.5l.9 1.5M275.9 277.2l1.4 -2.8M327.1 263l.7 -4.3M433.5 232.1l.7 4.8M268.9 274.4l2 -4.1M320.1 260.3l.7 -4.4M426.4 229.4l.7 4.9M261.9 271.6l2 -4.1M255.5 267.4l2 -3.9M306.7 253.8l.7 -5M411.7 222.9l.7 5.8M248.5 264.6l2 -3.9M300.3 248.1l.7 -5.2M241.5 261.7l2 -3.8M293.3 246.9l.7 -5.4M235.1 257.4l2 -3.6M283.6 242.7l.7 -3M393.4 214.8l.3 1.1M393.9 216.6l.1 .2M228.1 254.3l2 -3.5M279.9 238.6l.7 -5.4M382.9 213l.7 7M221.1 251l2 -3.5M272.9 236.3l.7 -5.3M214.1 247.6l2 -3.5M265.9 234.5l.7 -5.4M206.3 245.3l2 -3.7M199.3 241.5l2 -3.7M191.6 239l2 -3.8M184.6 235.1l2 -3.8M176.9 232.6l2 -4M169.8 228.6l1.4 -2.7M223.7 214.2l.7 -5.2M162.1 226.1l2 -4.1M216.7 209.3l.7 -5.1M155.1 222.3l1.4 -2.8M147.4 220l2 -4.2M202 204.5l.7 -5.1M140.4 216.2l2 -4.2M194.9 199.6l.7 -5M133.3 212.6l1.4 -2.8M125.6 210.5l2 -4.2M180.2 195.5l.7 -5.1M118.6 207l2 -4.2M173.2 191.3l.7 -5M111.6 203.5l2 -4.2M166.1 187.3l.7 -4.9M104.6 200l1.4 -2.8M159.1 183.5l.7 -4.9M97.5 196.6l1.4 -2.8M152.1 180l.7 -4.9M89.8 194.6l2 -4.2M145.1 176.5l.7 -4.9M125.6 210.5l-35.1 -17.3M147.4 220l-21.1 -10.9 -35.1 -17.3M162.1 226.1l-14.1 -7.6 -14 -7.3 -28.1 -14M303.4 290.8l-14.1 -6.2 -14 -5.9M176.9 232.6l-21.1 -11.7 -21.1 -11.1M304 289.3l-21.1 -9.2 -28.1 -11.3M191.6 239l-35.1 -19.5M304.7 287.8l-21.1 -9.1 -35.1 -14.2 -14.1 -5.8M206.3 245.3l-14.1 -7.6 -21 -11.8M270.3 271.6l-28.1 -11.2 -14.1 -6.1 -7 -3.3 -7 -3.4 -14.1 -7.3 -21 -11.7M256.9 264.7l-21.1 -8.6 -14 -6.4 -14.1 -7 -14 -7.5M236.5 254.9l-14.1 -6.3 -14 -7M282.4 254.5l-1.7 -2.5M256.1 242.2l-1.3 -1.8M332.7 281.2l-16.7 -8.6M326.3 279.9l-7 -3.9 -5.1 -2.4M283.6 242.7l-1 4.6M282.5 247.9l-.1 .2M341.1 269.9l-7 -3.7 -7.1 -3.2 -7 -2.7 -7 -10.2M355.9 275.1l-7 -4.9M306.7 253.8l-7 -0M180.2 195.5l-7 -4.2 -7.1 -4 -7 -3.8 -14 -7M300.3 248.1l-7 -1.3 -7.1 -16.7M202 204.5l-14.1 -9.6M279.9 238.6l-7 -2.3 -7.1 -1.8 -7 -2.3M223.7 214.2l-14.1 -9.8M382.9 213l-7 -2.8M411.7 222.9l-7 .1M454.6 244.8l-7 -5.6 -7.1 -3.8 -7 -3.3 -7 -2.8 -7 -9.6M393.4 214.8l-7 45.4M475 239.5l-7 -3.9 -9.2 -4.4M482.7 240.3l-14.1 -7.4 -10.1 -4.8M510.7 231.8l-18.8 -8.2M511.4 232.9l-20.2 -8.8M512 234.1l-21.8 -9.5"/><path stroke="#0db1d4" d="M305.4 286.4l1.4 -2.7M332 278.8l.7 2.4M460.9 244.5l.7 6.1M483.4 237.6l.7 -2.5M509.3 229.8l1.4 2M298.4 283.3l1.4 -2.6M325 275.2l.7 2.2M348.8 270.2l.7 -4.8M453.9 239.4l.7 5.4M476.4 234l.7 -2.4M502.3 226.7l1.4 2M291.3 280.3l2 -3.8M317.9 271.7l.7 2.1M341.8 265.4l.7 -4.4M469.3 230.5l.7 -2.2M494.7 222.9l1.9 2.7M284.3 277.3l2 -3.8M334.8 261.8l.7 -4.3M462.3 227.2l.7 -2.2M277.3 274.4l2 -3.7M327.8 258.6l.7 -4.2M270.9 270.3l2 -3.5M320.7 255.9l.7 -4.2M263.9 267.5l2.7 -4.4M312.3 254.3l.7 -4.2M420.1 224.3l.7 4.9M257.6 263.5l2 -3.1M307.4 248.8l.7 -4.7M250.6 260.7l2.7 -4M404 217l.7 6M243.5 257.9l1.4 -2.1 2 -2.7M294 241.4l.7 -5.1M397 215.6l.7 6.3M237.2 253.8l2.7 -3.6M284.2 239.7l.7 -3.1M392.7 211.9l.7 2.8M230.2 250.7l2.7 -3.6M255.4 241.3l.3 .6M382.2 206.8l.7 6.2M223.1 247.5l2.7 -3.6M375.2 204.3l.7 6M216.1 244.1l2.7 -3.5M266.6 229.1l.7 -5.1M368.2 202.3l.7 6M208.4 241.6l1.4 -2 2 -2.6M259.5 226.9l.7 -5.1M201.4 237.9l2.7 -3.7M252.5 224.3l.7 -5.1M193.7 235.2l2.7 -4M245.5 221.1l.7 -5.1M186.6 231.3l2 -3.1M238.5 217.6l.7 -5M178.9 228.6l2.7 -4.3M231.4 213.5l.7 -5M171.2 225.9l2.7 -4.6M224.4 209l.7 -4.9M164.2 222l2 -3.5M156.5 219.5l2 -3.7M209.7 204.4l.7 -4.9M149.4 215.8l2 -3.7M202.6 199.4l.7 -4.8M142.4 212.1l2 -3.6M134.7 209.8l2 -3.8M187.9 194.9l.7 -4.9M127.7 206.3l2 -3.8M180.9 190.4l.7 -4.8M120.7 202.7l2 -3.8M173.9 186.3l.7 -4.7M113.6 199.3l2 -3.7M105.9 197.2l2 -3.9M98.9 193.8l2 -3.9M91.9 190.4l2 -3.8M105.9 197.2l-14.1 -6.8M134.7 209.8l-21.1 -10.5 -21.1 -10.3M156.5 219.5l-14.1 -7.4 -14 -7.2 -35.1 -17.2M171.2 225.9l-14.1 -7.7 -14 -7.4 -14.1 -7.2 -21 -10.3M305.4 286.4l-14.1 -6.1 -21 -8.7M178.9 228.6l-21.1 -11.6 -21.1 -11M306.1 285l-21.1 -9.1 -28.1 -11.2M193.7 235.2l-35.1 -19.4M292.7 277.6l-14.1 -5.8 -28.1 -11.1 -14 -5.8M208.4 241.6l-14.1 -7.5 -28.1 -15.6M272.3 267.9l-28.1 -11.1 -14.1 -6 -7 -3.3 -7 -3.4 -14.1 -7.2 -28.1 -15.5M266 264.1l-21.1 -8.3 -14 -6 -7.1 -3.2 -14 -7 -21.1 -11.3M252.6 257.6l-14.1 -5.7 -14 -6.3 -14.1 -6.9 -14 -7.5M246.3 254l-14.1 -6 -7 -3.2 -7 -3.4 -14.1 -7.2M282.4 254.4l-3 -3.3M282.4 254.5l0 0M282.1 254.1l-2 -2.5M257.3 243.1l-4.6 -4.2M256.8 242.9l-.2 -.2M256.3 242.3l-2.9 -3M256.3 242.5l0 0M255.8 241.9l-1.8 -2M332 278.8l-14.3 -7.2M255.4 241.3l-.8 -.5M250 238l0 0M249.6 237.7l0 0M249.2 237.4l0 0M248.8 237.2l0 0M248.4 236.9l0 0M242.4 233.7l0 0M242 233.5l0 0M312.3 254.3l-5.3 8.1M284.2 239.7l-2.6 10.1M348.8 270.2l-7 -4.8 -7.1 -3.5 -7 -3.3 -7 -2.7 -7 -9.9M307.4 248.8l-7 -.7M187.9 194.9l-7 -4.5 -14.1 -8M294 241.4l-7 -14.7M209.7 204.4l-14.1 -9.8M266.6 229.1l-7 -2.3 -7.1 -2.5 -7 -3.2 -7 -3.5 -7 -4.2 -7.1 -4.4 -7 -4.7M382.2 206.8l-7 -2.6 -7.1 -2M404 217l-7 -1.4 -7.1 -16.9M460.9 244.5l-14.1 -10.1M420.1 224.3l-7 10.8M392.7 211.9l-7 36.4M483.4 237.6l-14.1 -7.1 -11.3 -5.3M509.3 229.8l-15.4 -6.7M510 230.8l-17.2 -7.5"/><path stroke="#08b4d0" d="M306.8 283.8l2.7 -4.2M330.6 274.9l1.4 3.9M356.6 269.9l.7 -4.9M460.2 239l.7 5.5M484.1 235.1l1.4 -3.9M506.6 226.6l1.4 1.4 1.3 1.7M299.7 280.7l2.7 -4.2M323.6 271.5l1.4 3.7M349.5 265.4l.7 -4.5M477.1 231.7l1.4 -3.8M499.6 223.6l1.4 1.4 1.3 1.7M293.4 276.5l2.7 -3.8M317.9 271.7l0 0M342.5 261l.7 -4.2M446.8 234.4l.7 4.8M470 228.2l1.4 -3.6M286.4 273.5l2.7 -3.8M335.5 257.6l.7 -4.2M439.8 230.8l.7 4.7M463 225l1.4 -3.5M279.3 270.7l1.4 -2 2 -2.6M328.4 254.4l.7 -4.1M432.8 227.5l.7 4.6M457 219.2l.3 -.6M273 266.8l3.4 -4.3M321.4 251.7l.7 -4.1M425.8 224.8l.7 4.6M469.6 210.7l0 0M266.6 263.1l2.7 -3.3M313 250.1l.7 -4.1M419.4 219.7l.7 4.6M259.6 260.4l3.4 -4.1M280.8 252l.7 .7 .9 1.7M411 217.6l.7 5.3M454.7 204.8l.3 .2M455.4 205.2l0 0M253.3 256.8l3.4 -3.9M273.1 248.6l.2 .1M273.6 248.9l0 0M301 243l.7 -4.9M246.9 253.1l3.4 -3.7M266 245.4l.5 .4M266.9 246l0 0M396.3 209.9l.7 5.7M239.9 250.2l2 -2.3 2.1 -1.9M257 243l0 0M257.3 243.1l.2 .1M284.9 236.6l.7 -3.2M392 208.7l.7 3.2M232.9 247.2l2.7 -3 2.1 -1.7M252.7 238.9l2 1.5 .7 .9M280.6 233.2l.7 -5.1M225.9 244l2.7 -3 2.1 -1.7M246.3 235.5l1.7 1.2M248.4 236.9l0 0M273.6 231l.7 -5M218.8 240.6l2.7 -2.9 2.1 -1.7M240 232l2 1.5M211.8 237l2 -2.3 2.1 -1.8M233.6 228.4l1.6 1.2M235.5 229.9l0 0M260.2 221.8l.7 -4.8M204.1 234.2l2 -2.3 2.1 -2M227.3 224.9l1.5 1.2M253.2 219.2l.7 -4.9M196.4 231.2l4.1 -4.5M221.6 221.9l.1 .2M246.2 216.1l.7 -4.8M188.7 228.2l4.1 -4.7M214.6 218.3l.1 .2M239.1 212.5l.7 -4.8M181.6 224.3l3.4 -4M232.1 208.5l.7 -4.8M173.9 221.4l3.4 -4.1M166.2 218.5l3.4 -4.4M217.4 204.3l.7 -4.8M158.5 215.8l1.4 -2.1 2 -2.5M210.4 199.4l.7 -4.7M151.5 212.1l2.7 -3.8M144.5 208.5l2.7 -3.7M195.6 194.6l.7 -4.7M136.8 206l2.7 -4M188.6 190l.7 -4.6M129.7 202.5l2.7 -4M122.7 199l2 -3.1M115.7 195.6l2 -3M166.8 182.3l.7 -4.7M108 193.3l2.7 -4.2M159.8 178.6l.7 -4.6M100.9 189.9l2.7 -4.1M152.8 175.1l.7 -4.6M93.9 186.5l2.7 -4.1M145.8 171.7l.7 -4.6M108 193.3l-14.1 -6.8M136.8 206l-21.1 -10.4 -21.1 -10.2M158.5 215.8l-14.1 -7.4 -14 -7.1 -35.1 -17M306.8 283.8l-14.1 -6.1M166.2 218.5l-14.1 -7.5 -14 -7.2 -21.1 -10.4 -21.1 -10.1M307.4 282.5l-14.1 -6.1 -21 -8.6M173.9 221.4l-21.1 -11.3 -28.1 -14.2M308.1 281.4l-21.1 -9 -21.1 -8.4M188.7 228.2l-28.1 -15.4 -21.1 -10.8M308.8 280.4l-21.1 -9 -35.1 -13.8M196.4 231.2l-28.1 -15.4 -14.1 -7.5M295.4 273.5l-14.1 -5.7 -35.1 -13.8M204.1 234.2l-42.2 -23M282.1 266.9l-35.1 -13.8 -14.1 -5.9 -7 -3.2 -7 -3.4 -14.1 -7.2 -35.1 -19.2M275.7 263.3l-28.1 -11 -14.1 -5.9 -7 -3.2 -7 -3.4 -14.1 -7.2 -28.1 -15.4M262.4 257.1l-21.1 -8.4 -14 -6.3 -7.1 -3.3 -14 -7.2 -21.1 -11.5M256 253.6l-14.1 -5.7 -14 -6.2 -14.1 -6.9 -21 -11.3M249.7 250.1l-14.1 -5.9 -7 -3.2 -14 -6.9 -14.1 -7.4M243.3 246.6l-14.1 -6.2 -7 -3.4 -14 -7.1M237 243l-7 -3.2 -14.1 -6.8M282.8 254.4l-4.7 -4M257 243l-7 -5.1M282.7 254.5l-4 -3.8M257.4 243.2l0 0M257.1 242.9l-6.4 -4.8M257.7 243.2l-6.4 -5M273.1 248.6l-7 -3.2 -.5 -.1M265.1 245.2l0 0M257.7 243.2l-5.7 -4.7M280.8 252l-1.4 -.6M279 251.2l0 0M278.3 251l0 0M275.3 249.7l0 0M273.5 249l0 0M273.1 248.7l0 0M272.4 248.4l0 0M271.9 248.2l0 0M270.8 247.7l-.2 -.1M270.1 247.4l0 0M269.7 247.2l0 0M269.2 247l0 0M268.5 246.7l-.7 -.3M267.4 246.2l0 0M266.9 246l0 0M252.7 238.9l-7 -3.8M330.6 274.9l-10.1 -4.8M281.4 252.7l-.7 -.3M280.3 252.2l0 0M253.3 239.4l-14.1 -7.7M331.3 276.6l-12.1 -5.9M282.1 253.9l-.4 -.2M254 239.9l-21.1 -11.8M254.7 240.4l-2.6 -1.5M251.7 238.7l-25.1 -14.2M248.4 236.9l0 0M247.9 236.7l0 0M247.5 236.4l-27.3 -15.4M242 233.5l-7 -4.2 -14.1 -7.9M235 229.7l0 0M234.6 229.4l0 0M233.8 228.9l0 0M233.3 228.7l0 0M232.9 228.4l0 0M232.1 227.9l0 0M231.6 227.7l0 0M231.2 227.4l0 0M230.8 227.2l-.4 -.3M229.9 226.7l0 0M229.5 226.4l-11.8 -6.5M217.2 219.6l-3.3 -1.7M213.3 217.6l0 0M212.8 217.4l0 0M212.4 217.2l0 0M211.3 216.7l0 0M210.9 216.5l0 0M209.8 216l0 0M313 250.1l-7 9.2M284.9 236.6l-4.8 15M356.6 269.9l-14.1 -8.9 -14 -6.6 -7 -2.7 -7.1 -9.7M166.8 182.3l-7 -3.7 -14.1 -7M301 243l-7 -1.5M195.6 194.6l-14.1 -8.9M280.6 233.2l-7 -2.2 -7.1 -1.9M217.4 204.3l-14.1 -9.7M260.2 221.8l-7 -2.6 -7.1 -3.1 -7 -3.5 -7 -4.1 -7 -4.4M396.3 209.9l-7 -14.7M460.2 239l-7 -4.6M411 217.6l-7 -.6M446.8 234.4l-7 -3.6 -7.1 -3.3 -7 -2.7 -7 -9.4M419.4 219.7l-7 9M392 208.7l-7 28.9M484.1 235.1l-14.1 -6.9 -12.4 -5.6M484.8 232.9l-14.1 -6.7 -13.3 -5.9M454.7 204.8l0 0M469 210.4l0 0M468.3 210.2l0 0M467.8 210l-.2 -.1M467.1 209.7l0 0M466.5 209.5l0 0M465.8 209.2l0 0M465.1 208.9l0 0M464.4 208.7l0 0M463.3 208.2l-.2 -.1M462.6 208l0 0M461.9 207.7l0 0M461.3 207.5l-.2 -.1M460.6 207.2l0 0M459.9 206.9l0 0M458.8 206.5l-.2 -.1M458.1 206.2l-.2 -.1M457.4 206l0 0M456.7 205.7l0 0M456 205.4l0 0M455.4 205.2l0 0M454.9 205l-.2 -.1M506.6 226.6l-8.8 -3.8M507.3 227.3l-10.2 -4.4M508 228l-12 -5.2M508.6 228.8l-13.8 -6"/><path stroke="#0ab7ca" d="M309.5 279.5l3.4 -4M328.6 271.9l.7 .6 .7 1 .6 1.4M357.2 265l.7 -4.6M485.4 231.2l.7 -1.4 1.3 -1.7M503.2 224.3l3.4 2.4M302.5 276.5l4.1 -4.7M321.6 268.7l0 0M322.5 269.6l1.1 1.9M350.2 260.9l.7 -4.4M453.2 234.4l.7 5M478.4 227.9l.7 -1.3 1.3 -1.7M495.5 220.9l2.2 1.3M498.5 222.8l1 .8M296.1 272.6l3.4 -3.8M313.9 265.2l.7 .4M314.9 265.9l.2 .1M446.2 229.8l.7 4.6M471.4 224.7l.7 -1.2 2 -2.4M488.4 217.9l1.4 .8M490.1 218.9l.2 .1M490.7 219.2l0 0M491 219.4l0 0M289.1 269.7l2 -2.4 2.1 -2M306.8 262.3l.7 .4M307.8 262.9l.2 .1M439.1 226.3l.7 4.5M464.4 221.6l.7 -1.2 2 -2.3M480.7 214.7l2.7 1.5M282.7 266.1l2 -2.3 2.1 -1.8M299.1 259l1.7 1M301.2 260.1l0 0M432.1 223.1l.7 4.4M457.3 218.5l.7 -1.1 2.7 -2.9M473 211.7l3.1 1.5M476.6 213.5l0 0M276.4 262.5l2.7 -2.7 2.1 -1.5M291.4 255.8l2.7 1.4M322.1 247.5l.7 -4.1M425.1 220.3l.7 4.4M464.6 208.7l2 .5 2.4 1.2M269.4 259.8l2.7 -2.7 3.4 -2.2M280.3 253.6l.2 .1M281.2 253.9l0 0M281.7 254.1l.2 .1M282.3 254.4l0 0M313.7 246l.7 -4M456.2 205.9l2.7 .3 3.1 1.5M263 256.3l2 -1.9 1.4 -1.1 4.8 -2.5M276 249.8l2 .6 2.8 1.6M308 244.1l.7 -4.5M454.5 204.7l.2 .1M256.7 252.9l2 -1.8 3.5 -2 2.7 -1.2 2.7 -.8 1.4 -.1 1.3 .2 2.8 1.4M301.7 238.1l.7 -4.6M403.3 211.5l.7 5.5M250.3 249.5l2 -1.6 3.5 -1.9 2 -.8 3.4 -1 2.1 0 1.3 .5 1.4 .7M294.7 236.4l.7 -4.8M244 246l4.1 -2.5 3.4 -1.5 1.4 -.2 1.3 .2 2.8 1M285.6 233.4l.7 -3.3M391.3 205.4l.7 3.3M237.7 242.5l2.7 -1.6 2.8 -1.3 1.3 -.5 .7 .1 3.4 -1.2 2.1 .1 2 .9M281.3 228.2l.7 -4.8M381.6 201.2l.7 5.6M230.6 239.3l2.7 -1.6 2.8 -1.3 1.3 -.5 .7 .3 2 -1 2.1 -.6 2 0 2.1 .9M274.3 226l.7 -4.8M374.5 198.8l.7 5.5M223.6 235.9l2.7 -1.6 2.8 -1.3 1.3 -.5 .7 .4 2.7 -1.3 2.1 -.6 2 .1 2.1 .9M267.2 224.1l.7 -4.8M368.2 202l0 .2M215.9 232.9l2.7 -1.7 3.4 -1.7 1.4 -.5 .7 .6 2.7 -1.4 2.1 -.8 2 -.1 1.4 .4 1.3 .7M208.2 229.8l2 -1.5 4.1 -2.2 2.1 -.7 .7 .6 2.7 -1.4 2.7 -1 2.1 0 2.7 1.2M253.9 214.3l.7 -4.7M200.5 226.7l2.7 -2.1 4.1 -2.2 2.1 -.7 .6 .6 2.8 -1.4 2.7 -1 1.4 -.1 1.3 .2 2.1 1 1.3 .9M246.9 211.2l.7 -4.7M192.8 223.5l2.7 -2.3 5.5 -2.9M203 218.5l2.7 -1.4M209.8 216l2 .6 2.1 1.1 .7 .6M185.1 220.4l2.7 -2.5 3.4 -2.1M204.2 212.7l2 1.1 1.1 .8M177.3 217.2l2.7 -2.7 2.1 -1.4M197.1 209.2l2.4 1.5M199.9 211l0 0M225.1 204.1l.7 -4.7M169.6 214.2l2 -2.2 2.1 -1.8M190.1 205.9l1.9 1.2M218.1 199.5l.7 -4.6M161.9 211.2l2 -2.3 2.1 -1.9M183.1 202.8l1.4 .9M154.2 208.3l4.1 -4.4M176 199.7l.7 .5M203.3 194.6l.7 -4.6M147.2 204.7l3.4 -3.7M169 196.7l0 0M196.3 189.9l.7 -4.5M139.5 202l4.1 -4.5M132.5 198.5l3.4 -3.8M181.6 185.7l.7 -4.6M124.8 195.9l4.1 -4.7M146.6 186.7l0 0M174.5 181.6l.7 -4.5M117.7 192.5l4.1 -4.6M139.5 183.7l0 0M167.5 177.7l.7 -4.5M110.7 189.1l3.4 -3.9M160.5 174l.7 -4.5M103.7 185.8l3.4 -3.9M153.5 170.5l.7 -4.4M96.6 182.5l3.4 -3.9M146.4 167l.7 -4.4M124.8 195.9l-28.1 -13.5M139.5 202l-21.1 -10.3 -21.1 -10.1M154.2 208.3l-21.1 -10.6 -35.1 -16.9M309.5 279.5l-14.1 -6M161.9 211.2l-14.1 -7.3 -14 -7 -35.1 -16.9M310.2 278.6l-14.1 -6 -14 -5.8M169.6 214.2l-14.1 -7.4 -14 -7.2 -21.1 -10.3 -21.1 -10M310.9 277.8l-14.1 -6 -21 -8.5M177.3 217.2l-14.1 -7.6 -14 -7.3 -14.1 -7 -21 -10.1M311.5 277l-21.1 -8.9 -28.1 -11M185.1 220.4l-28.1 -15.1 -21.1 -10.6M312.2 276.2l-21.1 -8.9 -35.1 -13.7M192.8 223.5l-21.1 -11.5 -21.1 -11M305.9 272.4l-21.1 -8.7 -35.1 -13.6M200.5 226.7l-28.1 -15.3 -14.1 -7.4M292.5 265.9l-35.1 -13.7 -14.1 -5.7M208.2 229.8l-42.2 -22.8M286.2 262.5l-35.1 -13.6 -14.1 -5.9M215.9 232.9l-14.1 -7.4 -28.1 -15.3M279.8 259.2l-28.1 -10.9 -14.1 -5.9 -7 -3.2 -7 -3.3 -14.1 -7.1 -35.1 -19.1M280.5 258.8l-28.1 -10.9 -14.1 -5.8 -7 -3.2 -7 -3.4 -14.1 -7.1 -28.1 -15.2M274.2 255.7l-21.1 -8.2 -14 -5.8 -7.1 -3.2 -7 -3.4 -14 -7.1 -28.1 -15.2M274.8 255.3l-21.1 -8.2 -14 -5.8 -7.1 -3.2 -7 -3.4 -14 -7.1 -28.1 -15.2M268.5 252.2l-21.1 -8.4 -14 -6.1 -7.1 -3.4 -14 -7.1 -21.1 -11.4M269.2 251.8l-21.1 -8.3 -14 -6.2 -7.1 -3.4 -14 -7.1 -21.1 -11.4M269.9 251.5l-21.1 -8.3 -14 -6.2 -7.1 -3.4 -14 -7.1 -21.1 -11.4M270.5 251.1l-21.1 -8.3 -14 -6.2 -7.1 -3.3 -14 -7.2 -21.1 -11.4M264.2 248.2l-14.1 -5.7 -14 -6.1 -14.1 -6.8 -21 -11.2M264.9 247.9l-14.1 -5.7 -14 -6.1 -14.1 -6.8 -21 -11.2M265.6 247.7l-14.1 -5.7 -14 -6.1 -14.1 -6.8 -21 -11.2M280.3 253.6l0 0M279.9 253.4l0 0M279.4 253.2l-6.1 -3M266.2 247.5l-21.1 -8.4 -14 -6.2 -9.5 -4.6M221.2 228.1l-1.5 -.8M219.2 227.1l-1.5 -.8M217.3 226.1l-2.4 -1.3M214.4 224.6l0 0M214 224.4l-2.4 -1.3M211.1 222.9l0 0M210.7 222.7l0 0M210.2 222.4l-1.1 -.6M208.7 221.6l-.9 -.5M207.5 220.9l-2.3 -1.3M204.7 219.4l0 0M204.3 219.2l-2.3 -1.3M201.5 217.7l-5.5 -3.1M280.8 253.7l-6.8 -3.8M266.9 247.3l-14.1 -5.5 -14 -6 -7 -3.2 -14.1 -6.9 -21.1 -11.5M281.7 254.1l-7 -4.3M267.6 247.1l-7 -2.8 -7.1 -2.4 -21 -9.6 -14.1 -7 -21.1 -11.5M282.3 254.4l0 0M281.9 254.2l-6.6 -4.4M268.3 247l-7 -2.8 -7.1 -2.2 -7 -3.7 -14 -6.3 -7.1 -3.5 -14 -7.3 -14.1 -7.7M282.4 254.4l-6.4 -4.6 -14.1 -5.7 -7 -1.9 -7 -4.1 -14.1 -6.4 -7 -3.5 -21.1 -11.1M282.7 254.5l-6.1 -4.6 -14 -5.8 -7 -1.7 -7.1 -4.4 -14 -6.6 -7 -3.5 -21.1 -11.1M291.4 255.8l-.5 -0M282.8 254.4l-5.5 -4.3 -14 -5.9 -7 -1.6 -7.1 -4.8 -21.1 -10.2 -21 -11.1M299.1 259l-7 -2.9 -.8 0M278 250.4l-14.1 -6 -6.5 -1.3M257 243l0 0M249.9 237.9l-21.1 -10.4 -21.1 -11.2M313.9 265.2l-21.1 -8.8 -.2 .1M278.7 250.7l-14.1 -6.1 -1.6 -.3M262.5 244.2l-1.9 -.4M259.8 243.7l-.2 -0M258.6 243.5l-.2 -0M250.6 238l-21.1 -10.7 -21.1 -11.3M328.6 271.9l-5.4 -2.4M322.5 269.2l0 0M322 268.9l-.7 -.3M320.9 268.4l0 0M320.4 268.2l-.2 -.1M319.7 267.9l-.7 -.3M318.6 267.4l-.7 -.3M317.5 266.9l-1.8 -.8M315.2 265.9l-2.5 -1.1M312.3 264.7l-1.8 -.8M310 263.7l-2 -.9M307.5 262.7l-4.3 -1.8M302.7 260.7l-6.8 -2.8M295.5 257.7l-2 -.8M279.4 251.1l-14.1 -6.1 -1.4 -.3M251.3 238.2l-21.1 -11 -21.1 -11.3M329.3 272.5l-6.3 -2.9M316.6 266.7l0 0M314.8 265.9l0 0M314.3 265.7l0 0M313.2 265.2l0 0M311.4 264.5l0 0M309.6 263.7l0 0M309.1 263.5l0 0M308.4 263.2l0 0M307.3 262.7l0 0M306.6 262.4l0 0M306.1 262.2l0 0M305.5 262l0 0M304.8 261.7l0 0M304.3 261.5l0 0M303.7 261.2l0 0M303.2 261l0 0M302.5 260.7l-.2 -.1M301.8 260.4l0 0M301.4 260.2l-.2 -.1M300.7 259.9l0 0M300 259.7l0 0M299.6 259.5l-.2 -.1M298.9 259.2l0 0M298.2 258.9l0 0M297.8 258.7l-.2 -.1M297.1 258.4l-.2 -.1M296.4 258.2l0 0M295.9 258l0 0M295.3 257.7l-.2 -.1M294.6 257.4l0 0M294.1 257.2l0 0M280.1 251.5l-2.7 -1.1M276.9 250.2l-.2 -.1M276.2 249.9l-1.8 -.8M274 249l-.9 -.4M252 238.5l-49.2 -26.2M146.6 186.7l-.2 -.1M145.9 186.4l0 0M145.4 186.2l-.2 -.1M144.8 185.9l-.7 -.3M143.6 185.4l0 0M143.2 185.2l-.2 -.1M142.5 184.9l-.7 -.3M141.4 184.4l0 0M140.7 184.2l0 0M140.2 184l-.2 -.1M139.5 183.7l0 0M139.1 183.5l0 0M138.6 183.2l0 0M138 182.9l0 0M137.5 182.7l-.2 -.1M136.8 182.4l0 0M136.4 182.2l0 0M135.7 181.9l0 0M135.2 181.7l-.2 -.1M134.6 181.4l0 0M134.1 181.2l0 0M133 180.7l0 0M132.3 180.4l0 0M131.8 180.2l0 0M130 179.4l0 0M129.6 179.2l0 0M127.3 178.2l0 0M126.9 178l0 0M124.6 177l0 0M330 273.5l-7.9 -3.7M245.6 235.1l-28.1 -15.3 -14.1 -7.4M161.1 193.2l-.7 -.3M160 192.7l0 0M159.5 192.5l-.2 -.1M158.8 192.2l-.2 -.1M158.1 191.9l0 0M157.7 191.7l0 0M157 191.4l0 0M156.6 191.2l-.2 -.1M155.9 190.9l0 0M154.1 190.2l0 0M153.6 190l0 0M151.8 189.2l0 0M149.5 188.2l0 0M239.3 231.6l-21.1 -11.6 -14 -7.3 -14.1 -6.8 -15.4 -6.8M174.2 198.9l-1.4 -.6M172.4 198.2l0 0M172 198l-.9 -.4M170.6 197.4l0 0M170.2 197.2l0 0M169.5 196.9l0 0M169 196.7l-.2 -.1M168.3 196.4l0 0M167.2 196l0 0M166.5 195.7l0 0M232.9 228.1l-14.1 -7.8 -14 -7.3 -14.1 -6.6 -8.3 -3.7M181.9 202.4l0 0M181.5 202.2l-1.4 -.6M179.7 201.5l0 0M179 201.2l-.7 -.3M177.9 200.7l0 0M177.4 200.5l0 0M176.7 200.2l-.2 -.1M176 199.9l0 0M175.6 199.7l0 0M226.6 224.5l-7 -3.9 -14.1 -7.2 -16.1 -7.5M189 205.7l0 0M188.5 205.5l-.2 -.1M187.8 205.2l-.7 -.3M186.7 204.7l0 0M186.3 204.5l-.2 -.1M185.6 204.2l0 0M185.1 204l-.2 -.1M184.4 203.7l0 0M183.8 203.4l0 0M183.3 203.2l0 0M220.3 221l-14.1 -7.2 -9.2 -4.4M196.5 209.2l-1.8 -.8M194.2 208.2l0 0M193.7 208l-.2 -.1M193.1 207.7l0 0M192.6 207.5l0 0M191.9 207.2l0 0M191.5 207l0 0M190.8 206.7l0 0M220.9 221.4l-14.1 -7.2 -4.9 -2.3M201.4 211.7l0 0M201 211.5l-.2 -.1M200.3 211.2l0 0M199.9 211l0 0M313.7 246l-7 7.9M285.6 233.4l-6.9 17.6M357.2 265l-14.1 -8.3M322.1 247.5l-7 -9.4M308 244.1l-7 -1.1M181.6 185.7l-14.1 -8 -7 -3.7 -14 -6.9M301.7 238.1l-7 -1.7 -7.1 -13.1M203.3 194.6l-14.1 -9.2M281.3 228.2l-14.1 -4.1 -7 -2.3M225.1 204.1l-14.1 -9.4M253.9 214.3l-7 -3.1 -7.1 -3.5M381.6 201.2l-7 -2.4 -4.9 -1.5M403.3 211.5l-7 -1.6M453.2 234.4l-7 -4.5 -14.1 -6.7 -7 -2.8 -7 -9.2M391.3 205.4l-7 22.8M485.4 231.2l-14.1 -6.5 -14.2 -6.2M486.1 229.8l-14.1 -6.4 -15.1 -6.4M486.8 228.9l-14.1 -6.3 -16 -6.7M473.4 221.8l-17 -7.1M460.1 215.2l-3.9 -1.6M456.2 205.9l-1.4 -.5M456.9 205.9l-2 -.8M464.6 208.7l-10 -3.8M465.3 208.8l-10.7 -4.1M473 211.7l-18.4 -7.1M480.7 214.7l-26.1 -10.2M495.5 220.9l-21.1 -8.7 -19.7 -7.6M503.2 224.3l-21.1 -8.9 -27.4 -10.7M503.9 224.7l-10.7 -4.6M492.8 219.9l-4.3 -1.8M488 217.9l-16.3 -6.6M471.2 211.2l-7.3 -2.8M463.5 208.2l-4.1 -1.6M459 206.4l-4.3 -1.7M504.5 225.1l-5.7 -2.5M498.4 222.5l0 0M497.7 222.2l-.7 -.3M496.6 221.7l0 0M496.2 221.5l-.2 -.1M495.5 221.2l-.2 -.1M494.8 220.9l0 0M494.3 220.7l-.2 -.1M493.7 220.4l0 0M492.5 220l-.2 -.1M491.9 219.7l0 0M491.4 219.5l-.2 -.1M490.7 219.2l0 0M490 218.9l0 0M489.6 218.7l-.2 -.1M488.9 218.4l0 0M487.8 218l-.2 -.1M487.1 217.7l0 0M486.4 217.4l0 0M486 217.2l0 0M485.3 217l-.2 -.1M484.6 216.7l0 0M484.1 216.5l0 0M483.5 216.2l0 0M482.8 215.9l0 0M482.3 215.7l-.2 -.1M481.7 215.5l0 0M481 215.2l0 0M480.3 214.9l0 0M479.8 214.7l-.2 -.1M479.2 214.5l0 0M478.5 214.2l-.2 -.1M477.8 213.9l0 0M477.3 213.7l-.2 -.1M476.7 213.5l0 0M476 213.2l-.2 -.1M475.3 212.9l0 0M474.6 212.7l0 0M474.2 212.5l0 0M473.5 212.2l-.2 -.1M472.8 211.9l0 0M472.1 211.7l0 0M471 211.2l-.2 -.1M470.3 211l0 0M469.6 210.7l0 0M505.2 225.6l-6.3 -2.8M505.9 226.1l-7.5 -3.2"/><path stroke="#0dbac3" d="M312.9 275.5l2 -1.9 1.4 -.9 3.4 -1.9 2.7 -.9 1.4 -.1 1.4 .3 1.3 .5 2.1 1.3M357.9 260.4l.7 -4.4M459.5 233.9l.7 5.1M487.5 228l2 -2.2 1.4 -1.2 1.4 -.9 1.3 -.4 2.8 -.4 3.4 .1 1.3 .3 2.1 1M306.6 271.8l2 -1.7 2.1 -1.2 2.7 -1.4 2.1 -.6 1.3 -.1 1.4 .2 2.9 1.4M321.4 268.6l.2 .1M452.5 229.6l.7 4.8M480.5 224.9l2 -2.2 1.4 -1.1 1.4 -.9 1.3 -.4 2.1 -.3 3.4 -0 1.4 .1 2 .8M299.5 268.8l2 -1.7 2.1 -1.2 2.7 -1.3 2.1 -.7 1.3 -.1 1.4 .2 2.7 1.2M343.2 256.8l.7 -4.1M474.1 221.1l2.7 -2.5 1.4 -.8 1.4 -.4 2 -.3 3.4 -0 1.4 .1 2 .8M293.2 265.3l1.4 -1 2.7 -1.6 2 -1 2.1 -.7 1.3 -.1 1.4 .2 2.7 1.1M336.2 253.4l.7 -4.1M467.1 218.1l2.7 -2.4 1.4 -.8 1.4 -.4 2 -.3 2.7 -.1 2.1 .2 1.3 .4M286.8 262l4.1 -2.4 3.4 -1.3 2 -.2 2.8 .9M329.1 250.3l.7 -4M460.8 214.5l2.7 -2.1 2.1 -.7 3.4 -.4 2.7 .1 1.4 .3M281.2 258.3l3.4 -1.8 2.7 -1 2.1 -.3 2 .6M455.6 210.1l1.5 -.8 2.1 -.5 2 -.2 3.4 0M275.5 254.9l4.1 -1.8 .7 .6M314.4 242l.7 -3.9M418.7 215.4l.7 4.4M454.9 205.9l1.4 0M271.2 250.9l3.4 -1 1.4 -0M308.7 239.5l.7 -4.4M410.3 212.6l.7 5M295.4 231.6l.7 -4.6M395.6 204.6l.7 5.3M286.3 230.1l.7 -3.4M390.6 202.1l.7 3.3M275 221.3l.7 -4.6M267.9 219.2l.7 -4.6M260.9 217l.7 -4.6M201 218.3l1.4 -.5 .6 .7M205.7 217.1l2.7 -1 1.4 -.1M239.8 207.7l.7 -4.6M191.2 215.8l4.1 -1.8 .7 .6 2.7 -1.4 2 -.8 1.4 -.2 2.1 .5M232.8 203.7l.7 -4.6M182.1 213.1l4.8 -2.4 1.3 -.5 .7 .4 4.1 -1.8 2.1 -.2 2 .6M225.8 199.4l.7 -4.5M173.7 210.2l2.7 -1.7 3.4 -1.6 1.4 -.5 .7 .3 2 -1 2.1 -.6 2 -0 2.1 .8M218.7 194.9l.7 -4.5M166 207l2 -1.4 4.1 -2.2 2.1 -.7 .7 .1 3.4 -1.3 2 .1 1.4 .4 1.4 .7M211 194.7l.7 -4.5M158.3 204l2 -1.6 4.1 -2.2 2.1 -.9 1.3 -.2 2.8 -.9 1.3 -.1 1.4 .3 2.7 1.4M204 190l.7 -4.4M150.6 201l2.7 -2.2 3.4 -1.9 2.8 -1.2 3.4 -.9 1.3 -.1 1.4 .2 1.4 .6 2 1.2M197 185.4l.7 -4.4M143.6 197.5l2 -1.7 3.5 -2 2.7 -1.3 3.4 -1 1.4 -.2 1.3 .3 1.4 .5 1.9 1.1M189.3 185.4l.7 -4.5M135.9 194.7l2 -1.9 1.4 -.9 5.5 -2.8M148.8 188l2 .4 2.9 1.5M154.1 190.1l0 0M182.2 181.1l.7 -4.4M128.8 191.3l2 -1.8 1.4 -1 4.8 -2.5M142.5 184.8l1.4 .4 2.2 1.2M146.4 186.6l.2 .1M175.2 177l.7 -4.3M121.8 187.9l2.7 -2.3 4.8 -2.7M135.5 181.6l2 .8 1.8 1M139.5 183.7l0 0M168.2 173.2l.7 -4.3M114.1 185.2l3.4 -3 4.8 -2.6M127.7 178.2l2 .6 2.3 1.3M132.4 180.4l0 0M161.2 169.5l.7 -4.3M107.1 181.9l3.4 -3 4.1 -2.3M120.7 175l2 .7 2.1 1.2M154.1 166l.7 -4.3M100.1 178.6l3.4 -3 4.1 -2.2M113.7 171.8l2 .7 2.1 1.2M118.1 174l0 0M114.1 185.2l-14.1 -6.6M135.9 194.7l-35.1 -16.8M150.6 201l-21.1 -10.4 -28.1 -13.3M312.9 275.5l-7 -3M158.3 204l-21.1 -10.6 -35.1 -16.7M313.6 274.8l-21.1 -8.9M166 207l-14.1 -7.2 -14 -7 -35.1 -16.7M314.3 274.2l-14.1 -6 -14 -5.7M173.7 210.2l-14.1 -7.4 -14 -7.1 -21.1 -10.2 -21.1 -9.9M314.9 273.6l-14.1 -6 -21 -8.4M174.4 209.8l-14.1 -7.4 -14 -7.1 -21.1 -10.2 -21.1 -9.9M315.6 273.1l-14.1 -6 -21 -8.4M182.1 213.1l-21.1 -11.2 -14 -7 -21.1 -10.2 -21.1 -9.9M316.3 272.7l-21.1 -8.8 -21.1 -8.2M182.8 212.7l-21.1 -11.2 -14 -7 -21.1 -10.2 -21.1 -9.9M317 272.3l-21.1 -8.8 -21.1 -8.2M183.5 212.4l-21.1 -11.2 -14 -7 -21.1 -10.2 -21.1 -9.9M317.7 271.9l-21.1 -8.8 -28.1 -10.9M191.2 215.8l-21.1 -11.3 -14 -7.2 -21.1 -10.4 -28.1 -13.2M318.4 271.5l-21.1 -8.8 -28.1 -10.9M191.9 215.5l-21.1 -11.3 -14 -7.2 -21.1 -10.4 -21.1 -9.9M319 271.2l-21.1 -8.8 -28.1 -10.9M192.6 215.1l-28.1 -15 -14.1 -7 -21 -10.2M319.7 270.8l-21.1 -8.8 -28.1 -10.9M193.2 214.8l-28.1 -15 -28.1 -13.8M320.4 270.5l-21.1 -8.8 -35.1 -13.6M201 218.3l-28.1 -15.1 -14.1 -7.2 -14 -7M321.1 270.3l-21.1 -8.8 -35.1 -13.6M201.6 218.1l-28.1 -15.1 -14.1 -7.2 -14 -7M321.8 270l-21.1 -8.8 -35.1 -13.6M202.3 217.9l-28.1 -15.1 -14.1 -7.2 -14 -7M322.5 269.8l-14.1 -6 -21 -8.3 -6.1 -1.7M280.5 253.7l-.2 -.1M273.3 250.2l-7 -2.7M196 214.6l-28.1 -15.5 -21.1 -10.7M323.1 269.8l-14.1 -6 -21 -8.4 -6.8 -1.5M273.9 250l-7 -2.7M196.7 214.2l-28.1 -15.4 -21.1 -10.6M323.8 269.8l-14.1 -6 -21 -8.5 -7.1 -1.2M274.6 249.8l-7 -2.7M197.3 213.9l-14.1 -7.8 -14 -7.5 -21.1 -10.5M324.5 269.9l-14.1 -6 -21 -8.6 -6.1 -.7M282.8 254.5l-.5 -.1M275.3 249.8l-7 -2.8M198 213.5l-14.1 -7.8 -14 -7.4 -14.1 -7 -14 -6.6M127.7 178.2l-14.1 -6.5M325.2 270l-14.1 -6.1 -21 -8.6 -3.9 -.3M285.2 255l-.5 -0M205.7 217.1l-28.1 -15.3 -14.1 -7.1 -49.1 -22.7M325.9 270.3l-14.1 -6.1 -14 -5.8 -7 -2.8 -1 -.1M289.3 255.5l-1.5 -.1M206.4 216.8l-21.1 -11.5 -14 -7.2 -14.1 -6.7 -42.1 -19.2M326.5 270.6l-14.1 -6.1 -21 -8.7M207.1 216.5l-21.1 -11.4 -14 -7 -56.2 -25.6M327.2 271l-14.1 -6.2 -14 -5.8M207.8 216.3l-21.1 -11.3 -14 -6.8 -56.2 -25.3M327.9 271.4l-14.1 -6.2M208.5 216.1l-14.1 -7.5 -14 -7 -14.1 -6.4 -49.1 -21.9M209.1 216l-14.1 -7.4 -14 -6.8 -47.4 -20.9M133.2 180.7l-2.3 -1M130.5 179.4l-1.8 -.8M128.2 178.4l0 0M127.8 178.2l-1.8 -.8M125.5 177.2l-1.8 -.8M123.2 176.2l-.7 -.3M122.1 175.7l-1.1 -.5M120.5 174.9l-.7 -.3M119.4 174.4l-.7 -.3M118.2 173.9l-.5 -.2M202.8 212.3l-14.1 -7 -7 -3.2 -26.7 -11.7M154.5 190.2l-1.8 -.8M152.2 189.2l-1.4 -.6M150.4 188.4l0 0M150 188.2l-1.4 -.6M148.2 187.4l0 0M147.7 187.2l-1.1 -.5M203.5 212.4l-14.1 -6.9 -23.8 -10.4M165.2 194.9l-1.8 -.8M162.9 193.9l-.2 -.1M162.2 193.7l0 0M161.8 193.5l-.2 -.1M314.4 242l-7 6.8M286.3 230.1l-7 14.5M343.2 256.8l-14.1 -6.5 -7 -2.8M357.9 260.4l-7 -3.9M308.7 239.5l-7 -1.4M189.3 185.4l-7 -4.3 -14.1 -7.9 -21.1 -10.6M295.4 231.6l-7 -11.8M211 194.7l-14.1 -9.4 -7 -4.4M275 221.3l-7 -2 -7.1 -2.3 -7 -2.6M239.8 207.7l-7 -4 -7.1 -4.3 -14 -9.2M395.6 204.6l-7 -13M459.5 233.9l-14.1 -8.5M410.3 212.6l-7 -1.1M418.7 215.4l-7 7.5M390.6 202.1l-7 18M487.5 228l-14.1 -6.2M488.2 227.2l-14.1 -6.2 -14 -5.8M488.9 226.5l-14.1 -6.1 -18.5 -7.7M489.5 225.8l-14.1 -6.1 -19.7 -8.1M490.2 225.2l-14.1 -6.1 -20.6 -8.4M490.9 224.6l-21.1 -8.9 -14.3 -5.7M491.6 224.1l-21.1 -8.9 -14 -5.6 -1 -.2M492.3 223.8l-21.1 -8.9 -14 -5.5 -1.7 -.4M493 223.5l-21.1 -8.8 -14 -5.5 -2.4 -.7M493.6 223.3l-21.1 -8.8 -17.4 -6.8M494.3 223.1l-21.1 -8.8 -18.1 -7.1M495 223l-21.1 -8.8 -18.8 -7.3M495.7 223l-21.1 -8.8 -19.7 -7.7M496.4 222.9l-21.1 -8.8 -20.4 -8M497 222.9l-21.1 -8.8 -21.1 -8.2M497.7 222.9l-21.1 -8.8 -21.7 -8.5M498.4 222.9l-21.1 -8.8 -21.1 -8.2M499.1 223l-21.1 -8.8 -21.1 -8.2M499.8 223l-14.1 -6 -21 -8.4M500.5 223.1l-14.1 -6 -21 -8.4M501.1 223.3l-14.1 -6 -14 -5.7M501.8 223.6l-21.1 -8.9M502.5 223.9l-7 -3"/><path stroke="#10bcbd" d="M350.9 256.5l.7 -4.2M343.9 252.7l.7 -4.1M445.5 225.4l.7 4.4M336.8 249.4l.7 -4M438.5 222l.7 4.3M329.8 246.3l.7 -4M431.4 218.9l.7 4.3M322.8 243.4l.7 -4M424.4 216l.7 4.3M315.1 238.1l.7 -3.9M418.1 211.1l.7 4.2M309.4 235.1l.7 -4.3M409.7 207.9l.7 4.7M302.4 233.4l.7 -4.5M402.6 206.4l.7 5.1M287 226.7l.7 -3.4M389.9 198.7l.7 3.4M282 223.4l.7 -4.6M380.9 196.1l.7 5.2M373.8 193.7l.7 5.1M268.6 214.6l.7 -4.5M261.6 212.3l.7 -4.5M254.6 209.7l.7 -4.5M247.5 206.6l.7 -4.5M240.5 203.1l.7 -4.5M233.5 199.2l.7 -4.5M226.5 194.9l.7 -4.4M211.7 190.2l.7 -4.4M204.7 185.5l.7 -4.3M190 180.9l.7 -4.3M144.7 189.1l2.7 -.9 1.4 -.2M182.9 176.7l.7 -4.3M137 186l3.4 -1.1 2.1 -0M175.9 172.7l.7 -4.2M129.3 182.9l2 -.8 2.1 -.6 2 .1M122.3 179.6l3.4 -1.2 2.1 -.2M114.6 176.6l4.1 -1.6 2 -0M107.6 173.4l4.1 -1.6 2 0M147.1 162.6l.7 -4.3M114.6 176.6l-7 -3.3M129.3 182.9l-21.1 -9.9M137 186l-28.1 -13.2M144.7 189.1l-35.1 -16.6M145.4 188.8l-35.1 -16.6M146.1 188.6l-35.1 -16.6M146.8 188.4l-35.1 -16.6M147.5 188.2l-35.1 -16.5M148.1 188.1l-35.1 -16.4M141.8 184.7l-14.1 -6.5M315.1 238.1l-7 6M287 226.7l-7 11.9M350.9 256.5l-7 -3.9 -7.1 -3.3 -7 -3.1 -7 -2.8 -7 -9.2M309.4 235.1l-14.1 -3.6M190 180.9l-7 -4.2 -14.1 -7.9M282 223.4l-7 -2.1M211.7 190.2l-14.1 -9.2M268.6 214.6l-7 -2.3 -7.1 -2.7 -7 -3 -7 -3.5 -7 -4 -14.1 -8.7M380.9 196.1l-10.1 -3.3M409.7 207.9l-7 -1.5 -7.1 -1.8M445.5 225.4l-14.1 -6.6 -7 -2.8 -7 -9M418.1 211.1l-7 6.4M389.9 198.7l-7 14.3"/><path stroke="#15bfb6" d="M358.6 256l.7 -4.3M458.9 229.1l.7 4.8M351.6 252.3l.7 -4.1M451.8 225.1l.7 4.5M344.5 248.6l.7 -4M444.8 221.1l.7 4.3M337.5 245.4l.7 -4M437.8 217.8l.7 4.2M330.5 242.3l.7 -3.9M430.7 214.7l.7 4.2M323.5 239.4l.7 -4M423.7 211.8l.7 4.2M315.8 234.2l.7 -3.8M417.4 207l.7 4.1M310.1 230.9l.7 -4.1M303.1 229l.7 -4.3M402 201.6l.7 4.8M296 227l.7 -4.4M394.9 199.7l.7 4.9M287.6 223.3l.7 -3.5M389.3 195.2l.7 3.5M282.7 218.8l.7 -4.4M380.2 191.2l.7 4.9M275.6 216.7l.7 -4.4M373.2 188.9l.7 4.8M262.3 207.8l.7 -4.4M255.2 205.2l.7 -4.4M248.2 202.1l.7 -4.4M241.2 198.6l.7 -4.4M234.2 194.7l.7 -4.3M219.4 190.4l.7 -4.4M212.4 185.8l.7 -4.3M197.7 181l.7 -4.3M190.6 176.6l.7 -4.2M183.6 172.4l.7 -4.2M168.9 168.9l.7 -4.2M161.8 165.2l.7 -4.2M154.8 161.7l.7 -4.2M147.8 158.3l.7 -4.2M315.8 234.2l-7 5.3M287.6 223.3l-7 9.9M358.6 256l-14.1 -7.4 -14 -6.3 -7 -2.9 -7.1 -9M168.9 168.9l-21.1 -10.6M310.1 230.9l-14.1 -3.9 -7 -10.8M197.7 181l-14.1 -8.6 -7 -3.9M282.7 218.8l-14.1 -4.2M219.4 190.4l-14.1 -9.2M262.3 207.8l-7 -2.6 -7.1 -3.1 -7 -3.5 -7 -3.9 -7 -4.2M380.2 191.2l-8 -2.6M402 201.6l-7 -1.9 -7.1 -11.7M458.9 229.1l-14.1 -7.9 -14 -6.5 -7 -2.8 -7.1 -8.8M417.4 207l-7 5.6M389.3 195.2l-7 11.6"/><path stroke="#1ec1af" d="M359.3 251.8l.7 -4.1M458.2 224.5l.7 4.6M352.3 248.2l.7 -4M451.1 220.7l.7 4.4M345.2 244.6l.7 -3.9M444.1 216.9l.7 4.2M338.2 241.4l.7 -3.9M437.1 213.7l.7 4.1M331.2 238.3l.7 -3.9M430.1 210.6l.7 4.1M324.1 235.5l.7 -3.9M423 207.7l.7 4.1M409 203.4l.7 4.5M303.7 224.7l.7 -4.1M296.7 222.6l.7 -4.2M394.2 195l.7 4.7M288.3 219.8l.7 -3.6M388.6 191.7l.7 3.5M283.3 214.4l.7 -4.2M276.3 212.3l.7 -4.2M269.3 210.2l.7 -4.3M255.9 200.8l.7 -4.2M248.9 197.7l.7 -4.2M241.9 194.2l.7 -4.2M227.1 190.5l.7 -4.3M220.1 186l.7 -4.2M213.1 181.5l.7 -4.1M205.4 181.2l.7 -4.2M198.3 176.7l.7 -4.1M191.3 172.4l.7 -4M176.6 168.5l.7 -4.1M169.6 164.7l.7 -4.1M162.5 161l.7 -4M155.5 157.5l.7 -4M148.5 154.1l.7 -4M288.3 219.8l-7 8.4M359.3 251.8l-14.1 -7.2 -14 -6.2 -7 -2.9 -7.1 -8.7M176.6 168.5l-14.1 -7.4 -14 -6.9M303.7 224.7l-7 -2.1 -7.1 -9.9M205.4 181.2l-14.1 -8.8 -7 -4.1M283.3 214.4l-14.1 -4.2 -7 -2.4M227.1 190.5l-21.1 -13.5M255.9 200.8l-7 -3.1 -7.1 -3.4 -7 -3.9M394.2 195l-7 -10.5M458.2 224.5l-14.1 -7.5 -14 -6.4 -7 -2.9 -7.1 -8.5M409 203.4l-7 -1.7M388.6 191.7l-7 9.6"/><path stroke="#27c3a7" d="M360 247.7l.7 -3.9M457.5 220.2l.7 4.3M352.9 244.2l.7 -3.8M345.9 240.7l.7 -3.8M338.9 237.5l.7 -3.8M331.9 234.5l.7 -3.7M324.8 231.6l.7 -3.8M422.4 203.7l.7 4M316.4 230.4l.7 -3.7M416.7 203l.7 4M310.8 226.8l.7 -4M408.3 199l.7 4.3M304.4 220.6l.7 -4M401.3 197.1l.7 4.6M297.4 218.4l.7 -4M289 216.2l.7 -3.5M387.9 188.1l.7 3.6M379.5 186.5l.7 4.6M277 208l.7 -4.1M372.8 186.4l.4 2.4M270 205.8l.7 -4.1M263 203.4l.7 -4.2M234.8 190.4l.7 -4.2M227.8 186.2l.7 -4.1M220.8 181.9l.7 -4M206.1 177l.7 -4M199 172.6l.7 -4M192 168.4l.7 -3.9M184.3 168.3l.7 -4M177.3 164.4l.7 -3.9M170.2 160.6l.7 -3.9M163.2 157l.7 -3.9M156.2 153.5l.7 -3.9M149.2 150.1l.7 -3.9M316.4 230.4l-7 4.7M289 216.2l-7 7.2M360 247.7l-14.1 -7 -14 -6.2 -7 -2.9 -7.1 -8.5M310.8 226.8l-7 -2.1M184.3 168.3l-14.1 -7.7 -21 -10.5M304.4 220.6l-7 -2.2 -7.1 -9.1M206.1 177l-14.1 -8.6 -7 -4.1M277 208l-14.1 -4.6 -7 -2.6M234.8 190.4l-7 -4.1 -14.1 -8.8M379.5 186.5l-5.9 -1.9M457.5 220.2l-7 -3.6M422.4 203.7l-7 -8.2M408.3 199l-14.1 -4M387.9 188.1l-7 8M416.7 203l-7 4.9"/><path stroke="#30c6a0" d="M360.6 243.8l.7 -3.8M353.6 240.3l.7 -3.8M450.5 216.5l.7 4.2M346.6 237l.7 -3.7M443.4 212.9l.7 4M339.6 233.8l.7 -3.7M436.4 209.7l.7 4M332.5 230.7l.7 -3.7M429.4 206.6l.7 4M325.5 227.8l.7 -3.7M317.1 226.7l.7 -3.6M416 199.2l.7 3.8M311.5 222.8l.7 -3.9M407.6 194.9l.7 4.1M400.6 192.8l.7 4.3M298.1 214.4l.7 -3.9M393.6 190.6l.7 4.4M289.7 212.7l.7 -3.5M387.2 184.6l.7 3.5M284 210.2l.7 -4M378.8 182.2l.7 4.3M277.7 203.9l.7 -4M270.7 201.7l.7 -4M263.6 199.3l.7 -4.1M256.6 196.6l.7 -4.1M249.6 193.5l.7 -4.1M242.6 190l.7 -4.1M235.5 186.2l.7 -4M228.5 182.1l.7 -4M221.5 177.8l.7 -4M213.8 177.4l.7 -4M206.7 173l.7 -3.9M199.7 168.7l.7 -3.9M185 164.3l.7 -3.9M177.9 160.4l.7 -3.8M170.9 156.7l.7 -3.8M163.9 153.1l.7 -3.8M156.9 149.6l.7 -3.8M149.8 146.3l.7 -3.8M317.1 226.7l-7 4.2M289.7 212.7l-7 6.1M360.6 243.8l-14.1 -6.8 -14 -6.2 -7 -3 -7.1 -8.2M311.5 222.8l-7 -2.2M185 164.3l-14.1 -7.6 -21 -10.5M298.1 214.4l-7 -8.6M284 210.2l-7 -2.2M213.8 177.4l-21.1 -12.9M277.7 203.9l-14.1 -4.7 -7 -2.7 -7 -3.1 -7 -3.4 -7.1 -3.8 -7 -4.1 -14 -8.7M378.8 182.2l-4 -1.3M407.6 194.9l-14.1 -4.3 -7 -9.6M450.5 216.5l-7 -3.6 -7.1 -3.2 -14 -6M387.2 184.6l-7 6.6M416 199.2l-7 4.2"/><path stroke="#3ac797" d="M361.3 239.9l.7 -3.8M456.8 216.1l.7 4.1M354.3 236.6l.7 -3.8M449.8 212.5l.7 4M347.3 233.2l.7 -3.7M442.8 209l.7 3.9M340.2 230.1l.7 -3.7M435.7 205.8l.7 3.8M333.2 227l.7 -3.7M428.7 202.7l.7 3.8M326.2 224.1l.7 -3.7M421.7 199.8l.7 3.9M317.8 223.1l.7 -3.6M415.3 195.4l.7 3.7M312.1 218.9l.7 -3.8M305.1 216.6l.7 -3.9M399.9 188.7l.7 4.1M298.8 210.4l.7 -3.9M392.9 186.4l.7 4.2M290.4 209.2l.7 -3.5M386.5 181.1l.7 3.5M284.7 206.1l.7 -4M271.3 197.7l.7 -4M264.3 195.2l.7 -4M257.3 192.5l.7 -4M250.3 189.4l.7 -4M243.2 186l.7 -4M236.2 182.2l.7 -4M229.2 178.1l.7 -4M214.4 173.4l.7 -3.9M207.4 169.1l.7 -3.9M200.4 164.8l.7 -3.9M192.7 164.5l.7 -3.8M185.7 160.4l.7 -3.8M178.6 156.6l.7 -3.8M171.6 152.9l.7 -3.8M164.6 149.3l.7 -3.8M157.6 145.9l.7 -3.8M150.5 142.5l.7 -3.8M317.8 223.1l-7 3.6M290.4 209.2l-7 5.1M361.3 239.9l-14.1 -6.7 -21 -9.1 -7.1 -8.2M312.1 218.9l-14.1 -4.6M192.7 164.5l-7 -4 -14.1 -7.6 -21.1 -10.4M298.8 210.4l-7 -8.3M284.7 206.1l-7 -2.2M214.4 173.4l-21.1 -12.8M271.3 197.7l-7 -2.5 -7.1 -2.7 -7 -3.1 -7 -3.4 -7 -3.8 -14.1 -8.3M399.9 188.7l-7 -2.3 -7.1 -8.9M456.8 216.1l-14.1 -7 -14 -6.3 -7 -2.9 -7.1 -8.1M386.5 181.1l-7 5.5M415.3 195.4l-7 3.6"/><path stroke="#45c88d" d="M362 236.1l.7 -3.8M456.1 212.1l.7 4M355 232.8l.7 -3.8M449.1 208.6l.7 3.9M442.1 205.2l.7 3.8M340.9 226.4l.7 -3.7M435 202l.7 3.8M333.9 223.3l.7 -3.7M428 199l.7 3.8M326.9 220.4l.7 -3.7M421 196l.7 3.8M318.5 219.5l.7 -3.6M414.6 191.8l.7 3.7M312.8 215.1l.7 -3.8M406.9 190.9l.7 4M305.8 212.7l.7 -3.9M399.2 184.7l.7 4M392.2 182.3l.7 4.1M291.1 205.7l.7 -3.6M285.4 202.2l.7 -4M378.1 178l.7 4.2M278.4 199.9l.7 -4M272 193.7l.7 -4M265 191.2l.7 -4M258 188.4l.7 -4M250.9 185.4l.7 -4M243.9 181.9l.7 -4M236.9 178.2l.7 -4M229.9 174.1l.7 -4M222.2 173.9l.7 -4M215.1 169.5l.7 -3.9M208.1 165.2l.7 -3.9M193.4 160.6l.7 -3.8M186.3 156.6l.7 -3.8M179.3 152.8l.7 -3.8M172.3 149.1l.7 -3.8M165.3 145.5l.7 -3.8M158.2 142.1l.7 -3.8M151.2 138.7l.7 -3.8M318.5 219.5l-7 3.2M291.1 205.7l-7 4.5M362 236.1l-14.1 -6.6M340.9 226.4l-14.1 -6 -7 -8M312.8 215.1l-14.1 -4.7M193.4 160.6l-7 -4 -14.1 -7.5 -21.1 -10.4M285.4 202.2l-14.1 -4.5M222.2 173.9l-21.1 -12.9M272 193.7l-7 -2.5 -7.1 -2.7 -7 -3.1 -7 -3.4 -7 -3.8 -14.1 -8.3M399.2 184.7l-7 -2.3 -7.1 -8.5M378.1 178l-1.9 -.6M456.1 212.1l-14.1 -6.9 -14 -6.2 -7 -3 -7.1 -7.9M406.9 190.9l-7 -2.3M414.6 191.8l-7 3.2"/><path stroke="#4fc983" d="M455.4 208.1l.7 4M448.4 204.7l.7 3.9M348 229.5l.7 -3.7M441.4 201.4l.7 3.8M434.4 198.2l.7 3.8M334.6 219.6l.7 -3.8M427.3 195.1l.7 3.8M327.6 216.6l.7 -3.8M420.3 192.2l.7 3.8M319.2 216l.7 -3.6M414 188.1l.7 3.7M313.5 211.3l.7 -3.9M406.3 187l.7 3.9M306.5 208.9l.7 -3.9M299.4 206.5l.7 -3.9M391.5 178.3l.7 4.1M291.7 202.2l.7 -3.6M385.9 177.5l.7 3.5M286.1 198.2l.7 -4M377.5 174.1l.6 3.9M279.1 196l.7 -4M265.7 187.2l.7 -4.1M258.7 184.4l.7 -4.1M251.6 181.3l.7 -4.1M244.6 177.9l.7 -4.1M237.6 174.1l.7 -4.1M222.8 169.9l.7 -4M215.8 165.6l.7 -4M208.8 161.3l.7 -4M201.1 160.9l.7 -3.9M194 156.8l.7 -3.9M187 152.8l.7 -3.9M180 149l.7 -3.9M173 145.3l.7 -3.9M165.9 141.7l.7 -3.9M319.2 216l-7 3M348 229.5l-7 -3.1M291.7 202.2l-7 4M334.6 219.6l-7 -2.9 -7.1 -8.1M313.5 211.3l-14.1 -4.8 -7 -7.9M201.1 160.9l-14.1 -8.1 -7 -3.8 -21.1 -10.7M286.1 198.2l-14.1 -4.5M222.8 169.9l-21.1 -12.9M265.7 187.2l-7 -2.8 -7.1 -3 -7 -3.5 -14 -7.7M391.5 178.3l-7 -8.2M455.4 208.1l-14.1 -6.7 -21 -9.2 -7.1 -8M406.3 187l-7 -2.3M414 188.1l-7 2.9M385.9 177.5l-7 4.7"/><path stroke="#5aca79" d="M362.7 232.3l.7 -3.9M355.7 229l.7 -3.9M348.6 225.8l.7 -3.9M341.6 222.6l.7 -3.8M426.7 191.3l.7 3.9M419.6 188.3l.7 3.9M319.8 212.3l.7 -3.8M314.2 207.4l.7 -4.1M405.6 183l.7 4M307.2 205l.7 -4.1M398.5 180.6l.7 4M300.1 202.6l.7 -4M292.4 198.6l.7 -3.8M385.2 173.9l.7 3.6M286.8 194.2l.7 -4.3M279.7 192l.7 -4.2M272.7 189.7l.7 -4.1M259.3 180.3l.7 -4.4M252.3 177.2l.7 -4.4M245.3 173.8l.7 -4.4M230.5 170.1l.7 -4.1M223.5 165.9l.7 -4.2M216.5 161.6l.7 -4.2M201.8 157l.7 -4M194.7 152.9l.7 -4.1M187.7 148.9l.7 -4.1M180.7 145.1l.7 -4.1M173.6 141.4l.7 -4.2M158.9 138.3l.7 -3.9M151.9 134.9l.7 -3.9M319.8 212.3l-7 2.8M362.7 232.3l-14.1 -6.5 -14 -6.2M292.4 198.6l-7 3.6M158.9 138.3l-7 -3.4M314.2 207.4l-14.1 -4.8 -7 -7.9M201.8 157l-14.1 -8.1 -21 -11.1M286.8 194.2l-14.1 -4.5 -7 -2.5M230.5 170.1l-21.1 -12.8M259.3 180.3l-7 -3.1 -7.1 -3.4 -7 -3.8M426.7 191.3l-7 -2.9 -7.1 -8.2M405.6 183l-14.1 -4.7M385.2 173.9l-7 4.1"/><path stroke="#67cb6e" d="M363.4 228.4l.7 -4.2M454.8 204.1l.7 4M356.3 225.1l.7 -4.2M447.7 200.8l.7 4M349.3 221.9l.7 -4.2M440.7 197.5l.7 3.9M342.3 218.8l.7 -4.1M433.7 194.3l.7 3.9M335.3 215.7l.7 -4.1M328.2 212.8l.7 -4.1M320.5 208.6l.7 -4M413.3 184.3l.7 3.8M314.9 203.3l.7 -4.3M404.9 178.8l.7 4.2M307.8 200.9l.7 -4.3M397.9 176.4l.7 4.2M300.8 198.6l.7 -4.3M390.8 174.1l.7 4.2M293.1 194.7l.7 -4.1M384.5 170.1l.7 3.8M287.4 189.9l.7 -4.4M280.4 187.8l.7 -4.4M273.4 185.5l.7 -4.4M266.4 183.1l.7 -4.4M238.3 170l.7 -4.4M231.2 166l.7 -4.4M224.2 161.7l.7 -4.4M217.2 157.4l.7 -4.4M209.5 157.3l.7 -4.3M202.4 153l.7 -4.3M195.4 148.8l.7 -4.3M188.4 144.8l.7 -4.3M166.6 137.9l.7 -4.2M159.6 134.4l.7 -4.2M152.6 131l.7 -4.2M320.5 208.6l-7 2.7M363.4 228.4l-21.1 -9.6 -14 -6 -7.1 -8.3M293.1 194.7l-7 3.5M166.6 137.9l-14.1 -6.9M314.9 203.3l-14.1 -4.8 -7 -7.9M209.5 157.3l-14.1 -8.4 -14 -7.9M287.4 189.9l-14.1 -4.4 -7 -2.5 -7 -2.7M238.3 170l-14.1 -8.3 -14 -8.7M404.9 178.8l-14.1 -4.7 -7 -8.2M454.8 204.1l-14.1 -6.6 -14 -6.2M384.5 170.1l-6.6 3.6M413.3 184.3l-7 2.7"/><path stroke="#73cb64" d="M364.1 224.2l.7 -4.2M454.1 199.7l.7 4.3M357 221l.7 -4.2M447 196.5l.7 4.3M350 217.8l.7 -4.2M440 193.2l.7 4.3M343 214.6l.7 -4.2M433 190.1l.7 4.3M335.9 211.6l.7 -4.2M426 187l.7 4.2M328.9 208.7l.7 -4.2M418.9 184.1l.7 4.2M321.2 204.5l.7 -4.1M412.6 180.1l.7 4.1M308.5 196.6l.7 -4.3M301.5 194.2l.7 -4.3M390.2 169.6l.7 4.5M293.8 190.6l.7 -4.1M383.8 165.9l.7 4.2M281.1 183.3l.7 -4.4M274.1 181.1l.7 -4.5M267 178.6l.7 -4.5M260 175.9l.7 -4.5M253 172.8l.7 -4.5M246 169.4l.7 -4.5M238.9 165.6l.7 -4.5M231.9 161.6l.7 -4.5M224.9 157.3l.7 -4.4M210.1 153l.7 -4.4M203.1 148.7l.7 -4.3M196.1 144.5l.7 -4.3M181.4 141l.7 -4.3M174.3 137.3l.7 -4.3M167.3 133.7l.7 -4.3M160.3 130.2l.7 -4.2M153.3 126.8l.7 -4.2M321.2 204.5l-7 2.9M364.1 224.2l-21.1 -9.6 -14 -5.9 -7.1 -8.3M293.8 190.6l-7 3.6M181.4 141l-14.1 -7.3 -14 -6.8M308.5 196.6l-7 -2.3 -7.1 -7.8M210.1 153l-14.1 -8.5 -7 -4M281.1 183.3l-14.1 -4.7 -7 -2.7 -7 -3.1 -7 -3.4 -7.1 -3.8 -7 -4.1 -14 -8.6M390.2 169.6l-6.5 -7.3M454.1 199.7l-21.1 -9.7 -14 -6 -7.1 -8.1M383.8 165.9l-2.9 1.6M412.6 180.1l-7 2.9"/><path stroke="#80cc59" d="M364.7 220l.7 -4.1M453.4 195.4l.7 4.4M357.7 216.7l.7 -4.1M446.4 192.1l.7 4.4M350.7 213.5l.7 -4.1M439.3 188.9l.7 4.3M343.7 210.4l.7 -4.1M432.3 185.7l.7 4.3M336.6 207.4l.7 -4.1M425.3 182.7l.7 4.3M329.6 204.4l.7 -4.1M418.3 179.7l.7 4.4M321.9 200.5l.7 -3.9M411.9 175.9l.7 4.2M315.5 199l.7 -4.2M404.2 174.4l.7 4.4M397.2 171.9l.7 4.5M302.2 189.9l.7 -4.1M294.5 186.5l.7 -4M288.1 185.5l.7 -4.3M274.8 176.6l.7 -4.2M267.7 174.1l.7 -4.3M260.7 171.4l.7 -4.4M253.7 168.3l.7 -4.4M246.6 164.9l.7 -4.4M239.6 161.1l.7 -4.3M232.6 157.1l.7 -4.2M217.9 153l.7 -4.3M210.8 148.6l.7 -4.2M203.8 144.4l.7 -4.1M189.1 140.5l.7 -4.2M182 136.7l.7 -4.2M175 133l.7 -4.1M168 129.4l.7 -4.1M161 126l.7 -4.1M153.9 122.6l.7 -4.1M321.9 200.5l-7 2.9M364.7 220l-21.1 -9.5 -14 -6 -7.1 -7.9M315.5 199l-7 -2.5M294.5 186.5l-7 3.4M189.1 140.5l-14.1 -7.5 -21 -10.4M302.2 189.9l-7 -7.4M288.1 185.5l-7 -2.2M217.9 153l-21.1 -12.7M274.8 176.6l-7 -2.5 -7.1 -2.7 -7 -3.1 -7 -3.4 -7 -3.8 -14.1 -8.2M453.4 195.4l-21.1 -9.6 -14 -6 -7.1 -7.8M404.2 174.4l-14.1 -4.8M411.9 175.9l-7 2.9"/><path stroke="#8eca51" d="M365.4 215.9l.7 -3.8M358.4 212.7l.7 -3.8M351.4 209.5l.7 -3.8M344.3 206.3l.7 -3.8M337.3 203.3l.7 -3.8M330.3 200.3l.7 -3.8M417.6 175.6l.7 4.2M322.6 196.5l.7 -3.6M316.2 194.8l.7 -4M403.5 170.1l.7 4.3M309.2 192.3l.7 -4M396.5 167.5l.7 4.4M389.5 165.1l.7 4.5M383.3 162.6l.5 3.3M288.8 181.2l.7 -4M281.8 178.9l.7 -4.1M268.4 169.8l.7 -3.9M261.4 167l.7 -4M254.4 163.9l.7 -4M247.3 160.5l.7 -4M240.3 156.8l.7 -3.9M225.6 152.9l.7 -4.1M218.5 148.6l.7 -4M211.5 144.4l.7 -3.9M196.8 140.3l.7 -4M189.7 136.3l.7 -4M182.7 132.5l.7 -3.9M175.7 128.9l.7 -3.8M168.7 125.3l.7 -3.8M161.6 121.9l.7 -3.8M154.6 118.5l.7 -3.8M322.6 196.5l-7 2.5M365.4 215.9l-21.1 -9.5 -14 -6.1 -7.1 -7.4M316.2 194.8l-14.1 -4.9M196.8 140.3l-7 -4 -14.1 -7.4 -21.1 -10.4M288.8 181.2l-14.1 -4.5M225.6 152.9l-21.1 -12.7M268.4 169.8l-7 -2.8 -7.1 -3.1 -7 -3.4 -14 -7.7M417.6 175.6l-7 -7.3M403.5 170.1l-14.1 -4.9 -4.6 -4.9"/><path stroke="#9bc848" d="M366.1 212.1l.7 -3.3M452.7 191.2l.7 4.1M359.1 208.9l.7 -3.3M445.7 188l.7 4.1M352 205.7l.7 -3.3M438.7 184.7l.7 4.1M345 202.6l.7 -3.4M431.6 181.6l.7 4.1M338 199.5l.7 -3.4M424.6 178.5l.7 4.1M331 196.5l.7 -3.4M323.3 192.9l.7 -3.2M411.2 171.9l.7 4M316.9 190.8l.7 -3.6M402.8 166.2l.7 3.9M309.9 188.2l.7 -3.7M395.8 163.5l.7 4M302.9 185.8l.7 -3.8M388.8 161l.7 4.1M295.1 182.5l.7 -3.6M289.5 177.1l.7 -3.6M282.5 174.8l.7 -3.7M275.4 172.4l.7 -3.8M262.1 163l.7 -3.5M255 159.9l.7 -3.5M248 156.5l.7 -3.5M233.3 152.9l.7 -3.8M226.2 148.8l.7 -3.7M219.2 144.6l.7 -3.6M212.2 140.5l.7 -3.4M204.5 140.2l.7 -3.8M197.5 136.2l.7 -3.7M190.4 132.3l.7 -3.6M183.4 128.6l.7 -3.5M176.4 125l.7 -3.4M169.4 121.5l.7 -3.4M162.3 118.1l.7 -3.4M155.3 114.7l.7 -3.3M323.3 192.9l-7 1.9M295.1 182.5l-7 3M366.1 212.1l-21.1 -9.6 -14 -6 -7.1 -6.9M316.9 190.8l-14.1 -5.1 -7 -6.8M204.5 140.2l-7 -4 -14.1 -7.6 -14 -7.1 -14.1 -6.8M289.5 177.1l-21.1 -7.3M233.3 152.9l-28.1 -16.4M262.1 163l-7 -3.1 -14.1 -7M402.8 166.2l-14.1 -5.1 -2.8 -2.8M452.7 191.2l-21.1 -9.6 -14 -6.1M411.2 171.9l-7 2.5"/><path stroke="#a9c740" d="M366.8 208.8l.7 -2.9M452 187.5l.7 3.7M359.8 205.6l.7 -2.9M445 184.3l.7 3.7M352.7 202.4l.7 -2.9M438 181.1l.7 3.7M345.7 199.2l.7 -3M430.9 177.9l.7 3.7M338.7 196.1l.7 -3M423.9 174.8l.7 3.7M331.6 193.1l.7 -3M416.9 171.8l.7 3.7M323.9 189.6l.7 -2.9M410.6 168.3l.7 3.6M317.6 187.3l.7 -3.1M402.2 162.8l.7 3.3M310.6 184.6l.7 -3.2M395.1 160.1l.7 3.5M303.5 182l.7 -3.3M388.1 157.4l.7 3.6M295.8 178.9l.7 -3.2M290.2 173.6l.7 -3.1M283.1 171.1l.7 -3.2M276.1 168.5l.7 -3.3M269.1 165.9l.7 -3.4M262.7 159.5l.7 -3.1M255.7 156.4l.7 -3.1M248.7 153l.7 -3.1M241 152.9l.7 -3.4M234 149l.7 -3.3M226.9 145l.7 -3.2M219.9 141l.7 -3.1M212.9 137.1l.7 -3M205.2 136.5l.7 -3.3M198.1 132.6l.7 -3.2M191.1 128.8l.7 -3.1M184.1 125.1l.7 -3M177.1 121.6l.7 -3M170 118.1l.7 -3M163 114.7l.7 -3M156 111.4l.7 -3M323.9 189.6l-7 1.2M295.8 178.9l-7 2.3M366.8 208.8l-21.1 -9.6 -14 -6.1 -7.1 -6.3M317.6 187.3l-14.1 -5.3 -7 -6.3M205.2 136.5l-21.1 -11.3 -14 -7.1 -14.1 -6.7M290.2 173.6l-14.1 -5 -14 -5.5M241 152.9l-35.1 -19.7M262.7 159.5l-7 -3.1 -14.1 -7M402.2 162.8l-14.1 -5.4 -.9 -.8M452 187.5l-21.1 -9.6 -14 -6.1 -7.1 -6.6M410.6 168.3l-7 1.8"/><path stroke="#b6c439" d="M367.5 205.9l.7 -2.7M451.3 184.4l.7 3.1M360.4 202.6l.7 -2.7M444.3 181.2l.7 3.1M353.4 199.4l.7 -2.7M437.3 178l.7 3.1M346.4 196.3l.7 -2.7M430.3 174.8l.7 3.1M339.4 193.1l.7 -2.8M423.2 171.7l.7 3.1M332.3 190.1l.7 -2.8M416.2 168.6l.7 3.2M324.6 186.8l.7 -2.7M409.9 165.2l.7 3.1M318.3 184.2l.7 -2.8M401.5 159.9l.7 2.9M311.2 181.4l.7 -2.9M394.5 157.1l.7 2.9M304.2 178.7l1.4 -5.7M387.6 155.3l.5 2.1M296.5 175.7l1.4 -5.5M290.9 170.4l.7 -2.9M283.8 167.8l.7 -2.9M276.8 165.2l.7 -3M269.8 162.4l1.4 -5.9M263.4 156.4l.7 -2.9M256.4 153.2l.7 -2.9M249.4 149.9l.7 -2.9M241.7 149.4l1.4 -5.9M234.6 145.7l.7 -3M227.6 141.8l.7 -2.9M220.6 137.9l.7 -2.9M213.6 134l.7 -2.8M205.8 133.2l1.4 -5.7M198.8 129.4l.7 -2.9M191.8 125.7l.7 -2.8M184.8 122.1l.7 -2.8M177.7 118.6l.7 -2.8M170.7 115.1l.7 -2.8M163.7 111.8l.7 -2.7M156.7 108.4l.7 -2.7M324.6 186.8l-7 .5M296.5 175.7l-7 1.4M367.5 205.9l-35.1 -15.8 -7.1 -5.9M318.3 184.2l-14.1 -5.5 -7 -5.8 -7 .7M205.8 133.2l-21.1 -11.1 -28.1 -13.6M304.9 175.7l-7 -5.6M290.9 170.4l-14.1 -5.3 -14 -5.6M241.7 149.4l-42.2 -22.9M270.5 159.4l-14.1 -6.1 -7 -3.4 -14 -7.2M401.5 159.9l-13.4 -5.3M451.3 184.4l-21.1 -9.6 -14 -6.2 -7.1 -6.1M409.9 165.2l-7 .9"/><path stroke="#c3c233" d="M368.1 203.1l.7 -2.6M450.7 181.7l.7 2.7M361.1 199.9l.7 -2.6M443 176l1.4 5.2M354.1 196.7l.7 -2.6M435.9 172.8l1.4 5.2M347.1 193.5l.7 -2.6M428.9 169.6l1.4 5.2M340 190.4l.7 -2.6M421.9 166.4l1.4 5.3M333 187.3l.7 -2.6M414.9 163.3l1.4 5.3M325.3 184.1l.7 -2.5M408.5 160.1l1.4 5.1M319 181.3l1.4 -5.1M400.8 157.4l.7 2.6M311.9 178.5l1.4 -5.2M393.8 154.5l.7 2.6M305.6 173l.7 -2.6M297.9 170.2l.7 -2.5M291.5 167.6l.7 -2.7M284.5 164.9l1.4 -5.3M277.5 162.2l1.4 -5.4M271.1 156.5l.7 -2.6M264.1 153.5l.7 -2.7M257.1 150.4l.7 -2.7M250.1 147l.7 -2.7M243 143.5l.7 -2.6M235.3 142.7l1.4 -5.4M228.3 138.9l1.4 -5.3M221.3 135.1l.7 -2.7M214.2 131.3l.7 -2.6M207.2 127.5l.7 -2.6M199.5 126.5l1.4 -5.2M192.5 122.8l1.4 -5.1M185.5 119.3l.7 -2.6M178.4 115.8l.7 -2.6M171.4 112.4l.7 -2.6M164.4 109l.7 -2.6M157.3 105.7l.7 -2.6M325.3 184.1l-7 .1M368.1 203.1l-35.1 -15.8 -7.1 -5.7M319 181.3l-14.1 -5.6M297.9 170.2l-7 .3M199.5 126.5l-21.1 -10.7 -21.1 -10.1M319.6 178.7l-14.1 -5.7 -7 -5.3M291.5 167.6l-21.1 -8.2M235.3 142.7l-28.1 -15.2 -21.1 -10.8M285.2 162.2l-14.1 -5.6 -14 -6.2 -14.1 -6.8 -21 -11.2M443 176l-28.1 -12.7 -7 -5.5M400.8 157.4l-11.3 -4.6M450.7 181.7l-35.1 -15.9 -7.1 -5.7 -7 -.2M409.2 162.5l-7 .3"/><path stroke="#d0bf2e" d="M368.8 200.6l1.4 -4.7M449.3 176.9l1.4 4.8M361.8 197.3l1.4 -4.7M442.3 173.7l.7 2.3M354.8 194.1l1.4 -4.7M435.2 170.5l.7 2.3M347.7 191l1.4 -4.8M428.2 167.3l.7 2.3M340.7 187.8l1.4 -4.8M421.2 164.1l.7 2.3M333.7 184.7l1.4 -4.8M414.2 161l.7 2.3M326 181.6l1.4 -4.6M407.8 157.8l.7 2.3M320.3 176.2l.7 -2.4M400.1 155l.7 2.4M313.3 173.3l.7 -2.4M393.1 152.1l.7 2.4M306.3 170.4l.7 -2.4M298.6 167.7l.7 -2.4M292.2 164.9l1.4 -4.9M285.9 159.6l.7 -2.4M278.8 156.8l.7 -2.5M271.8 153.9l.7 -2.5M264.8 150.9l.7 -2.5M257.8 147.7l.7 -2.5M250.7 144.4l.7 -2.5M243.7 140.9l.7 -2.5M236.7 137.3l.7 -2.5M229.7 133.6l.7 -2.4M221.9 132.4l1.4 -4.9M214.9 128.6l1.4 -4.8M207.9 124.9l.7 -2.4M200.9 121.3l.7 -2.4M193.8 117.7l.7 -2.4M186.1 116.7l1.4 -4.8M179.1 113.2l1.4 -4.8M172.1 109.8l1.4 -4.8M165.1 106.5l1.4 -4.8M158 103.1l1.4 -4.7M326 181.6l-7 -.3M368.8 200.6l-35.1 -15.9 -7.1 -5.4 -7 -.6M298.6 167.7l-7 -.1M186.1 116.7l-28.1 -13.5M369.5 198.2l-35.1 -15.9 -7.1 -5.3M320.3 176.2l-14.1 -5.8 -7 -5.1M292.2 164.9l-7 -2.7M221.9 132.4l-28.1 -14.7 -14.1 -6.9 -21 -10.1M292.9 162.4l-21.1 -8.5 -14 -6.2 -14.1 -6.8 -35.1 -18.4M449.3 176.9l-35.1 -15.9 -7.1 -5.3M400.1 155l-9.5 -3.9M450 179.2l-7 -3.2M407.8 157.8l-7 -.5"/><path stroke="#dcbd29" d="M370.2 195.8l.7 -2.2M448.6 174.8l.7 2.2M363.2 192.6l.7 -2.2M441.6 171.5l.7 2.2M356.1 189.4l.7 -2.2M434.6 168.3l.7 2.2M349.1 186.2l.7 -2.3M427.5 165.1l.7 2.2M342.1 183l.7 -2.3M420.5 161.9l.7 2.2M335.1 179.9l.7 -2.3M413.5 158.8l.7 2.2M327.3 177l.7 -2.2M406.5 153.7l1.4 4.1M321 173.8l1.4 -4.5M398.8 150.6l1.4 4.3M314 170.9l1.4 -4.6M392 148.6l1.1 3.4M306.9 168l1.4 -4.6M299.2 165.3l1.4 -4.5M293.6 160l.7 -2.3M286.6 157.2l.7 -2.4M279.5 154.3l1.4 -4.7M272.5 151.4l1.4 -4.7M265.5 148.3l1.4 -4.8M258.4 145.2l1.4 -4.8M251.4 141.8l1.4 -4.8M244.4 138.4l1.4 -4.7M237.4 134.8l1.4 -4.7M230.3 131.2l.7 -2.4M223.3 127.5l.7 -2.3M216.3 123.8l.7 -2.3M208.6 122.5l1.4 -4.6M201.5 118.9l1.4 -4.6M194.5 115.3l1.4 -4.5M187.5 111.8l.7 -2.3M180.5 108.4l.7 -2.3M173.4 105l.7 -2.3M166.4 101.7l.7 -2.3M159.4 98.4l.7 -2.2M327.3 177l-7 -.8M299.2 165.3l-7 -.4M370.2 195.8l-35.1 -15.9 -7.1 -5.2M321 173.8l-14.1 -5.8 -7 -5 -7 -.6M208.6 122.5l-21.1 -10.7 -28.1 -13.4M321.7 171.5l-14.1 -5.9 -7 -4.8M293.6 160l-21.1 -8.6 -14 -6.2 -7.1 -3.3 -14 -7.1 -35.1 -18.2 -14.1 -7M280.2 151.9l-21.1 -9.2 -14 -6.7 -14.1 -7.2M398.8 150.6l-6.1 -2.6M448.6 174.8l-35.1 -15.9 -7.1 -5.2 -7 -.9 -7.9 -3.3M407.1 155.7l-7 -.7"/><path stroke="#e4be2e" d="M370.9 193.6l1.4 -4.3M447.3 170.7l1.4 4M363.8 190.4l1.4 -4.3M440.2 167.5l1.4 4M356.8 187.1l1.4 -4.4M433.2 164.3l1.4 4M349.8 183.9l1.4 -4.4M426.2 161.1l1.4 4M342.8 180.8l1.4 -4.4M419.1 157.9l1.4 4.1M335.7 177.6l1.4 -4.4M412.1 154.8l1.4 4.1M328 174.8l1.4 -4.3M405.8 151.7l.7 1.9M322.4 169.3l.7 -2.2M398.1 148.6l.7 2M315.3 166.3l.7 -2.2M308.3 163.4l.7 -2.2M300.6 160.8l1.4 -4.3M294.3 157.6l1.4 -4.5M287.2 154.8l1.4 -4.5M280.9 149.6l.7 -2.3M273.9 146.6l.7 -2.3M266.8 143.6l.7 -2.3M259.8 140.4l.7 -2.3M252.8 137.1l.7 -2.3M245.8 133.6l.7 -2.3M238.7 130.1l.7 -2.3M231 128.8l1.4 -4.5M224 125.1l1.4 -4.5M217 121.5l1.4 -4.4M209.9 117.9l.7 -2.2M202.9 114.3l.7 -2.2M195.9 110.8l.7 -2.2M188.2 109.6l1.4 -4.4M181.2 106.1l1.4 -4.4M174.1 102.8l1.4 -4.4M167.1 99.4l1.4 -4.4M160.1 96.1l1.4 -4.4M328 174.8l-7 -.9M370.9 193.6l-35.1 -16 -7.1 -5 -7 -1.1M300.6 160.8l-7 -.8M188.2 109.6l-28.1 -13.4M371.6 191.4l-35.1 -16 -7.1 -4.9M322.4 169.3l-14.1 -5.9 -7 -4.8 -7 -.9 -14.1 -5.8M231 128.8l-35.1 -18 -35.2 -16.9M294.9 155.4l-21.1 -8.7 -14 -6.3 -14.1 -6.7 -35.1 -18M447.3 170.7l-35.1 -16 -7.1 -4.9M398.1 148.6l-4.5 -1.9M447.9 172.7l-35.1 -16 -7.1 -5 -7 -1.1"/><path stroke="#edbe33" d="M372.2 189.2l1.4 -4.1M446.6 168.8l.7 1.9M365.2 186l1.4 -4.1M439.5 165.6l.7 1.9M358.2 182.8l1.4 -4.1M432.5 162.4l.7 1.9M351.2 179.6l1.4 -4.1M425.5 159.1l.7 1.9M344.1 176.4l1.4 -4.1M418.5 156l.7 1.9M337.1 173.3l1.4 -4.1M410.8 151l1.4 3.8M329.4 170.5l1.4 -4.1M404.4 148l1.4 3.7M323 167.1l1.4 -4.2M396.7 144.8l1.4 3.8M316 164.1l1.4 -4.2M309 161.2l1.4 -4.3M302 156.5l.7 -2.1M295.6 153.2l.7 -2.2M288.6 150.3l1.4 -4.3M281.6 147.3l1.4 -4.3M274.5 144.4l1.4 -4.4M267.5 141.3l1.4 -4.4M260.5 138.1l1.4 -4.4M253.5 134.8l1.4 -4.4M246.4 131.4l1.4 -4.4M239.4 127.8l1.4 -4.3M232.4 124.3l1.4 -4.3M225.4 120.7l.7 -2.2M218.3 117.1l.7 -2.1M210.6 115.7l1.4 -4.3M203.6 112.1l1.4 -4.2M196.6 108.6l1.4 -4.2M189.5 105.2l1.4 -4.2M182.5 101.8l1.4 -4.1M175.5 98.4l1.4 -4.1M168.5 95.1l1.4 -4.1M161.4 91.8l1.4 -4.1M329.4 170.5l-7 -1.2M372.2 189.2l-35.1 -16 -7.1 -4.8 -7 -1.3 -14 -6 -7.1 -4.7 -7 -1.1M210.6 115.7l-21.1 -10.5 -28.1 -13.4M372.9 187.2l-35.1 -16 -7.1 -4.7M323.7 165l-14.1 -6 -7 -4.6M295.6 153.2l-21.1 -8.8 -21.1 -9.6 -14 -6.9 -42.2 -21.4 -35.1 -16.8M289.3 148.1l-14.1 -5.9 -14 -6.3 -14.1 -6.7 -21 -10.7M410.8 151l-7 -4.7M396.7 144.8l-.9 -.4M446.6 168.8l-35.1 -16 -7.1 -4.8 -7 -1.4 -2.5 -1M405.1 149.8l-7 -1.2"/><path stroke="#f5bf39" d="M373.6 185.1l.7 -1.9M445.2 165.2l1.4 3.6M366.6 181.9l.7 -1.9M438.2 162l1.4 3.6M359.5 178.7l.7 -1.9M431.2 158.8l1.4 3.6M352.5 175.5l.7 -2M424.1 155.5l1.4 3.6M345.5 172.3l.7 -2M417.1 152.4l1.4 3.6M338.5 169.1l1.4 -3.8M410.1 149.2l.7 1.8M330.8 166.4l1.4 -3.8M403.1 144.6l1.4 3.4M324.4 162.9l1.4 -3.9M396.4 143.9l.3 .9M317.4 159.9l1.4 -3.9M310.4 156.9l1.4 -4M302.7 154.4l1.4 -3.9M296.3 151l1.4 -4.1M290 146l.7 -2M282.9 143l1.4 -4M275.9 140l1.4 -4M268.9 136.9l1.4 -4.1M261.9 133.7l1.4 -4.1M254.8 130.4l1.4 -4.1M247.8 127l1.4 -4M240.8 123.5l1.4 -4M233.7 120l.7 -2M226 118.5l1.4 -4.1M219 114.9l1.4 -4M212 111.4l1.4 -4M205 107.9l1.4 -3.9M197.9 104.4l1.4 -3.9M190.9 101l1.4 -3.9M183.9 97.6l1.4 -3.8M176.9 94.3l.7 -2M169.8 91l.7 -2M162.8 87.7l.7 -1.9M330.8 166.4l-7 -1.5M302.7 154.4l-7 -1.2M373.6 185.1l-35.1 -16 -7.1 -4.6 -7 -1.6 -14 -6.1 -7.1 -4.4 -7 -1.4 -7 -2.9M226 118.5l-28.1 -14.1 -35.1 -16.7M339.1 167.1l-7 -4.5M325.1 160.9l-14.1 -6.1 -7 -4.3M297 148.9l-21.1 -8.9 -21.1 -9.6 -49.1 -24.6 -28.2 -13.5M283.6 141l-21.1 -9.4 -14 -6.6 -14.1 -7M445.2 165.2l-35.1 -16 -7.1 -4.6 -5.8 -1.4M445.9 167l-35.1 -16M403.7 146.3l-7 -1.5"/><path stroke="#f9c23a" d="M374.3 183.2l1.4 -3.6M443.8 162l1.4 3.2M367.3 180l1.4 -3.6M436.8 158.8l1.4 3.2M360.2 176.7l1.4 -3.6M429.8 155.6l1.4 3.2M353.2 173.5l1.4 -3.6M422.8 152.3l1.4 3.2M346.2 170.3l1.4 -3.7M415.7 149.1l1.4 3.2M339.8 165.3l.7 -1.8M408.7 146l1.4 3.2M332.1 162.7l1.4 -3.5M402.4 143.1l.7 1.6M325.8 159l1.4 -3.5M318.8 155.9l1.4 -3.6M311.7 152.9l1.4 -3.6M304 150.5l1.4 -3.6M297.7 146.9l1.4 -3.7M290.6 144l1.4 -3.8M284.3 139l.7 -1.8M277.3 136l1.4 -3.6M270.2 132.8l1.4 -3.7M263.2 129.6l1.4 -3.7M256.2 126.3l1.4 -3.7M249.2 123l1.4 -3.6M242.1 119.5l.7 -1.8M234.4 118l1.4 -3.8M227.4 114.4l1.4 -3.7M220.4 110.9l1.4 -3.7M213.4 107.4l1.4 -3.6M206.3 103.9l1.4 -3.6M199.3 100.5l1.4 -3.5M192.3 97.1l1.4 -3.5M185.2 93.8l.7 -1.8M177.5 92.3l1.4 -3.7M170.5 89l1.4 -3.6M163.5 85.7l1.4 -3.6M374.3 183.2l-35.1 -16M332.1 162.7l-7 -1.7M304 150.5l-7 -1.5M177.5 92.3l-14.1 -6.6M375 181.3l-35.1 -16.1 -7.1 -4.3 -7 -1.9 -14 -6.1 -7.1 -4.3 -7 -1.7 -14 -6M234.4 118l-35.1 -17.5 -35.2 -16.6M326.5 157.2l-14.1 -6.1 -7 -4.2M298.4 145l-21.1 -9.1 -21.1 -9.6 -49.1 -24.2 -21.1 -10.2M278 134.1l-14.1 -6.3 -21 -10.1M443.8 162l-35.1 -16.1 -7.1 -4.3M444.5 163.6l-35.1 -16 -7.1 -4.5 -3.9 -1"/><path stroke="#fac637" d="M375.6 179.6l2 -4.9M442.5 159.2l1.4 2.8M368.6 176.3l2 -4.9M435.5 156l1.4 2.8M361.6 173.1l2 -4.9M428.4 152.8l1.4 2.8M354.6 169.9l2 -4.9M421.4 149.5l1.4 2.8M347.5 166.7l2 -4.9M414.4 146.3l1.4 2.8M340.5 163.5l2 -4.9M407.3 143.1l1.4 2.8M333.5 159.2l1.4 -3.2M401 140.3l1.4 2.8M327.1 155.5l1.4 -3.3M320.1 152.4l1.4 -3.3M313.1 149.3l1.4 -3.3M305.4 146.9l2 -4.8M299 143.2l1.4 -3.4M292 140.2l1.4 -3.4M285 137.2l2 -5.1M278.6 132.3l1.4 -3.3M271.6 129.2l1.4 -3.4M264.6 126l1.4 -3.4M257.6 122.7l1.4 -3.4M250.5 119.3l1.4 -3.3M242.8 117.7l2 -5.1M235.8 114.2l1.4 -3.4M228.8 110.7l1.4 -3.4M221.7 107.3l1.4 -3.3M214.7 103.8l1.4 -3.3M207.7 100.4l1.4 -3.3M200.7 97l1.4 -3.3M193.6 93.6l1.4 -3.2M185.9 92l2 -4.9M178.9 88.7l2 -4.9M171.9 85.4l2 -4.9M164.8 82.1l2 -4.9M375.6 179.6l-35.1 -16.1 -7.1 -4.2 -7 -2.1M305.4 146.9l-7 -1.8M185.9 92l-21.1 -9.9M376.3 177.9l-35.1 -16.1 -7.1 -4.2 -7 -2.1 -14 -6.2 -7.1 -4.1 -7 -1.9 -21.1 -9.2M242.8 117.7l-42.2 -20.7 -35.1 -16.6M377 176.2l-35.1 -16.1 -7.1 -4.1M327.8 153.8l-14.1 -6.2 -7 -4 -7 -2.1 -21.1 -9.2 -14 -6.4 -14.1 -6.6 -49.2 -24 -35.1 -16.6M286.3 133.7l-21.1 -9.5 -28.1 -13.4M442.5 159.2l-35.1 -16.1 -5.4 -3.1M443.2 160.6l-35.1 -16.1 -7.1 -4.2M401.7 141.6l-1.9 -.5"/><path stroke="#fbcb33" d="M377.7 174.7l1.4 -3M440.4 155.6l2 3.7M370.7 171.4l1.4 -3M433.4 152.3l2 3.7M363.6 168.2l1.4 -3M426.4 149.1l2 3.7M356.6 165l1.4 -3M419.4 145.9l2 3.7M349.6 161.8l1.4 -3M412.3 142.7l2 3.7M342.6 158.6l1.4 -3M405.3 139.5l2 3.7M334.8 156l2 -4.4M328.5 152.2l1.4 -3M321.5 149.1l1.4 -3.1M314.5 146l1.4 -3.1M307.4 142l1.4 -3M300.4 139.9l2 -4.6M293.4 136.8l2 -4.7M287 132.1l1.4 -3.1M280 129l1.4 -3.1M273 125.8l1.4 -3.1M265.9 122.6l1.4 -3.1M258.9 119.3l1.4 -3.1M251.9 116l1.4 -3.1M244.9 112.6l1.4 -3.1M237.2 110.8l2 -4.7M230.1 107.4l2 -4.6M223.1 103.9l2 -4.6M216.1 100.5l1.4 -3.1M209.1 97.1l1.4 -3.1M202 93.7l1.4 -3M195 90.4l1.4 -3M188 87.1l1.4 -3M180.9 83.8l1.4 -3M173.9 80.5l1.4 -3M166.9 77.2l1.4 -3M334.8 156l-7 -2.2M377.7 174.7l-35.1 -16.1 -7.1 -4.1 -7 -2.2 -14 -6.3 -7.1 -3.9 -7 -2.2 -14 -6.1M237.2 110.8l-35.1 -17.1 -35.2 -16.5M378.4 173.1l-35.1 -16.1 -7.1 -4 -7 -2.4 -14 -6.2 -7.1 -3.9 -7 -2.3 -35.1 -15.6 -14.1 -6.7 -49.2 -23.8 -35.1 -16.5M301.8 136.7l-35.1 -15.7 -14.1 -6.6 -35.1 -17M440.4 155.6l-35.8 -16.5M441.1 156.7l-35.1 -16.1 -2.4 -1.4M441.8 158l-35.1 -16.1 -3.9 -2.2"/><path stroke="#fccf30" d="M379.1 171.7l2 -4.2M439.1 153.4l1.4 2.2M372 168.4l2 -4.2M432 150.2l1.4 2.2M365 165.2l2 -4.2M425 146.9l1.4 2.2M358 162l2 -4.2M418 143.7l1.4 2.2M350.9 158.7l2 -4.2M411 140.5l1.4 2.2M343.9 155.5l2 -4.2M405 138.9l.3 .6M336.9 151.6l1.4 -2.7M329.9 149.2l2 -4.2M322.8 146l2 -4.3M315.8 142.9l2 -4.3M308.8 139.1l2 -4.2M302.4 135.2l1.4 -2.9M295.4 132.1l1.4 -2.9M288.4 129l1.4 -2.9M281.4 125.9l2 -4.3M274.3 122.7l2 -4.3M267.3 119.5l2 -4.3M260.3 116.2l2 -4.3M253.3 112.9l2 -4.3M246.2 109.5l1.4 -2.9M239.2 106.1l1.4 -2.9M232.2 102.7l1.4 -2.9M225.2 99.3l1.4 -2.8M217.4 97.4l2 -4.3M210.4 94l2 -4.3M203.4 90.7l2 -4.2M196.4 87.3l2 -4.2M189.3 84l2 -4.2M182.3 80.7l2 -4.2M175.3 77.5l2 -4.2M168.3 74.2l2 -4.2M379.1 171.7l-35.1 -16.1 -7.1 -4 -7 -2.4 -14 -6.3 -7.1 -3.8 -7 -2.3M217.4 97.4l-49.2 -23.2M379.7 170.2l-35.1 -16.1 -7.1 -3.9 -7 -2.5 -14 -6.3 -7.1 -3.8 -7 -2.4 -35.1 -15.8 -63.3 -30.2 -35.1 -16.5M380.4 168.8l-35.1 -16.2 -7.1 -3.8M331.2 146.3l-14.1 -6.3 -7 -3.8 -7 -2.4 -35.1 -15.8 -63.3 -30.2 -35.1 -16.5M282.7 122.9l-35.1 -16.3M439.1 153.4l-32.9 -15.1M439.8 154.5l-34.5 -15.8"/><path stroke="#fad52e" d="M381.1 167.5l2 -3.9M437 150.5l2 2.9M374.1 164.2l2 -3.9M430 147.3l2 2.9M367 161l2 -3.9M423 144l2 2.9M360 157.8l2 -3.9M415.9 140.8l2 2.9M353 154.5l2 -3.9M408.9 137.6l2 2.9M346 151.3l2 -3.9M338.3 148.9l2 -3.9M331.9 144.9l2 -3.9M324.9 141.8l2 -3.9M317.9 138.6l2 -3.9M310.8 134.9l2 -3.8M303.8 132.4l2 -4M296.8 129.2l2 -4M289.8 126.1l2 -4.1M283.4 121.5l1.4 -2.7M276.4 118.4l1.4 -2.7M269.4 115.1l1.4 -2.7M262.3 111.9l1.4 -2.7M255.3 108.5l1.4 -2.7M247.6 106.6l2 -4.1M240.6 103.2l2 -4M233.5 99.9l2 -4M226.5 96.5l2 -4M219.5 93.1l2 -3.9M212.5 89.8l2 -3.9M205.4 86.4l2 -3.9M198.4 83.1l2 -3.9M191.4 79.8l2 -3.9M184.4 76.5l2 -3.9M177.3 73.3l2 -3.9M170.3 70l2 -3.9M338.3 148.9l-7 -2.6M381.1 167.5l-35.1 -16.2 -7.1 -3.7 -7 -2.6 -14 -6.4 -7.1 -3.7 -7 -2.5 -21.1 -9.4M247.6 106.6l-42.2 -20.2 -35.1 -16.4M381.8 166.2l-35.1 -16.2 -7.1 -3.7 -7 -2.7 -14 -6.3 -7.1 -3.7 -7 -2.6 -35.1 -15.8 -63.3 -30.1 -35.1 -16.4M382.5 164.9l-35.1 -16.2 -7.1 -3.7M333.3 142.3l-14.1 -6.3 -7 -3.7 -7 -2.6 -35.1 -15.9 -63.3 -30 -35.1 -16.4M437 150.5l-28.1 -13M437.7 151.5l-29.7 -13.7M438.4 152.4l-31.3 -14.4"/><path stroke="#f8db2b" d="M383.1 163.6l2 -3.6M435 148l2 2.5M376.1 160.4l2 -3.6M428 144.7l2 2.5M369.1 157.1l2 -3.6M420.9 141.5l2 2.6M362.1 153.9l2 -3.6M413.9 138.2l2 2.6M355 150.7l2 -3.6M408.9 137.6l0 0M348 147.4l2 -3.6M340.3 145l2.7 -4.7M334 141l2 -3.6M326.9 137.8l2 -3.6M319.9 134.7l2 -3.7M312.9 131.1l2 -3.6M305.9 128.4l2 -3.7M298.8 125.2l2 -3.7M291.8 122l2 -3.7M284.8 118.9l2 -3.8M277.7 115.7l2 -3.8M270.7 112.4l2 -3.8M263.7 109.2l2 -3.8M256.7 105.9l2 -3.8M249.6 102.5l2 -3.7M242.6 99.2l2 -3.7M235.6 95.9l2 -3.7M228.6 92.5l2 -3.7M221.5 89.2l2 -3.7M214.5 85.8l2 -3.6M207.5 82.5l2 -3.6M200.5 79.2l2 -3.6M193.4 75.9l2 -3.6M186.4 72.7l2 -3.6M179.4 69.4l2 -3.6M172.3 66.1l2 -3.6M340.3 145l-7 -2.7M383.1 163.6l-35.1 -16.2 -7.1 -3.6 -7 -2.8 -14 -6.4 -7.1 -3.6 -7 -2.7 -35.1 -15.9 -63.3 -29.9 -35.1 -16.4M383.8 162.4l-35.1 -16.2 -7.1 -3.6 -7 -2.8 -14 -6.4 -7.1 -3.6 -7 -2.7 -35.1 -16 -98.4 -46.2M384.5 161.2l-35.1 -16.2 -7.1 -3.6 -7 -2.8 -14 -6.4 -7.1 -3.6 -7 -2.7 -35.1 -16 -98.4 -46.2M435 148l-23.6 -10.9M435.7 148.8l-24.9 -11.5M436.3 149.6l-26.7 -12.3"/><path stroke="#f6e029" d="M385.2 160l2 -3.4M432.3 145l2.7 3M378.2 156.8l2 -3.4M425.2 141.7l2.7 3M371.1 153.5l2 -3.4M418.2 138.5l2.7 3M364.1 150.3l2 -3.4M412.7 136.9l1.2 1.4M357.1 147.1l2 -3.4M350.1 143.8l2 -3.4M343 140.3l2 -3.4M336 137.4l2 -3.4M329 134.2l2 -3.5M322 131l2 -3.5M314.9 127.5l2 -3.4M307.9 124.7l2.7 -4.7M300.9 121.5l2.7 -4.7M293.8 118.3l2.7 -4.7M286.8 115.1l2.7 -4.7M279.8 111.9l2.7 -4.7M272.8 108.7l2.7 -4.7M265.7 105.4l2.7 -4.7M258.7 102.1l2.7 -4.7M251.7 98.8l2.7 -4.7M244.7 95.5l2.7 -4.7M237.6 92.2l2.7 -4.7M230.6 88.8l2 -3.5M223.6 85.5l2 -3.5M216.6 82.2l2 -3.5M209.5 78.9l2 -3.4M202.5 75.6l2 -3.4M195.5 72.3l2 -3.4M188.4 69.1l2 -3.4M181.4 65.8l2 -3.4M174.4 62.5l2 -3.4M385.2 160l-35.1 -16.2 -7.1 -3.6 -7 -2.8 -14 -6.4 -7.1 -3.6 -7 -2.8 -35.1 -16 -98.4 -46.1M385.9 158.9l-35.1 -16.2 -7.1 -3.5 -7 -2.9 -14 -6.4 -7.1 -3.6 -7 -2.8 -35.1 -16 -98.4 -46.1M386.6 157.8l-35.1 -16.2 -7.1 -3.5 -7 -2.9 -14 -6.4 -7.1 -3.5 -7 -2.9 -35.1 -16.1 -98.4 -46M309.9 121.2l-35.1 -16 -42.2 -19.8M432.3 145l-18.4 -8.5M432.9 145.7l-19.3 -8.9M433.6 146.4l-20.9 -9.6M434.3 147.2l-22 -10.1"/><path stroke="#f5e626" d="M387.2 156.6l2.7 -4.5M429.5 142.2l2.7 2.8M380.2 153.4l2.7 -4.5M422.5 138.9l2.7 2.8M373.2 150.1l2.7 -4.5M416.2 136.4l2 2.1M366.2 146.9l2.7 -4.5M359.1 143.6l2.7 -4.5M352.1 140.4l2.7 -4.5M345.1 136.9l2.7 -4.4M338.1 134l2.7 -4.5M331 130.8l2.7 -4.5M324 127.5l2.7 -4.5M317 124.1l2.7 -4.4M310.6 120l2 -3.4M303.6 116.8l2 -3.4M296.6 113.6l2 -3.4M289.5 110.4l2 -3.4M282.5 107.2l2 -3.4M275.5 103.9l2 -3.4M268.5 100.7l2 -3.4M261.4 97.4l2 -3.4M254.4 94.1l2 -3.4M247.4 90.8l2 -3.4M240.4 87.5l2 -3.4M232.7 85.4l2.7 -4.5M225.6 82l2.7 -4.5M218.6 78.8l2.7 -4.5M211.6 75.5l2.7 -4.5M204.5 72.2l2.7 -4.5M197.5 68.9l2.7 -4.5M190.5 65.6l2.7 -4.5M183.5 62.4l2.7 -4.5M176.4 59.1l2.7 -4.5M387.2 156.6l-35.1 -16.2 -7.1 -3.5 -7 -3 -14 -6.4 -7.1 -3.4 -7 -2.9M232.7 85.4l-56.2 -26.2M387.9 155.5l-35.1 -16.2 -7.1 -3.5 -7 -3 -14 -6.4 -7.1 -3.4 -7 -3 -35.1 -16 -98.4 -46M388.6 154.3l-35.1 -16.2 -7.1 -3.5 -7 -3 -14 -6.4 -7.1 -3.4 -7 -3 -35.1 -16.1 -98.4 -45.9M389.3 153.2l-35.1 -16.2 -7.1 -3.5 -7 -3 -14 -6.4 -7.1 -3.4 -7 -3 -35.1 -16.1 -98.4 -45.9M429.5 142.2l-12.7 -5.9M430.2 142.9l-14.3 -6.6M430.9 143.5l-15.2 -7M431.6 144.3l-16.8 -7.7"/><path stroke="#f6ec21" d="M390 152.2l2.7 -4M426.8 139.8l2.7 2.4M382.9 148.9l2.7 -4M419.8 136.6l2.7 2.4M375.9 145.7l2.7 -4M368.9 142.4l2.7 -4M361.9 139.2l2.7 -4M354.8 135.9l2.7 -4M347.8 132.5l2.7 -3.9M384.6 120.2l0 0M340.8 129.5l2.7 -4M377.8 117.2l0 0M333.8 126.2l2.7 -4M326.7 123l2.7 -4M319.7 119.6l2.7 -3.9M312.7 116.6l2.7 -4M305.6 113.4l2.7 -4.1M298.6 110.2l2.7 -4.1M291.6 107l2.7 -4.1M284.6 103.7l2.7 -4.1M277.5 100.5l2.7 -4.1M270.5 97.2l2.7 -4.1M263.5 94l2.7 -4.1M256.5 90.7l2.7 -4.1M249.4 87.4l2.7 -4.1M286.3 75l0 0M242.4 84.1l2.7 -4M235.4 80.8l2.7 -4M228.4 77.5l2.7 -4M221.3 74.2l2.7 -4M214.3 71l2.7 -4M251.3 58.7l0 0M207.3 67.7l2.7 -4M244.3 55.5l0 0M200.2 64.4l2.7 -4M193.2 61.2l2.7 -4M186.2 57.9l2.7 -4M179.2 54.7l2.7 -4M390 152.2l-35.1 -16.2 -7.1 -3.4 -7 -3.1 -21.1 -9.8 -7 -3 -35.1 -16.1 -98.4 -45.9M390.7 151.1l-35.1 -16.2 -7.1 -3.4 -7 -3.1 -21.1 -9.8 -7 -3.1 -35.1 -16.1 -98.4 -45.8M391.3 150.1l-42.2 -19.6 -70.2 -32.1 -98.4 -45.8M392 149.1l-42.2 -19.6 -70.2 -32.2 -98.4 -45.7M426.8 139.8l-7.3 -3.4M418 135.7l0 0M417.3 135.4l0 0M416.8 135.2l0 0M416.4 135l0 0M414.6 134.2l0 0M414.1 133.9l0 0M413.6 133.7l0 0M412.5 133.2l0 0M411.4 132.7l0 0M410.9 132.5l0 0M409.8 132l0 0M409.3 131.7l0 0M408.2 131.2l0 0M407.5 130.9l0 0M407.1 130.7l0 0M406.6 130.5l0 0M404.8 129.7l0 0M404.4 129.4l0 0M403.9 129.2l0 0M402.8 128.7l0 0M401.6 128.2l0 0M401.2 128l0 0M400.5 127.7l0 0M400 127.5l0 0M399.6 127.2l0 0M398.5 126.7l0 0M397.8 126.4l0 0M397.3 126.2l0 0M396.9 126l0 0M395.1 125.2l0 0M394.6 124.9l0 0M394.2 124.7l0 0M393 124.2l0 0M391.4 123.5l0 0M390.8 123.2l0 0M390.3 123l0 0M389.9 122.7l0 0M388.8 122.2l0 0M388.1 121.9l0 0M387.7 121.7l0 0M387.3 121.5l-.2 -.1M386.6 121.2l0 0M386.2 121l0 0M385.7 120.7l-.2 -.1M385.1 120.4l0 0M384.6 120.2l0 0M384 119.9l0 0M383.5 119.7l-.2 -.1M382.8 119.4l0 0M382.4 119.2l0 0M380.1 118.2l0 0M377.8 117.2l0 0M375.1 116l0 0M373.5 115.2l0 0M372.4 114.7l0 0M371.3 114.2l0 0M370.8 114l0 0M368.5 112.9l0 0M368.1 112.7l0 0M365.8 111.7l0 0M365.4 111.5l0 0M362.7 110.2l0 0M362 109.9l0 0M361.6 109.7l0 0M360 109l0 0M358.9 108.5l0 0M358.5 108.2l-.2 -.1M357.8 107.9l0 0M357.4 107.7l0 0M356.3 107.2l0 0M355.8 107l0 0M354.7 106.5l0 0M354 106.2l0 0M346.8 103l0 0M339.8 99.7l0 0M337 98.5l0 0M291.1 77.2l0 0M286.3 75l0 0M280.3 72.2l0 0M276.6 70.5l0 0M275.5 70l0 0M273.3 68.9l0 0M272.9 68.7l0 0M271.8 68.2l0 0M269.6 67.2l0 0M268 66.5l0 0M266.3 65.7l0 0M265.8 65.5l0 0M264.3 64.7l0 0M262.5 63.9l0 0M262.1 63.7l0 0M261 63.2l0 0M258.8 62.2l0 0M258.4 62l0 0M257.3 61.5l0 0M255.5 60.7l0 0M255.1 60.5l0 0M254.6 60.2l0 0M253.5 59.7l0 0M252.4 59.2l0 0M251.8 58.9l0 0M251.3 58.7l0 0M249.8 58l0 0M248.6 57.5l0 0M248.2 57.2l0 0M247.5 56.9l0 0M247 56.7l0 0M245.5 56l0 0M244.8 55.7l0 0M244.3 55.5l0 0M243.9 55.2l0 0M241.6 54.2l0 0M241.2 54l0 0M240 53.5l0 0M239.6 53.2l0 0M238.4 52.7l0 0M237.8 52.4l0 0M237.3 52.2l0 0M236.8 52l0 0M235.3 51.2l-.2 -.1M234.6 50.9l0 0M234.1 50.7l0 0M232.5 50l0 0M231.4 49.5l0 0M231 49.2l0 0M230.3 48.9l0 0M229.8 48.7l0 0M228.2 48l-.2 -.1M227.6 47.7l0 0M227.1 47.5l0 0M225.5 46.7l0 0M224.8 46.4l0 0M224.4 46.2l0 0M223.9 46l0 0M222.8 45.5l0 0M221.7 44.9l0 0M221.2 44.7l0 0M220.5 44.4l0 0M220.1 44.2l0 0M219.6 44l0 0M217.8 43.2l0 0M217.4 42.9l0 0M216.9 42.7l0 0M427.5 140.4l-8.2 -3.8M428.2 140.9l-9.5 -4.4M418.2 136.3l0 0M428.8 141.5l-11.3 -5.2"/><path stroke="#f7f21c" d="M392.7 148.2l2 -2.4 1.4 -1.3M422.7 137.6l2 .9 2.1 1.3M385.7 145l2 -2.4 1.4 -1.3M415.7 134.4l2 .9 1.6 .9M419.6 136.4l.2 .1M378.6 141.7l2 -2.4 1.4 -1.3M408.7 131.1l2 .9 1.6 .9M412.6 133.2l0 0M371.6 138.5l2 -2.4 1.4 -1.3M401.6 127.9l2 .9 1.6 .9M405.5 130l0 0M364.6 135.2l2 -2.4 1.4 -1.3M394.6 124.6l2 .9 1.9 1.2M357.6 132l2 -2.4 1.4 -1.3M387.6 121.4l2 .9 1.9 1.2M350.5 128.6l1.4 -1.6 2 -2.1M380.5 118.1l2 .8 1.8 1.1M384.6 120.2l0 0M343.5 125.5l2 -2.4 1.4 -1.4M373.5 114.9l2 .9 1.9 1.2M336.5 122.3l2 -2.4 1.4 -1.4M366.5 111.6l1.4 .5 1.7 1M369.9 113.4l0 0M329.5 119l2 -2.5 1.4 -1.3M359.5 108.4l1.4 .5 2 1.3M322.4 115.7l2 -2.4 1.4 -1.3M352.4 105.1l2 .9 1.6 .9M356.4 107.2l0 0M315.4 112.6l2 -2.5 1.4 -1.3M345.4 101.9l1.4 .6 2 1.2M349.2 104l0 0M308.4 109.3l2 -2.5 1.4 -1.3M338.4 98.7l1.4 .6 2 1.2M342.1 100.7l0 0M301.3 106.1l2 -2.5 1.4 -1.3M331.4 95.4l2.9 1.5M334.6 97.1l0 0M294.3 102.9l2 -2.5 1.4 -1.3M324.3 92.2l1.4 .6 1.8 1.1M327.9 94.2l0 0M287.3 99.6l2 -2.5 1.4 -1.4M317.3 88.9l1.4 .6 1.8 1.1M320.9 90.9l0 0M280.3 96.4l2 -2.5 1.4 -1.4M310.3 85.7l1.4 .6 1.8 1.1M313.9 87.7l0 0M273.2 93.1l2 -2.5 1.4 -1.4M303.3 82.4l1.4 .6 1.8 1.1M306.8 84.4l0 0M266.2 89.9l2 -2.5 1.4 -1.3M296.2 79.2l1.4 .6 1.8 1.1M299.8 81.2l0 0M259.2 86.6l2 -2.5 1.4 -1.3M289.2 75.9l1.4 .6 1.8 1.1M292.8 77.9l0 0M252.2 83.3l2 -2.5 1.4 -1.3M282.2 72.7l2 .9 1.8 1.2M286.3 75l0 0M245.1 80.1l2 -2.5 1.4 -1.3M275.1 69.4l1.4 .6 2 1.2M278.9 71.5l0 0M238.1 76.8l2 -2.5 1.4 -1.3M268.1 66.2l1.4 .5 2 1.3M271.9 68.2l0 0M231.1 73.5l2 -2.5 1.4 -1.3M261.1 62.9l1.4 .5 2 1.3M264.8 64.9l0 0M224.1 70.3l2 -2.4 1.4 -1.4M254.1 59.6l1.4 .5 2 1.2M257.8 61.6l0 0M217 67l2 -2.4 1.4 -1.4M247 56.4l2 .9 1.9 1.2M210 63.7l2 -2.4 1.4 -1.3M240 53.1l2 .9 1.9 1.2M203 60.5l2 -2.4 1.4 -1.3M233 49.9l2 .9 1.6 .9M236.9 52l0 0M195.9 57.2l2 -2.4 1.4 -1.3M226 46.6l2 .9 1.6 .9M229.9 48.7l0 0M188.9 54l2 -2.4 1.4 -1.3M218.9 43.4l2 .9 1.6 .9M222.9 45.5l0 0M181.9 50.7l2 -2.4 1.4 -1.3M211.9 40.1l2 .9 1.6 .9M215.8 42.2l0 0M392.7 148.2l-42.2 -19.6 -70.2 -32.2 -98.4 -45.7M393.4 147.3l-42.2 -19.6 -70.2 -32.2 -98.4 -45.7M394.1 146.5l-112.4 -51.9 -98.4 -45.6M394.7 145.8l-210.8 -97.5M395.4 145.1l-210.8 -97.5M422.7 137.6l-210.8 -97.5M423.4 137.8l-210.8 -97.5M424.1 138.1l-210.8 -97.5M424.8 138.5l-112.4 -51.8 -98.4 -45.7M425.4 138.9l-42.2 -19.6 -70.2 -32.2 -98.4 -45.7M426.1 139.3l-7.5 -3.5M418.2 135.7l-2.3 -1M415.5 134.4l0 0M415 134.2l-6.1 -2.8M408.4 131.2l-2.3 -1M405.7 129.9l0 0M405.3 129.7l-6.1 -2.8M398.7 126.7l-2.7 -1.3M395.5 125.2l-3.4 -1.6M391.7 123.4l-2.2 -1M389 122.1l-7.5 -3.5M381 118.4l-1.8 -.8M378.7 117.4l-1.8 -.8M376.5 116.4l0 0M376 116.2l-1.8 -.8M373.8 115.2l-3.9 -1.8M369.4 113.2l-2.3 -1M366.7 111.9l-2.3 -1M364 110.7l-.7 -.3M362.9 110.2l-2.2 -1M360.2 108.9l-4.8 -2.3M354.9 106.4l-1.8 -.8M352.7 105.4l0 0M352.2 105.2l0 0M351.5 104.9l-.7 -.3M350.4 104.4l0 0M350 104.2l0 0M349.3 103.9l-1.1 -.5M347.7 103.2l0 0M347.2 103l-1.8 -.8M345 101.9l0 0M344.5 101.7l-.2 -.1M343.8 101.4l-1.1 -.5M342.2 100.7l-.7 -.3M341.1 100.2l0 0M340.7 100l-.2 -.1M340 99.6l-1.1 -.5M338.4 98.9l0 0M337.9 98.7l0 0M337.3 98.4l-1.1 -.5M335.7 97.7l0 0M335.2 97.5l0 0M334.5 97.1l0 0M334.1 96.9l-.7 -.3M333 96.4l0 0M332.5 96.2l-.2 -.1M331.8 95.9l0 0M331.4 95.7l-.7 -.3M330.2 95.2l-.7 -.3M329.1 94.6l0 0M328.6 94.4l0 0M328.2 94.2l-.2 -.1M327.5 93.9l-1.1 -.5M325.9 93.2l0 0M325.5 93l0 0M324.8 92.7l-1.1 -.5M323.2 91.9l0 0M322.8 91.7l-.2 -.1M322.1 91.4l0 0M321.6 91.2l-.7 -.3M320.5 90.7l-.7 -.3M319.4 90.2l0 0M318.9 89.9l0 0M318.4 89.7l-.2 -.1M317.8 89.4l-.7 -.3M316.6 88.9l0 0M316.2 88.7l0 0M315.7 88.5l-.2 -.1M315 88.2l-1.1 -.5M313.5 87.4l0 0M313 87.2l-.2 -.1M312.3 86.9l0 0M311.9 86.7l-.7 -.3M310.7 86.2l-.7 -.3M309.6 85.6l0 0M309.2 85.4l0 0M308.7 85.2l0 0M308 84.9l-1.1 -.5M306.4 84.2l0 0M306 84l-.2 -.1M305.3 83.7l0 0M304.8 83.4l-.7 -.3M303.7 82.9l0 0M303.3 82.7l-.7 -.3M302.1 82.2l0 0M301.7 82l-.2 -.1M301 81.7l-1.1 -.5M299.4 80.9l0 0M299 80.7l0 0M298.5 80.5l-.2 -.1M297.8 80.2l-.7 -.3M296.7 79.7l0 0M296.2 79.4l-.7 -.3M295.1 78.9l0 0M294.6 78.7l-.7 -.3M293.5 78.2l-.7 -.3M292.4 77.7l0 0M291.9 77.4l0 0M291.5 77.2l-1.3 -.6M289.8 76.4l-.7 -.3M288.7 75.9l0 0M288.2 75.7l0 0M287.6 75.4l-1.1 -.5M286 74.7l-.7 -.3M284.9 74.2l0 0M284.5 74l-.2 -.1M283.8 73.7l-.7 -.3M282.7 73.1l-1.1 -.5M281.2 72.4l0 0M280.7 72.2l-1.3 -.6M279 71.4l-1.1 -.5M277.5 70.7l0 0M277 70.5l-1.3 -.6M275.3 69.7l-.7 -.3M274.2 69.2l0 0M273.7 69l-1.8 -.8M271.5 67.9l-.7 -.3M270.4 67.4l0 0M270 67.2l-2.9 -1.3M266.7 65.7l-1.8 -.8M264.5 64.7l-1.1 -.5M263 63.9l-1.8 -.8M260.8 62.9l-.7 -.3M259.7 62.4l0 0M259.2 62.2l-1.8 -.8M257 61.2l-.7 -.3M255.9 60.6l-2.7 -1.3M252.7 59.2l-2.3 -1.1M250 57.9l-3.9 -1.8M245.7 55.9l-2.7 -1.3M242.5 54.4l-6.6 -3M235.5 51.2l-2.3 -1.1M232.8 49.9l-3.9 -1.8M228.5 47.9l-2.3 -1M225.7 46.7l-2.3 -1M223 45.4l-3.9 -1.8M218.7 43.4l0 0M218.3 43.2l-2.9 -1.4"/><path stroke="#f9f817" d="M396.1 144.5l2.7 -2.3 2.1 -1.4 4.1 -1.7 3.4 -1.1 4.1 -.9 4.1 -.5 2.7 .2 3.4 .8M389.1 141.2l2.7 -2.3 2.1 -1.4 4.1 -1.7 3.4 -1.1 4.1 -.9 4.1 -.5 2.7 .2 3.4 .8M382.1 138l2.7 -2.3 2.1 -1.4 4.1 -1.7 3.4 -1.1 4.1 -.9 4.1 -.5 2.7 .2 3.4 .8M375 134.7l2.7 -2.3 2.1 -1.4 4.1 -1.7 3.4 -1.1 4.1 -.9 4.1 -.5 2.7 .2 3.4 .8M368 131.5l2.7 -2.3 2.1 -1.4 4.1 -1.7 3.4 -1.1 4.1 -.9 4.1 -.5 2.7 .2 3.4 .8M361 128.2l2.7 -2.3 2.1 -1.4 4.1 -1.7 3.4 -1.1 4.1 -.9 4.1 -.5 2.7 .2 3.4 .8M353.9 124.9l2.7 -2.3 2.1 -1.3 4.1 -1.8 3.4 -1.1 4.1 -.8 4.1 -.6 2.7 .2 3.4 .8M346.9 121.7l2.7 -2.3 2.1 -1.4 4.1 -1.7 3.4 -1.1 4.1 -.9 4.1 -.5 2.7 .2 3.4 .8M339.9 118.5l2.7 -2.3 2.1 -1.4 4.1 -1.7 3.4 -1.1 4.1 -.9 4.1 -.5 2.7 .2 3.4 .8M332.9 115.2l2.7 -2.3 2.1 -1.4 4.1 -1.8 3.4 -1 4.1 -.9 4.1 -.5 2.7 .2 3.4 .8M325.8 112l2.7 -2.3 2.1 -1.4 4.1 -1.7 3.4 -1.1 4.1 -.8 4.1 -.6 2.7 .2 3.4 .8M318.8 108.8l2.7 -2.3 2.1 -1.4 4.1 -1.8 3.4 -1 4.1 -.9 4.1 -.5 2.7 .2 3.4 .9M311.8 105.5l2.7 -2.3 2.1 -1.4 4.1 -1.8 3.4 -1.1 4.1 -.8 4.1 -.5 2.7 .2 3.4 .9M304.8 102.3l2.7 -2.4 2.1 -1.3 4.1 -1.8 3.4 -1.1 4.1 -.8 4.1 -.5 2.7 .2 3.4 .9M297.7 99l2.7 -2.4 2.1 -1.3 4.1 -1.8 3.4 -1.1 4.1 -.8 4.1 -.5 2.7 .2 3.4 .9M290.7 95.8l2.7 -2.4 2.1 -1.3 4.1 -1.8 3.4 -1.1 4.1 -.8 4.1 -.6 2.7 .3 3.4 .9M283.7 92.5l2.7 -2.4 2.1 -1.3 4.1 -1.8 3.4 -1.1 4.1 -.8 4.1 -.6 2.7 .3 3.4 .9M276.7 89.3l2.7 -2.4 2.1 -1.3 4.1 -1.8 3.4 -1.1 4.1 -.8 4.1 -.6 2.7 .3 3.4 .9M269.6 86l2.7 -2.4 2.1 -1.3 4.1 -1.8 3.4 -1.1 4.1 -.8 4.1 -.5 2.7 .2 3.4 .9M262.6 82.8l2.7 -2.4 2.1 -1.3 4.1 -1.8 3.4 -1.1 4.1 -.8 4.1 -.5 2.7 .2 3.4 .9M255.6 79.5l2.7 -2.3 2.1 -1.4 4.1 -1.8 3.4 -1.1 4.1 -.8 4.1 -.5 2.7 .2 3.4 .9M248.5 76.3l2.7 -2.3 2.1 -1.4 4.1 -1.8 3.4 -1 4.1 -.9 4.1 -.5 2.7 .2 3.4 .9M241.5 73l2.7 -2.3 2.1 -1.4 4.1 -1.8 3.4 -1 4.1 -.9 4.1 -.5 2.7 .2 3.4 .8M234.5 69.7l2.7 -2.3 2.1 -1.4 4.1 -1.8 3.4 -1 4.1 -.9 4.1 -.5 2.7 .2 3.4 .8M227.5 66.5l2.7 -2.3 2.1 -1.4 4.1 -1.7 3.4 -1.1 4.1 -.9 4.1 -.5 2.7 .2 3.4 .8M220.4 63.2l2.7 -2.3 2.1 -1.4 4.1 -1.7 3.4 -1.1 4.1 -.9 4.1 -.5 2.7 .2 3.4 .8M213.4 60l2.7 -2.3 2.1 -1.4 4.1 -1.7 3.4 -1.1 4.1 -.9 4.1 -.5 2.7 .2 3.4 .8M206.4 56.7l2.7 -2.3 2.1 -1.4 4.1 -1.7 3.4 -1.1 4.1 -.9 4.1 -.5 2.7 .2 3.4 .8M199.4 53.5l2.7 -2.3 2.1 -1.4 4.1 -1.7 3.4 -1.1 4.1 -.9 4.1 -.5 2.7 .2 3.4 .8M192.3 50.2l2.7 -2.3 2.1 -1.4 4.1 -1.7 3.4 -1.1 4.1 -.9 4.1 -.5 2.7 .2 3.4 .8M185.3 47l2.7 -2.3 2.1 -1.4 4.1 -1.7 3.4 -1.1 4.1 -.9 4.1 -.5 2.7 .2 3.4 .8M396.1 144.5l-210.8 -97.5M396.8 143.9l-210.8 -97.5M397.5 143.3l-210.8 -97.5M398.2 142.7l-210.8 -97.5M398.8 142.2l-210.8 -97.5M399.5 141.7l-210.8 -97.5M400.2 141.2l-210.8 -97.5M400.9 140.8l-210.8 -97.5M401.6 140.5l-210.8 -97.5M402.2 140.2l-210.8 -97.5M402.9 139.9l-210.8 -97.5M403.6 139.6l-210.8 -97.5M404.3 139.3l-210.8 -97.5M405 139l-210.8 -97.5M405.7 138.8l-210.8 -97.5M406.3 138.6l-210.8 -97.5M407 138.3l-210.8 -97.5M407.7 138.2l-210.8 -97.5M408.4 138l-210.8 -97.5M409.1 137.8l-210.8 -97.5M409.7 137.6l-210.8 -97.5M410.4 137.5l-210.8 -97.5M411.1 137.4l-210.8 -97.5M411.8 137.2l-210.8 -97.5M412.5 137.1l-210.8 -97.5M413.2 137l-210.8 -97.5M413.8 136.9l-210.8 -97.5M414.5 136.8l-210.8 -97.5M415.2 136.7l-210.8 -97.5M415.9 136.6l-210.8 -97.5M416.6 136.6l-210.8 -97.5M417.2 136.6l-210.8 -97.5M417.9 136.6l-210.8 -97.5M418.6 136.7l-210.8 -97.5M419.3 136.8l-210.8 -97.5M420 136.9l-210.8 -97.5M420.7 137.1l-210.8 -97.5M421.3 137.2l-210.8 -97.5M422 137.4l-210.8 -97.5"/></g><path d="M544.1 311.4L271.3 385.6L60.5 288.1L60.5 77.8M271.3 385.6L277.7 388.5M347.1 365L353.4 367.9M422.9 344.4L429.2 347.3M498.6 323.8L505 326.7M229.1 366.1L222.4 367.9M172.9 340.1L166.2 341.9M116.7 314.1L110 315.9M60.5 288.1L53.7 289.9M60.5 288.1L54.1 285.2M60.5 258.1L54.1 255.1M60.5 228L54.1 225.1M60.5 198L54.1 195M60.5 167.9L54.1 165M60.5 137.9L54.1 134.9M60.5 107.8L54.1 104.9M60.5 77.8L54.1 74.8" stroke="#262626" stroke-width="0.9" fill="none"/><g font-size="15"><text x="49" y="289.4" text-anchor="end">-35</text><text x="49" y="259.4" text-anchor="end">-30</text><text x="49" y="229.3" text-anchor="end">-25</text><text x="49" y="199.3" text-anchor="end">-20</text><text x="49" y="169.2" text-anchor="end">-15</text><text x="49" y="139.2" text-anchor="end">-10</text><text x="49" y="109.1" text-anchor="end">-5</text><text x="49" y="79.1" text-anchor="end">0</text><text x="216.3" y="386.3" text-anchor="end">400</text><text x="160.1" y="360.3" text-anchor="end">600</text><text x="103.9" y="334.3" text-anchor="end">800</text><text x="47.7" y="308.3" text-anchor="end">1000</text><text x="282.7" y="406.6">0</text><text x="358.5" y="386">100</text><text x="434.3" y="365.4">200</text><text x="510" y="344.8">300</text></g><g font-size="16.5"><text x="52" y="404">Frequency(Hz)</text><text x="388.8" y="409.5">Azimuth(<tspan font-size="18" dx="-1.0" dy="0.6" font-family="DejaVu Sans">∘</tspan><tspan dx="-2.6" dy="-0.6">)</tspan></text><text transform="translate(16.6 184.5) rotate(-90)" text-anchor="middle">Normalized Beampattern</text></g></svg></body></html>
